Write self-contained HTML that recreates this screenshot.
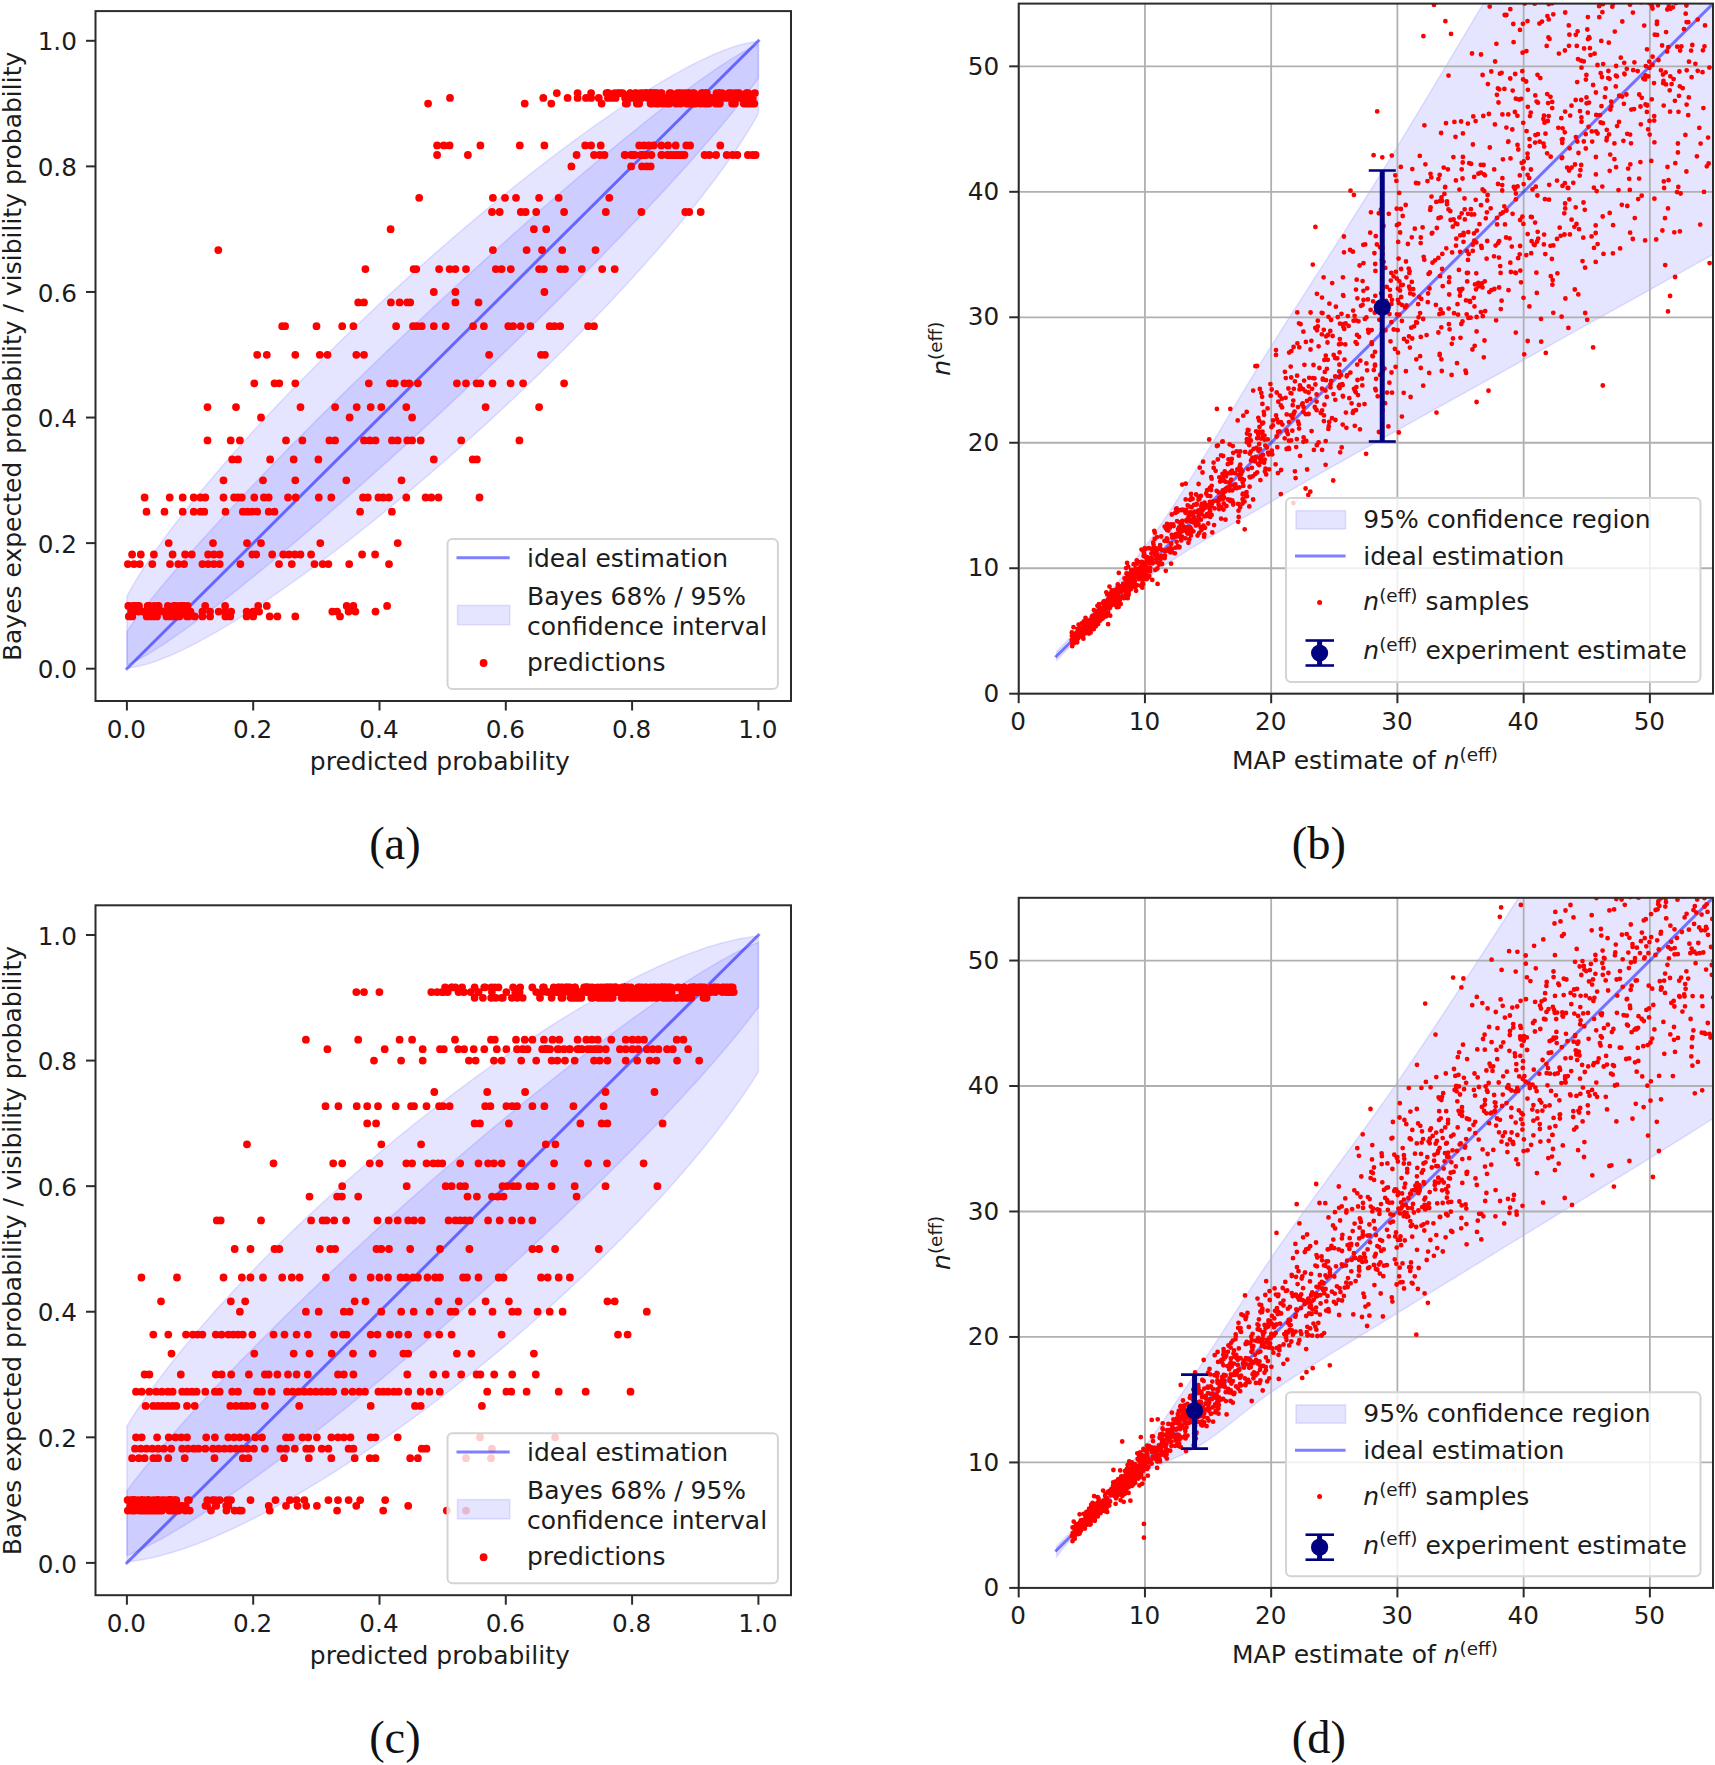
<!DOCTYPE html>
<html lang="en"><head><meta charset="utf-8"><title>Figure</title>
<style>html,body{margin:0;padding:0;background:#fff}svg{display:block}</style></head>
<body>
<svg width="1715" height="1765" viewBox="0 0 1715 1765">
<rect width="1715" height="1765" fill="#ffffff"/>
<g>
<path d="M126.9,596.05 L133.22,584.94 L139.53,574.61 L145.84,564.83 L152.16,555.48 L158.48,546.47 L164.79,537.73 L171.11,529.23 L177.42,520.93 L183.74,512.81 L190.05,504.84 L196.37,497.01 L202.68,489.31 L209,481.73 L215.31,474.26 L221.62,466.89 L227.94,459.6 L234.25,452.41 L240.57,445.3 L246.88,438.26 L253.2,431.3 L259.51,424.41 L265.83,417.58 L272.14,410.82 L278.46,404.12 L284.77,397.48 L291.09,390.89 L297.41,384.36 L303.72,377.89 L310.03,371.46 L316.35,365.09 L322.66,358.76 L328.98,352.48 L335.3,346.25 L341.61,340.06 L347.93,333.92 L354.24,327.82 L360.56,321.77 L366.87,315.76 L373.19,309.79 L379.5,303.86 L385.82,297.97 L392.13,292.12 L398.45,286.32 L404.76,280.55 L411.08,274.82 L417.39,269.13 L423.71,263.48 L430.02,257.87 L436.34,252.3 L442.65,246.76 L448.97,241.27 L455.28,235.81 L461.6,230.39 L467.91,225.02 L474.23,219.68 L480.54,214.37 L486.86,209.11 L493.17,203.89 L499.49,198.71 L505.8,193.56 L512.12,188.46 L518.43,183.4 L524.75,178.38 L531.06,173.41 L537.38,168.47 L543.69,163.58 L550,158.74 L556.32,153.94 L562.63,149.18 L568.95,144.48 L575.26,139.82 L581.58,135.21 L587.89,130.65 L594.21,126.15 L600.52,121.7 L606.84,117.3 L613.15,112.96 L619.47,108.68 L625.79,104.47 L632.1,100.32 L638.42,96.24 L644.73,92.23 L651.05,88.29 L657.36,84.43 L663.67,80.66 L669.99,76.98 L676.3,73.39 L682.62,69.9 L688.93,66.53 L695.25,63.27 L701.56,60.15 L707.88,57.16 L714.2,54.34 L720.51,51.7 L726.83,49.26 L733.14,47.04 L739.45,45.1 L745.77,43.46 L752.08,42.19 L758.4,41.33 L758.4,113.45 L752.08,124.56 L745.77,134.89 L739.45,144.67 L733.14,154.02 L726.83,163.03 L720.51,171.77 L714.2,180.27 L707.88,188.57 L701.56,196.69 L695.25,204.66 L688.93,212.49 L682.62,220.19 L676.3,227.77 L669.99,235.24 L663.67,242.61 L657.36,249.9 L651.05,257.09 L644.73,264.2 L638.42,271.24 L632.1,278.2 L625.79,285.09 L619.47,291.92 L613.15,298.68 L606.84,305.38 L600.52,312.02 L594.21,318.61 L587.89,325.14 L581.58,331.61 L575.26,338.04 L568.95,344.41 L562.63,350.74 L556.32,357.02 L550,363.25 L543.69,369.44 L537.38,375.58 L531.06,381.68 L524.75,387.73 L518.43,393.74 L512.12,399.71 L505.8,405.64 L499.49,411.53 L493.17,417.38 L486.86,423.18 L480.54,428.95 L474.23,434.68 L467.91,440.37 L461.6,446.02 L455.28,451.63 L448.97,457.2 L442.65,462.74 L436.34,468.23 L430.02,473.69 L423.71,479.11 L417.39,484.48 L411.08,489.82 L404.76,495.13 L398.45,500.39 L392.13,505.61 L385.82,510.79 L379.5,515.94 L373.19,521.04 L366.87,526.1 L360.56,531.12 L354.24,536.09 L347.93,541.03 L341.61,545.92 L335.3,550.76 L328.98,555.56 L322.66,560.32 L316.35,565.02 L310.03,569.68 L303.72,574.29 L297.41,578.85 L291.09,583.35 L284.77,587.8 L278.46,592.2 L272.14,596.54 L265.83,600.82 L259.51,605.03 L253.2,609.18 L246.88,613.26 L240.57,617.27 L234.25,621.21 L227.94,625.07 L221.62,628.84 L215.31,632.52 L209,636.11 L202.68,639.6 L196.37,642.97 L190.05,646.23 L183.74,649.35 L177.42,652.34 L171.11,655.16 L164.79,657.8 L158.48,660.24 L152.16,662.46 L145.84,664.4 L139.53,666.04 L133.22,667.31 L126.9,668.17Z" fill="#0000ff" fill-opacity="0.1" stroke="#0000ff" stroke-opacity="0.1" stroke-width="1.6"/>
<path d="M126.9,631.49 L133.22,622.62 L139.53,614.17 L145.84,606.02 L152.16,598.1 L158.48,590.36 L164.79,582.76 L171.11,575.3 L177.42,567.94 L183.74,560.68 L190.05,553.5 L196.37,546.4 L202.68,539.36 L209,532.39 L215.31,525.47 L221.62,518.61 L227.94,511.8 L234.25,505.04 L240.57,498.31 L246.88,491.63 L253.2,484.99 L259.51,478.39 L265.83,471.82 L272.14,465.29 L278.46,458.78 L284.77,452.31 L291.09,445.87 L297.41,439.46 L303.72,433.08 L310.03,426.72 L316.35,420.39 L322.66,414.09 L328.98,407.81 L335.3,401.56 L341.61,395.33 L347.93,389.12 L354.24,382.94 L360.56,376.78 L366.87,370.65 L373.19,364.53 L379.5,358.44 L385.82,352.37 L392.13,346.32 L398.45,340.29 L404.76,334.28 L411.08,328.3 L417.39,322.33 L423.71,316.39 L430.02,310.46 L436.34,304.56 L442.65,298.68 L448.97,292.82 L455.28,286.97 L461.6,281.15 L467.91,275.35 L474.23,269.57 L480.54,263.81 L486.86,258.07 L493.17,252.35 L499.49,246.66 L505.8,240.98 L512.12,235.33 L518.43,229.7 L524.75,224.09 L531.06,218.5 L537.38,212.94 L543.69,207.4 L550,201.88 L556.32,196.39 L562.63,190.92 L568.95,185.48 L575.26,180.07 L581.58,174.68 L587.89,169.32 L594.21,163.98 L600.52,158.68 L606.84,153.4 L613.15,148.16 L619.47,142.95 L625.79,137.78 L632.1,132.63 L638.42,127.53 L644.73,122.47 L651.05,117.45 L657.36,112.47 L663.67,107.54 L669.99,102.65 L676.3,97.83 L682.62,93.06 L688.93,88.35 L695.25,83.71 L701.56,79.15 L707.88,74.67 L714.2,70.3 L720.51,66.03 L726.83,61.89 L733.14,57.9 L739.45,54.1 L745.77,50.53 L752.08,47.27 L758.4,44.44 L758.4,78.01 L752.08,86.88 L745.77,95.33 L739.45,103.48 L733.14,111.4 L726.83,119.14 L720.51,126.74 L714.2,134.2 L707.88,141.56 L701.56,148.82 L695.25,156 L688.93,163.1 L682.62,170.14 L676.3,177.11 L669.99,184.03 L663.67,190.89 L657.36,197.7 L651.05,204.46 L644.73,211.19 L638.42,217.87 L632.1,224.51 L625.79,231.11 L619.47,237.68 L613.15,244.21 L606.84,250.72 L600.52,257.19 L594.21,263.63 L587.89,270.04 L581.58,276.42 L575.26,282.78 L568.95,289.11 L562.63,295.41 L556.32,301.69 L550,307.94 L543.69,314.17 L537.38,320.38 L531.06,326.56 L524.75,332.72 L518.43,338.85 L512.12,344.97 L505.8,351.06 L499.49,357.13 L493.17,363.18 L486.86,369.21 L480.54,375.22 L474.23,381.2 L467.91,387.17 L461.6,393.11 L455.28,399.04 L448.97,404.94 L442.65,410.82 L436.34,416.68 L430.02,422.53 L423.71,428.35 L417.39,434.15 L411.08,439.93 L404.76,445.69 L398.45,451.43 L392.13,457.15 L385.82,462.84 L379.5,468.52 L373.19,474.17 L366.87,479.8 L360.56,485.41 L354.24,491 L347.93,496.56 L341.61,502.1 L335.3,507.62 L328.98,513.11 L322.66,518.58 L316.35,524.02 L310.03,529.43 L303.72,534.82 L297.41,540.18 L291.09,545.52 L284.77,550.82 L278.46,556.1 L272.14,561.34 L265.83,566.55 L259.51,571.72 L253.2,576.87 L246.88,581.97 L240.57,587.03 L234.25,592.05 L227.94,597.03 L221.62,601.96 L215.31,606.85 L209,611.67 L202.68,616.44 L196.37,621.15 L190.05,625.79 L183.74,630.35 L177.42,634.83 L171.11,639.2 L164.79,643.47 L158.48,647.61 L152.16,651.6 L145.84,655.4 L139.53,658.97 L133.22,662.23 L126.9,665.06Z" fill="#0000ff" fill-opacity="0.1" stroke="#0000ff" stroke-opacity="0.1" stroke-width="1.6"/>
<line x1="126.9" y1="668.7" x2="758.4" y2="40.8" stroke="#0000ff" stroke-opacity="0.5" stroke-width="3.0" stroke-linecap="square"/>
<path fill="none" stroke="#ff0000" stroke-width="7.8" stroke-linecap="round" d="M257.2,354.8h0M266.8,354.8h0M295.3,354.8h0M319.8,354.8h0M327.5,354.8h0M356.3,354.8h0M364,354.8h0M489.1,354.8h0M541,354.8h0M544.9,354.8h0M254.3,383.3h0M274.5,383.3h0
M279.3,383.3h0M295.3,383.3h0M368.8,383.3h0M390,383.3h0M394.8,383.3h0M404.4,383.3h0M409.2,383.3h0M417.9,383.3h0M456.9,383.3h0M466,383.3h0M476.6,383.3h0M480.4,383.3h0
M492.5,383.3h0M510.6,383.3h0M523.1,383.3h0M564.1,383.3h0M207.5,407.1h0M236,407.1h0M300.5,407.1h0M335.1,407.1h0M356.7,407.1h0M370.7,407.1h0M381.3,407.1h0M406.3,407.1h0
M485.6,407.1h0M539.1,407.1h0M261,417.5h0M349.6,417.5h0M412.1,417.5h0M207.5,440.4h0M230.7,440.4h0M239.9,440.4h0M286,440.4h0M302.4,440.4h0M329.4,440.4h0M335.1,440.4h0
M364,440.4h0M369.8,440.4h0M375.5,440.4h0M391.9,440.4h0M397.7,440.4h0M407.3,440.4h0M412.1,440.4h0M420.7,440.4h0M461.2,440.4h0M519.4,440.4h0M232.2,459.4h0M238,459.4h0
M270.1,459.4h0M293.7,459.4h0M318.4,459.4h0M433.8,459.4h0M472.7,459.4h0M476.9,459.4h0M223.5,480.3h0M263,480.3h0M295.3,480.3h0M346.3,480.3h0M401.5,480.3h0M144.6,497.5h0
M169.7,497.5h0M182.7,497.5h0M193.7,497.5h0M200.5,497.5h0M205.3,497.5h0M223.5,497.5h0M234.1,497.5h0M238,497.5h0M241.8,497.5h0M254.3,497.5h0M263.9,497.5h0M268.7,497.5h0
M288,497.5h0M295.7,497.5h0M318.8,497.5h0M331.3,497.5h0M363,497.5h0M367.8,497.5h0M378.4,497.5h0M383.2,497.5h0M389,497.5h0M406.3,497.5h0M425.6,497.5h0M431.3,497.5h0
M438.5,497.5h0M479.5,497.5h0M146.5,511.7h0M164.5,511.7h0M182.7,511.7h0M193.7,511.7h0M200.5,511.7h0M204.3,511.7h0M225.5,511.7h0M242.8,511.7h0M247.6,511.7h0M252.4,511.7h0
M257.2,511.7h0M268.7,511.7h0M274.5,511.7h0M360.1,511.7h0M391.9,511.7h0M168.7,543.1h0M213,543.1h0M247,543.1h0M261,543.1h0M320.3,543.1h0M397.7,543.1h0M132.1,554.5h0
M140.8,554.5h0M153.9,554.5h0M172.6,554.5h0M185.1,554.5h0M191.8,554.5h0M208.1,554.5h0M213.9,554.5h0M219.7,554.5h0M252.4,554.5h0M256.2,554.5h0M272.2,554.5h0M283.2,554.5h0
M288.9,554.5h0M294.8,554.5h0M300.5,554.5h0M311.1,554.5h0M362.1,554.5h0M375.1,554.5h0M127.9,564.1h0M134,564.1h0M139.8,564.1h0M152.3,564.1h0M170,564.1h0M178.3,564.1h0
M184.1,564.1h0M202.4,564.1h0M208.1,564.1h0M213.9,564.1h0M219.7,564.1h0M240.4,564.1h0M279,564.1h0M291.8,564.1h0M314.5,564.1h0M322.7,564.1h0M328.4,564.1h0M349.2,564.1h0
M389,564.1h0M205.2,605.9h0M225.1,605.9h0M258.2,605.9h0M266.8,605.9h0M346.7,605.9h0M353.4,605.9h0M387.1,605.9h0M139,605.9h0M128.8,605.9h0M157.1,605.9h0M173.8,605.9h0
M154.3,605.9h0M158.5,605.9h0M128.3,605.9h0M158.6,605.9h0M187.6,605.9h0M181.8,605.9h0M174.1,605.9h0M134.5,605.9h0M184.5,605.9h0M182.2,605.9h0M138.1,605.9h0M167.9,605.9h0
M128.8,605.9h0M135,605.9h0M147.7,605.9h0M137.6,605.9h0M175.9,605.9h0M179.7,605.9h0M149.5,605.9h0M147.9,605.9h0M134.7,605.9h0M132.9,605.9h0M202.4,611.6h0M210.1,611.6h0
M218.7,611.6h0M225.4,611.6h0M231.2,611.6h0M246.6,611.6h0M253.2,611.6h0M259.1,611.6h0M332.3,611.6h0M337.1,611.6h0M348.6,611.6h0M355.4,611.6h0M375.5,611.6h0M173,611.6h0
M165.8,611.6h0M131.1,611.6h0M158.1,611.6h0M153.2,611.6h0M181.6,611.6h0M173.3,611.6h0M165.9,611.6h0M162.8,611.6h0M188.1,611.6h0M190.5,611.6h0M149.1,611.6h0M142.8,611.6h0
M178.3,611.6h0M131.6,611.6h0M150.8,611.6h0M132,611.6h0M147.9,611.6h0M132,611.6h0M146,611.6h0M177.9,611.6h0M185.3,611.6h0M178.1,611.6h0M163.4,611.6h0M166.8,611.6h0
M150.6,611.6h0M138.3,611.6h0M155.4,611.6h0M174.3,611.6h0M131.5,611.6h0M194.7,616.4h0M202.4,616.4h0M210.1,616.4h0M225.4,616.4h0M230.3,616.4h0M246.6,616.4h0M253.2,616.4h0
M269.7,616.4h0M277.4,616.4h0M295.3,616.4h0M340,616.4h0M128.9,616.4h0M176.7,616.4h0M146.7,616.4h0M172.3,616.4h0M174.4,616.4h0M187,616.4h0M153.1,616.4h0M150.4,616.4h0
M179,616.4h0M176.3,616.4h0M169.2,616.4h0M179.3,616.4h0M168.5,616.4h0M188.6,616.4h0M148.8,616.4h0M174.6,616.4h0M188.1,616.4h0M148.9,616.4h0M166.5,616.4h0M150.9,616.4h0
M157,616.4h0M132.3,616.4h0M128.8,616.4h0M176,616.4h0M156.4,616.4h0M167.3,616.4h0M174.7,616.4h0M154.2,616.4h0M282.2,326.2h0M285.1,326.2h0M316.5,326.2h0M342.2,326.2h0
M353.4,326.2h0M396.1,326.2h0M413,326.2h0M416.9,326.2h0M421.7,326.2h0M433.8,326.2h0M445.7,326.2h0M473.1,326.2h0M483.9,326.2h0M508.3,326.2h0M513.1,326.2h0M520.8,326.2h0
M530.4,326.2h0M549.7,326.2h0M554.5,326.2h0M560.2,326.2h0M588.1,326.2h0M594,326.2h0M358.2,302.4h0M364,302.4h0M390.9,302.4h0M399.6,302.4h0M407.3,302.4h0M410.2,302.4h0
M455.4,302.4h0M478.5,302.4h0M433.8,292h0M455.4,292h0M544.4,292h0M365.4,269.1h0M413.6,269.1h0M416.3,269.1h0M439.1,269.1h0M449.6,269.1h0M455.4,269.1h0M466,269.1h0
M495.8,269.1h0M501.6,269.1h0M510.8,269.1h0M539.1,269.1h0M543.9,269.1h0M560.2,269.1h0M565,269.1h0M581.8,269.1h0M602.2,269.1h0M614.7,269.1h0M218.3,250.1h0M492.9,250.1h0
M526.6,250.1h0M542,250.1h0M562.2,250.1h0M595.5,250.1h0M390.6,229.2h0M533.9,229.2h0M546.2,229.2h0M492,212h0M499.7,212h0M520.8,212h0M525.6,212h0M536.2,212h0
M564.1,212h0M605.8,212h0M641.4,212h0M685.3,212h0M689.2,212h0M700.7,212h0M419.2,197.8h0M492.9,197.8h0M505,197.8h0M516,197.8h0M539.1,197.8h0M558.7,197.8h0
M609.3,197.8h0M571.4,166.4h0M631.1,166.4h0M642,166.4h0M646.8,166.4h0M650.7,166.4h0M437.1,155h0M467.9,155h0M576.6,155h0M594,155h0M599.7,155h0M604.5,155h0
M704.6,155h0M709.4,155h0M716.1,155h0M726.7,155h0M732.5,155h0M737.3,155h0M747.9,155h0M752.7,155h0M755.6,155h0M646.1,155h0M631,155h0M678.4,155h0
M681.3,155h0M673.8,155h0M684.5,155h0M667.3,155h0M671,155h0M632.8,155h0M676.4,155h0M643.5,155h0M651.4,155h0M642.4,155h0M661.3,155h0M668.1,155h0
M661.8,155h0M642.3,155h0M634.7,155h0M682.2,155h0M641.1,155h0M651.4,155h0M625.1,155h0M641,155h0M624.7,155h0M437.1,145.4h0M443.8,145.4h0M449.6,145.4h0
M480.4,145.4h0M519.8,145.4h0M544.4,145.4h0M585.2,145.4h0M591.1,145.4h0M600.7,145.4h0M639.2,145.4h0M644,145.4h0M648.8,145.4h0M653.6,145.4h0M661.3,145.4h0M668,145.4h0
M675.7,145.4h0M686.3,145.4h0M690.1,145.4h0M720.3,145.4h0M428.1,103.6h0M524.7,103.6h0M551.3,103.6h0M601.6,103.6h0M666.4,103.6h0M716.2,103.6h0M752.3,103.6h0M704.8,103.6h0
M656.2,103.6h0M709,103.6h0M705,103.6h0M732.1,103.6h0M692.3,103.6h0M743.8,103.6h0M676.1,103.6h0M658.5,103.6h0M690.3,103.6h0M745.3,103.6h0M718.2,103.6h0M686.8,103.6h0
M687.3,103.6h0M708,103.6h0M680.5,103.6h0M694.6,103.6h0M751.9,103.6h0M746.7,103.6h0M734.1,103.6h0M636.8,103.6h0M695.4,103.6h0M669.5,103.6h0M743.8,103.6h0M662.3,103.6h0
M746.4,103.6h0M652,103.6h0M676.8,103.6h0M750.4,103.6h0M700.7,103.6h0M746.6,103.6h0M693,103.6h0M650.6,103.6h0M716.7,103.6h0M690.6,103.6h0M688.4,103.6h0M638.1,103.6h0
M639.2,103.6h0M746.3,103.6h0M749.9,103.6h0M751.2,103.6h0M668.3,103.6h0M625.7,103.6h0M695,103.6h0M719.9,103.6h0M707.9,103.6h0M626.7,103.6h0M651.2,103.6h0M715.8,103.6h0
M627,103.6h0M734.9,103.6h0M754.4,103.6h0M450,97.9h0M543.3,97.9h0M567.6,97.9h0M577.6,97.9h0M591.1,97.9h0M598.8,97.9h0M586,97.9h0M641.4,97.9h0M611.9,97.9h0
M752.8,97.9h0M720.4,97.9h0M672.8,97.9h0M676.5,97.9h0M743,97.9h0M657.8,97.9h0M611.8,97.9h0M697.1,97.9h0M651.2,97.9h0M707.4,97.9h0M748,97.9h0M658.6,97.9h0
M641.3,97.9h0M611.7,97.9h0M730.3,97.9h0M615.6,97.9h0M748.6,97.9h0M711.2,97.9h0M742.4,97.9h0M727.6,97.9h0M632.7,97.9h0M630.5,97.9h0M750,97.9h0M648,97.9h0
M724,97.9h0M629.7,97.9h0M649.2,97.9h0M706.2,97.9h0M641.5,97.9h0M718.1,97.9h0M737.5,97.9h0M652.4,97.9h0M649.1,97.9h0M607.9,97.9h0M668,97.9h0M613.6,97.9h0
M691.1,97.9h0M708.4,97.9h0M690.2,97.9h0M695.6,97.9h0M694.9,97.9h0M741.1,97.9h0M684.5,97.9h0M734.8,97.9h0M657.2,97.9h0M625.1,97.9h0M637.5,97.9h0M724.4,97.9h0
M638.6,97.9h0M721.3,97.9h0M741.1,97.9h0M686.5,97.9h0M625.5,97.9h0M698.6,97.9h0M661.4,97.9h0M741.9,97.9h0M637.7,97.9h0M639.3,97.9h0M677.1,97.9h0M678.8,97.9h0
M632.3,97.9h0M660.7,97.9h0M705.4,97.9h0M675.3,97.9h0M612.8,97.9h0M666.9,97.9h0M667,97.9h0M671.8,97.9h0M556.8,93.1h0M577.6,93.1h0M591.1,93.1h0M607.3,93.1h0
M645.4,93.1h0M748.3,93.1h0M738.1,93.1h0M746.9,93.1h0M719.2,93.1h0M669.7,93.1h0M746.4,93.1h0M649.4,93.1h0M694,93.1h0M693.1,93.1h0M670.8,93.1h0M641.8,93.1h0
M654,93.1h0M701.5,93.1h0M646.9,93.1h0M656.4,93.1h0M657.6,93.1h0M653.1,93.1h0M729.8,93.1h0M686.7,93.1h0M606.5,93.1h0M716.5,93.1h0M680.1,93.1h0M722.2,93.1h0
M679,93.1h0M651,93.1h0M731.4,93.1h0M630.1,93.1h0M646,93.1h0M677.4,93.1h0M734.5,93.1h0M621.2,93.1h0M655.2,93.1h0M684.7,93.1h0M706.9,93.1h0M619.7,93.1h0
M718.6,93.1h0M688.4,93.1h0M682.4,93.1h0M661.6,93.1h0M651.6,93.1h0M739.2,93.1h0M754.9,93.1h0M630.3,93.1h0M635.9,93.1h0M705.2,93.1h0M720,93.1h0M728.9,93.1h0
M649.7,93.1h0M635.5,93.1h0M614.7,93.1h0M661,93.1h0M689.3,93.1h0M736.5,93.1h0M608.7,93.1h0M617.3,93.1h0M703.1,93.1h0M705.9,93.1h0M622.6,93.1h0M618.3,93.1h0
M607.9,93.1h0M702.4,93.1h0M646.3,93.1h0M640.4,93.1h0"/>
<rect x="95.5" y="11.1" width="695.5" height="689.9" fill="none" stroke="#2b2b2b" stroke-width="2"/>
<g stroke="#2b2b2b" stroke-width="2">
<line x1="126.9" y1="701" x2="126.9" y2="710.5"/>
<line x1="95.5" y1="668.7" x2="86" y2="668.7"/>
<line x1="253.2" y1="701" x2="253.2" y2="710.5"/>
<line x1="95.5" y1="543.12" x2="86" y2="543.12"/>
<line x1="379.5" y1="701" x2="379.5" y2="710.5"/>
<line x1="95.5" y1="417.54" x2="86" y2="417.54"/>
<line x1="505.8" y1="701" x2="505.8" y2="710.5"/>
<line x1="95.5" y1="291.96" x2="86" y2="291.96"/>
<line x1="632.1" y1="701" x2="632.1" y2="710.5"/>
<line x1="95.5" y1="166.38" x2="86" y2="166.38"/>
<line x1="758.4" y1="701" x2="758.4" y2="710.5"/>
<line x1="95.5" y1="40.8" x2="86" y2="40.8"/>
</g>
<g font-family="'DejaVu Sans','Liberation Sans',sans-serif" font-size="25.0" fill="#1c1c1c">
<text x="126.4" y="738.2" text-anchor="middle" font-size="24.7">0.0</text>
<text x="76.9" y="678.3" text-anchor="end" font-size="24.7">0.0</text>
<text x="252.7" y="738.2" text-anchor="middle" font-size="24.7">0.2</text>
<text x="76.9" y="552.72" text-anchor="end" font-size="24.7">0.2</text>
<text x="379" y="738.2" text-anchor="middle" font-size="24.7">0.4</text>
<text x="76.9" y="427.14" text-anchor="end" font-size="24.7">0.4</text>
<text x="505.3" y="738.2" text-anchor="middle" font-size="24.7">0.6</text>
<text x="76.9" y="301.56" text-anchor="end" font-size="24.7">0.6</text>
<text x="631.6" y="738.2" text-anchor="middle" font-size="24.7">0.8</text>
<text x="76.9" y="175.98" text-anchor="end" font-size="24.7">0.8</text>
<text x="757.9" y="738.2" text-anchor="middle" font-size="24.7">1.0</text>
<text x="76.9" y="50.4" text-anchor="end" font-size="24.7">1.0</text>
<text x="439.8" y="769.9" text-anchor="middle">predicted probability</text>
<text transform="translate(20.7,356.4) rotate(-90)" text-anchor="middle">Bayes expected probability / visibility probability</text>
<rect x="447.5" y="539" width="330.4" height="150" rx="5" ry="5" fill="#ffffff" fill-opacity="0.8" stroke="#d4d4d4" stroke-width="2"/>
<line x1="456.5" y1="557.8" x2="509.7" y2="557.8" stroke="#0000ff" stroke-opacity="0.5" stroke-width="3.0"/>
<rect x="457.5" y="605.4" width="52.2" height="19.3" fill="#0000ff" fill-opacity="0.1" stroke="#0000ff" stroke-opacity="0.1" stroke-width="1.6"/>
<circle cx="483.6" cy="663" r="3.9" fill="#ff0000"/>
<text x="527" y="566.6">ideal estimation</text>
<text x="527" y="604.7">Bayes 68% / 95%</text>
<text x="527" y="635">confidence interval</text>
<text x="527" y="670.6">predictions</text>
</g>
</g>
<defs><clipPath id="clip0"><rect x="1018.7" y="3.6" width="694.3" height="690.1"/></clipPath></defs>
<g>
<g clip-path="url(#clip0)">
<path d="M1056.57,651.63 L1062.88,645.12 L1069.19,638.46 L1075.51,631.64 L1081.82,624.67 L1088.13,617.55 L1094.44,610.28 L1100.75,602.86 L1107.07,595.3 L1113.38,587.59 L1119.69,579.73 L1126,571.74 L1132.31,563.6 L1138.62,555.32 L1144.94,546.9 L1151.25,538.25 L1157.56,529.32 L1163.87,520.12 L1170.18,510.67 L1176.5,501.01 L1182.81,491.15 L1189.12,481.12 L1195.43,470.94 L1201.74,460.64 L1208.05,450.25 L1214.37,439.77 L1220.68,429.25 L1226.99,418.7 L1233.3,408.15 L1239.61,397.62 L1245.93,387.13 L1252.24,376.72 L1258.55,366.4 L1264.86,356.2 L1271.17,346.14 L1277.48,336.18 L1283.8,326.26 L1290.11,316.37 L1296.42,306.5 L1302.73,296.65 L1309.04,286.82 L1315.36,276.98 L1321.67,267.15 L1327.98,257.31 L1334.29,247.46 L1340.6,237.59 L1346.91,227.69 L1353.23,217.76 L1359.54,207.8 L1365.85,197.78 L1372.16,187.72 L1378.47,177.6 L1384.79,167.41 L1391.1,157.06 L1397.41,146.64 L1403.72,136.21 L1410.03,125.76 L1416.34,115.31 L1422.66,104.83 L1428.97,94.35 L1435.28,83.85 L1441.59,73.33 L1447.9,62.81 L1454.22,52.27 L1460.53,41.71 L1466.84,31.14 L1473.15,20.56 L1479.46,9.96 L1485.77,-0.65 L1492.09,-11.28 L1498.4,-21.94 L1504.71,-32.62 L1511.02,-43.31 L1517.33,-54.02 L1523.65,-64.75 L1529.96,-75.48 L1536.27,-86.22 L1542.58,-96.96 L1548.89,-107.71 L1555.2,-118.45 L1561.52,-129.19 L1567.83,-139.93 L1574.14,-150.65 L1580.45,-161.36 L1586.76,-172.06 L1593.08,-182.75 L1599.39,-193.44 L1605.7,-204.12 L1612.01,-214.8 L1618.32,-225.48 L1624.63,-236.15 L1630.95,-246.83 L1637.26,-257.5 L1643.57,-268.17 L1649.88,-278.84 L1656.19,-289.5 L1662.51,-300.16 L1668.82,-310.82 L1675.13,-321.48 L1681.44,-332.13 L1687.75,-342.78 L1694.06,-353.43 L1700.38,-364.08 L1706.69,-374.72 L1713,-385.37 L1713,254.55 L1706.69,258.06 L1700.38,261.57 L1694.06,265.09 L1687.75,268.6 L1681.44,272.11 L1675.13,275.62 L1668.82,279.14 L1662.51,282.65 L1656.19,286.16 L1649.88,289.68 L1643.57,293.19 L1637.26,296.7 L1630.95,300.22 L1624.63,303.73 L1618.32,307.24 L1612.01,310.76 L1605.7,314.27 L1599.39,317.78 L1593.08,321.3 L1586.76,324.81 L1580.45,328.32 L1574.14,331.84 L1567.83,335.35 L1561.52,338.86 L1555.2,342.38 L1548.89,345.89 L1542.58,349.4 L1536.27,352.92 L1529.96,356.43 L1523.65,359.94 L1517.33,363.45 L1511.02,366.96 L1504.71,370.47 L1498.4,373.98 L1492.09,377.48 L1485.77,380.98 L1479.46,384.49 L1473.15,387.99 L1466.84,391.49 L1460.53,395 L1454.22,398.5 L1447.9,402.01 L1441.59,405.52 L1435.28,409.04 L1428.97,412.55 L1422.66,416.07 L1416.34,419.6 L1410.03,423.13 L1403.72,426.67 L1397.41,430.21 L1391.1,433.75 L1384.79,437.28 L1378.47,440.81 L1372.16,444.33 L1365.85,447.86 L1359.54,451.38 L1353.23,454.91 L1346.91,458.44 L1340.6,461.97 L1334.29,465.51 L1327.98,469.06 L1321.67,472.63 L1315.36,476.2 L1309.04,479.79 L1302.73,483.39 L1296.42,487.02 L1290.11,490.66 L1283.8,494.33 L1277.48,498.01 L1271.17,501.73 L1264.86,505.43 L1258.55,509.09 L1252.24,512.73 L1245.93,516.35 L1239.61,519.95 L1233.3,523.56 L1226.99,527.17 L1220.68,530.81 L1214.37,534.47 L1208.05,538.18 L1201.74,541.93 L1195.43,545.74 L1189.12,549.62 L1182.81,553.58 L1176.5,557.63 L1170.18,561.77 L1163.87,566.02 L1157.56,570.39 L1151.25,574.89 L1144.94,579.52 L1138.62,584.32 L1132.31,589.3 L1126,594.46 L1119.69,599.79 L1113.38,605.28 L1107.07,610.91 L1100.75,616.69 L1094.44,622.6 L1088.13,628.63 L1081.82,634.78 L1075.51,641.04 L1069.19,647.39 L1062.88,653.84 L1056.57,660.36Z" fill="#0000ff" fill-opacity="0.1" stroke="#0000ff" stroke-opacity="0.1" stroke-width="1.6"/>
<g stroke="#b0b0b0" stroke-width="1.8">
<line x1="1018.7" y1="3.6" x2="1018.7" y2="693.7"/>
<line x1="1018.7" y1="693.7" x2="1713" y2="693.7"/>
<line x1="1144.94" y1="3.6" x2="1144.94" y2="693.7"/>
<line x1="1018.7" y1="568.23" x2="1713" y2="568.23"/>
<line x1="1271.17" y1="3.6" x2="1271.17" y2="693.7"/>
<line x1="1018.7" y1="442.75" x2="1713" y2="442.75"/>
<line x1="1397.41" y1="3.6" x2="1397.41" y2="693.7"/>
<line x1="1018.7" y1="317.28" x2="1713" y2="317.28"/>
<line x1="1523.65" y1="3.6" x2="1523.65" y2="693.7"/>
<line x1="1018.7" y1="191.81" x2="1713" y2="191.81"/>
<line x1="1649.88" y1="3.6" x2="1649.88" y2="693.7"/>
<line x1="1018.7" y1="66.34" x2="1713" y2="66.34"/>
</g>
<line x1="1055.31" y1="657.31" x2="1713" y2="3.6" stroke="#0000ff" stroke-opacity="0.5" stroke-width="3.0"/>
<path fill="none" stroke="#ff0000" stroke-width="4.8" stroke-linecap="round" d="M1088,625.2h0M1135.5,568.4h0M1086.9,630.5h0M1139,579.1h0M1107.5,608.2h0M1116.5,600.4h0M1127.8,581.3h0M1109.7,608.3h0M1093.5,618.9h0M1085.5,626.3h0M1077.6,634.2h0M1125.8,585.9h0
M1104,617.1h0M1083.3,635.3h0M1136.1,590.8h0M1091.8,620.4h0M1102,607.8h0M1093.4,617.1h0M1117.8,584.4h0M1114.2,600.7h0M1115.6,589.9h0M1091.2,620.9h0M1092.6,615.8h0M1090.3,626.1h0
M1095.7,617.7h0M1082.3,634.1h0M1083.8,633.9h0M1142.3,587.7h0M1142,561.9h0M1085.5,625.7h0M1073.5,627.2h0M1086.7,625.8h0M1123,587.1h0M1128.8,591.6h0M1073.4,634.9h0M1114,603.1h0
M1071.8,632.5h0M1109.5,586.6h0M1118.6,606.9h0M1143.9,574.6h0M1090.7,628.4h0M1130.5,588.5h0M1135.5,587.1h0M1139.3,570.1h0M1071.9,635.8h0M1106.1,606h0M1143.6,556h0M1100.9,609h0
M1131.3,572.4h0M1111.7,590.5h0M1128.2,590.6h0M1107.2,594.4h0M1073.9,642h0M1078.1,638.4h0M1079.9,629h0M1090.1,626.9h0M1142.4,578.8h0M1118,589.2h0M1131.5,583.3h0M1113.2,603.4h0
M1118.2,599.8h0M1131.2,588.7h0M1139.6,571.1h0M1138.5,575.4h0M1132.1,585.6h0M1078.6,624.6h0M1098.2,611h0M1074.3,643.1h0M1111.7,599.2h0M1130,588.1h0M1075.5,639.3h0M1085.5,617.8h0
M1098.5,606.8h0M1089.6,621.7h0M1129.9,573.9h0M1097.5,623h0M1118.5,589.3h0M1107.8,600h0M1114.4,603.2h0M1140.5,585.6h0M1140.8,566.6h0M1079.9,631.6h0M1133.5,580h0M1097.1,615.5h0
M1079.1,633.2h0M1099.8,607.8h0M1109.1,594h0M1142.1,574.4h0M1098.9,606.4h0M1072.6,641.8h0M1134.7,583.8h0M1079.9,634h0M1106.7,602.3h0M1134,574.8h0M1109.4,603.8h0M1104.4,614.6h0
M1130.3,574.8h0M1073.2,640.8h0M1113.6,599.7h0M1101.8,615.8h0M1143.8,552.6h0M1130.4,585.9h0M1075.7,642.3h0M1085.7,623.4h0M1104.8,608.5h0M1123.2,583.6h0M1096,612.4h0M1098.1,624.1h0
M1139.2,575.9h0M1141.5,549.6h0M1101.6,608.5h0M1137.5,571.1h0M1095.9,611.4h0M1077.8,629.7h0M1110.3,602.5h0M1120.1,586.5h0M1137.1,569.1h0M1142.4,568.1h0M1128.1,584.9h0M1127.3,579.6h0
M1123.7,586.5h0M1123.1,596.5h0M1127.9,594.5h0M1143.1,569.9h0M1099.1,614.3h0M1077.8,628.8h0M1089.3,623.7h0M1087.9,625.1h0M1098.3,616.8h0M1131,580.3h0M1076.1,635.1h0M1104.6,601.5h0
M1131.3,585.5h0M1091.1,619.2h0M1076.4,632.6h0M1089.4,631.4h0M1077.9,633.7h0M1130.9,589h0M1084.2,631.1h0M1086,628.1h0M1131.4,584.1h0M1131,588.6h0M1114.9,597.1h0M1138.7,569.6h0
M1076.1,637.9h0M1142.4,579.5h0M1113.5,602.6h0M1093.9,610.1h0M1132.2,576.1h0M1120,596.8h0M1143.9,577.9h0M1079.6,632.3h0M1114.3,597.5h0M1106.3,592.3h0M1119.5,604.1h0M1089.4,621.4h0
M1074,634.8h0M1111.6,594.3h0M1098.4,622h0M1137.1,572.1h0M1105.4,607h0M1102.4,608.6h0M1118.1,592.1h0M1110.3,607.1h0M1142.1,566.3h0M1129.5,590h0M1108.1,613.8h0M1087.2,628.5h0
M1115.9,595.8h0M1126.5,573.4h0M1127.1,589h0M1144.5,554.7h0M1087.7,629.2h0M1102.9,613.9h0M1102.8,618.5h0M1095,618.5h0M1098.5,614.9h0M1106.7,601.5h0M1111.4,604.5h0M1091.1,621.2h0
M1081.6,636.7h0M1093.8,620.7h0M1081.7,623.5h0M1095,623.6h0M1121.4,592h0M1115.7,591.8h0M1144.7,562.7h0M1112.8,602.1h0M1111.9,604.9h0M1118.8,603.1h0M1124.9,578.9h0M1116.8,607.2h0
M1114.8,601.2h0M1116,605.3h0M1097.7,618.9h0M1128.6,594.7h0M1116,598.6h0M1094.4,615h0M1089.7,626.7h0M1076.9,636.6h0M1097.2,615.7h0M1072.7,642.1h0M1083.8,621.3h0M1076.1,640.7h0
M1092.1,624.2h0M1097.2,611.3h0M1115,597.5h0M1128.5,586.4h0M1117.5,588h0M1083.4,638.7h0M1137.2,573.6h0M1125.2,578.4h0M1108.2,612.7h0M1118.8,572.9h0M1109,601.9h0M1084,627.1h0
M1118.7,590.8h0M1144.1,567.8h0M1128.1,566.6h0M1085,633.4h0M1080.5,636.1h0M1139.8,568.1h0M1138.4,569.3h0M1126.6,594.2h0M1127.4,577h0M1082.2,635.8h0M1131.2,586.8h0M1085.8,629.4h0
M1083,629.4h0M1101.5,612.6h0M1071.7,640h0M1133.6,574h0M1083.5,626h0M1125.8,594.3h0M1114.4,602.6h0M1128.1,573.6h0M1115.6,593.1h0M1142.1,564.3h0M1099.5,619.8h0M1108.1,624.2h0
M1096.5,614.3h0M1126.1,568.1h0M1093.7,629.2h0M1130.2,580.4h0M1078,634.3h0M1089,633.5h0M1103.8,601.4h0M1080.9,630.9h0M1086.6,629.9h0M1133.3,575.1h0M1099,615.4h0M1087.7,620.4h0
M1133.7,564.2h0M1113.8,601.1h0M1118.1,590.6h0M1136.8,560.3h0M1124,598.2h0M1091.1,621.6h0M1072.4,644.1h0M1111.9,596h0M1123.5,597.4h0M1130.7,579.5h0M1085.7,629.5h0M1118.2,593h0
M1140.4,576.2h0M1090.6,632.5h0M1093.1,628.3h0M1102.9,602.9h0M1113.5,591h0M1144.2,571.7h0M1114.8,596.7h0M1136.7,585.2h0M1119.8,600.4h0M1106.3,616.3h0M1094.1,620.9h0M1097.4,605.8h0
M1128.6,593.7h0M1084.7,624.2h0M1081.8,628.9h0M1087.3,622.8h0M1120.7,603.9h0M1098.9,620.5h0M1086.8,621.1h0M1095.9,626.3h0M1077.7,635.9h0M1103.7,611.6h0M1131.1,583.1h0M1104.4,603.8h0
M1104.5,611.9h0M1073.7,635.2h0M1092.1,616.4h0M1077.2,642.3h0M1075.2,637.5h0M1134.9,581.6h0M1124,589.1h0M1132.5,586.7h0M1081.5,632h0M1098.5,606.9h0M1138.6,573.5h0M1103.5,616.4h0
M1139.5,572.4h0M1142.1,565.1h0M1072.2,646.2h0M1103.4,612.7h0M1114.4,602h0M1097.3,611.5h0M1099.3,615.6h0M1097.8,616.3h0M1088.6,622h0M1073.6,636.7h0M1125.3,590.5h0M1144.8,548.2h0
M1074.5,636.1h0M1134.6,570.5h0M1111.6,602.8h0M1073.1,640.8h0M1076.8,640.4h0M1110.2,615.7h0M1079.4,628h0M1093.4,619.8h0M1091.8,626.2h0M1142.8,572.3h0M1106.1,601.9h0M1092.6,619.6h0
M1140.4,562.1h0M1142.5,582.7h0M1124.4,588.7h0M1081.7,632.1h0M1136.9,563.7h0M1104,605.8h0M1129.3,578.2h0M1124.5,578.3h0M1119.5,588.8h0M1127.9,596.1h0M1131.2,569.9h0M1105.5,603.4h0
M1107.2,606.5h0M1078.8,632h0M1098.9,604.1h0M1136.6,569.1h0M1087.8,625.3h0M1126.6,581.7h0M1130.8,588h0M1086.1,624.3h0M1127.7,585.3h0M1119.8,590.2h0M1143.1,584.3h0M1100.1,620.7h0
M1127.1,562.9h0M1133.5,581.2h0M1099.5,614.1h0M1088.1,622h0M1098.7,615.5h0M1119.5,590.9h0M1090.6,630.6h0M1134.6,578.1h0M1093.3,619.5h0M1127.7,598.2h0M1095.2,625.2h0M1108.6,598.5h0
M1255.3,474h0M1206.2,515.5h0M1223.7,475.2h0M1188.2,527.2h0M1204.1,536.7h0M1152.7,563.3h0M1210.5,504.9h0M1201.6,514.2h0M1182.7,509.6h0M1166.8,540.2h0M1187.9,532.3h0M1182.2,484.6h0
M1190.7,521.1h0M1247,496.2h0M1258,463.8h0M1260.4,480.1h0M1198.2,524.6h0M1258.4,450.8h0M1219,509h0M1270.7,395.7h0M1160.6,548.9h0M1240.5,478.9h0M1219.2,498h0M1209.9,501.8h0
M1240.7,469h0M1250.1,477.4h0M1249.8,435h0M1188.4,542.8h0M1193,514.7h0M1220.1,481.6h0M1150.3,559.4h0M1247.8,429.8h0M1218.9,505.6h0M1200.9,495.9h0M1225.5,519.7h0M1265.5,468.7h0
M1246.5,492.2h0M1227.8,464.2h0M1171.1,563.7h0M1267.6,408.4h0M1193.8,517.4h0M1259.2,465.1h0M1208.2,523.5h0M1229.8,486.6h0M1257,366h0M1152.3,579.9h0M1182.1,536.6h0M1167.4,539.5h0
M1150.8,558.8h0M1188.1,519h0M1260.5,461.9h0M1176.8,536.4h0M1159.2,564.5h0M1263.8,411.8h0M1207.2,515h0M1204.5,516.3h0M1231.8,459h0M1248.1,469.1h0M1173.6,526.1h0M1170.5,548.1h0
M1198.5,524h0M1251.9,467.8h0M1262,459.3h0M1169,548.7h0M1232,470.6h0M1201.2,506.4h0M1255.8,456.9h0M1182.3,520.9h0M1179,527.3h0M1147.7,557.5h0M1254.9,460.5h0M1165.9,550.4h0
M1180.1,532.4h0M1176,509.2h0M1261.3,392.9h0M1155.2,554.9h0M1187.4,533.6h0M1230.8,460.3h0M1165.8,528.3h0M1217.9,445.5h0M1198.5,499.5h0M1146.6,576.1h0M1221.5,507.5h0M1188.7,529.6h0
M1171.6,524.6h0M1268,452.6h0M1250.8,440.5h0M1201.6,529.8h0M1185.5,512.8h0M1146.7,561.5h0M1236.8,488.2h0M1178.6,536h0M1209.5,508.8h0M1224,480.9h0M1240,478.8h0M1164.9,555.7h0
M1156.5,558.7h0M1242.7,482.2h0M1151.4,557.9h0M1196.3,520.3h0M1149.5,570.5h0M1171.2,549.4h0M1168.8,548.8h0M1251,460.5h0M1238.7,474.7h0M1175.8,547.7h0M1218.9,500.3h0M1207.4,505.3h0
M1156.4,548.5h0M1190.1,499.8h0M1239.7,466.4h0M1161.2,536.5h0M1175.2,512.9h0M1189.9,512.5h0M1145.4,549.2h0M1242.6,499.2h0M1194.8,511.6h0M1225.6,489h0M1211.3,506.1h0M1243.3,485.9h0
M1228.1,499.5h0M1195.3,511.9h0M1160.5,559.5h0M1198.5,513.4h0M1145.6,574.9h0M1154.8,532.7h0M1249.7,453.6h0M1210.2,516.2h0M1244.5,501.6h0M1238.2,521.8h0M1211.6,514.9h0M1236.7,451.3h0
M1264.1,462.7h0M1264.7,459.6h0M1177.1,521.1h0M1259.6,458.2h0M1204.4,504.4h0M1171.2,543.9h0M1196.7,504.5h0M1218.6,492.4h0M1257.2,472.4h0M1259,464.8h0M1215.6,470.8h0M1246.8,442.2h0
M1211.7,485.8h0M1156.9,537.1h0M1199.9,519.4h0M1233.2,452.8h0M1240.2,507.3h0M1230.5,472.2h0M1145.2,572.1h0M1231.1,479.7h0M1268.7,454.4h0M1171.8,514.5h0M1235,473.3h0M1169.9,527.7h0
M1241.7,478.7h0M1263.1,436.4h0M1171.2,543.4h0M1249.6,476.8h0M1182.7,530.9h0M1256.1,431.3h0M1148.9,548.2h0M1240.3,464.6h0M1172.1,552.2h0M1191.3,498.2h0M1164.8,551.2h0M1246.9,439.2h0
M1170.3,552.3h0M1189.7,519.4h0M1191.1,512.5h0M1178.7,531.6h0M1173.2,524.4h0M1239.3,487.4h0M1217.8,459.4h0M1242.6,494.4h0M1164.7,526.6h0M1213.7,467.9h0M1155,550.5h0M1157.4,568.5h0
M1199.5,498.8h0M1219.7,499.7h0M1235.4,484.5h0M1216.7,490.9h0M1154.7,538.9h0M1192.5,521.9h0M1238.1,503.9h0M1264.9,471.6h0M1259.2,432h0M1207,514.1h0M1263,454.9h0M1176.7,508.4h0
M1222.8,490.3h0M1241.2,474h0M1145.1,578.7h0M1155.3,569.9h0M1185.5,538.3h0M1172.2,537.6h0M1167,524h0M1214.6,508.3h0M1225.7,481.8h0M1206.2,493.5h0M1233.2,504.5h0M1185.1,530.6h0
M1191.1,532.3h0M1161.7,549.8h0M1172.3,548.6h0M1206.4,516h0M1249.3,506.4h0M1204.7,508.1h0M1256.4,447.8h0M1263.2,422.7h0M1242.3,471.5h0M1243.3,415.7h0M1146.8,579.1h0M1232.4,490.3h0
M1149.3,576.1h0M1240.2,451.5h0M1198.6,484h0M1155.5,554.7h0M1262.4,403.9h0M1168.3,530.5h0M1266.2,474.4h0M1243.9,479.8h0M1261.4,456h0M1224,497.2h0M1189.3,539.4h0M1233.2,503h0
M1203.1,461.7h0M1237.7,420.4h0M1265.3,445.6h0M1152.1,559.7h0M1165.8,570.8h0M1199.3,532.8h0M1148.4,577.3h0M1190.3,527.3h0M1198.4,510.3h0M1167,530h0M1150.2,571.3h0M1225.1,491.6h0
M1174.9,553.3h0M1233.3,485.5h0M1197.6,535.5h0M1258.3,417.8h0M1182.5,525h0M1213.2,501.5h0M1180.9,538.3h0M1264.7,439.8h0M1180,533.6h0M1230.3,501.1h0M1189.7,531.7h0M1231.2,462.8h0
M1223.2,498.8h0M1242.5,503.5h0M1224,474.5h0M1202.5,472.5h0M1201.8,504h0M1164.7,558.1h0M1159.8,558.2h0M1164.5,540.8h0M1262.3,423.6h0M1229.6,473.1h0M1259.2,444h0M1222.5,473.8h0
M1171.8,534.8h0M1146.5,574.5h0M1212.3,532.4h0M1267.8,439.4h0M1245.1,451.9h0M1153.6,544.8h0M1190.9,529.3h0M1161.8,556h0M1179.1,547.4h0M1230.5,499.8h0M1186,509.9h0M1209.2,439.5h0
M1181.5,528.2h0M1196.7,504h0M1192.6,498.8h0M1218.6,504.4h0M1154.9,553.9h0M1270.4,384.1h0M1162.1,564h0M1151.7,549h0M1259.8,389h0M1191,494h0M1145.5,557h0M1176.6,541.8h0
M1247,433.5h0M1238.7,516.9h0M1226.4,506h0M1249.2,445h0M1204.6,502.7h0M1260.9,438.5h0M1179,531.2h0M1207.6,495.7h0M1249.6,486.7h0M1213.6,462.6h0M1175.2,536.6h0M1187.1,530.3h0
M1253.6,449h0M1211.7,504.6h0M1188.6,516.5h0M1223.7,503.4h0M1163.6,557.3h0M1238.5,510.7h0M1190.9,535.5h0M1210.2,511h0M1188.7,531.2h0M1253.2,390.6h0M1167.2,541.1h0M1254.7,461.3h0
M1228.5,459.3h0M1167.9,527.1h0M1164.7,540.8h0M1177.7,546.2h0M1200.9,519.7h0M1264.1,414.8h0M1244,501.1h0M1181.3,540.4h0M1205,527.8h0M1150.3,568.2h0M1242.9,493.6h0M1235.2,487.6h0
M1226,476.4h0M1221.1,518.7h0M1154.3,530.8h0M1211.1,490h0M1220.8,497.2h0M1223.1,456h0M1258.3,434.4h0M1186.6,519.9h0M1175.8,534.2h0M1200.2,510.5h0M1222.8,494.4h0M1252.4,457.6h0
M1238.8,455.7h0M1210.3,496.1h0M1194.1,504.8h0M1239.2,470h0M1191.7,507.1h0M1198.5,496.8h0M1147.3,568.4h0M1209,513.4h0M1170.8,524.4h0M1266.9,447.6h0M1156.6,551.1h0M1150.2,563.4h0
M1210.2,516.9h0M1269.1,469.3h0M1179.5,531.7h0M1161.7,557h0M1156.4,562.2h0M1145.4,570.5h0M1222.7,441.4h0M1189.5,506.6h0M1248.5,430.1h0M1172.9,536.5h0M1214.1,525.1h0M1151.8,553.3h0
M1185.7,483.7h0M1259.5,427h0M1221.1,455.4h0M1203.5,525.6h0M1262.5,433.5h0M1189,515.6h0M1154.1,547.9h0M1202.4,510.5h0M1219.3,477.3h0M1245.9,496.3h0M1191.4,529.2h0M1210.5,506.1h0
M1257.1,438.3h0M1224.8,471.4h0M1179.5,546.9h0M1262.5,431.6h0M1216.9,446h0M1250.7,451.7h0M1246.7,411.9h0M1229.7,444.4h0M1182.7,510h0M1227.4,473.6h0M1159.5,562.8h0M1229.5,490.5h0
M1211.2,477.1h0M1185.7,499.4h0M1200.8,510h0M1180.9,510h0M1204.3,534.5h0M1198.7,516.3h0M1207.1,490.2h0M1148.3,559.8h0M1158.6,556.7h0M1252.7,476.3h0M1167.1,550.5h0M1184.2,526.9h0
M1232.8,446.1h0M1193.5,522.5h0M1195.9,525.6h0M1149.7,560.1h0M1199.8,467.7h0M1217,501h0M1200.7,527.4h0M1193.1,515.4h0M1166.8,538.4h0M1193.8,517.6h0M1151.4,553.4h0M1180.7,525.5h0
M1146,564h0M1165.5,526.9h0M1153.2,542.4h0M1262.1,396.8h0M1211.6,478.7h0M1173.9,537.2h0M1222.6,478.7h0M1178.1,529.3h0M1226.8,488.2h0M1209.9,488h0M1194.9,522.5h0M1259.1,420.6h0
M1231.4,473.2h0M1264.5,435.6h0M1179.4,532.9h0M1193.4,531.3h0M1229.5,482.5h0M1223.5,509.6h0M1179.3,522.3h0M1156.9,554.4h0M1249.5,439.2h0M1187.7,505.3h0M1145.1,549.2h0M1232.3,500.5h0
M1186.7,521.4h0M1237.3,469.4h0M1160.1,545.2h0M1177.4,511.8h0M1260.1,449.2h0M1222.3,441.7h0M1196.1,494.5h0M1253.1,499.5h0M1594,247.9h0M1357.2,364.6h0M1401.1,285.3h0M1526.4,51.1h0
M1708.1,137.6h0M1587.9,17.1h0M1609.5,78.8h0M1375.3,295.8h0M1691.6,77.2h0M1527.9,89.8h0M1435.1,260.3h0M1382.8,370.6h0M1401.2,297h0M1531.9,217.2h0M1293.5,414.6h0M1446,123.2h0
M1393.6,276.3h0M1317.8,320.7h0M1512.3,129.5h0M1441.8,371h0M1523.8,161.5h0M1341.1,375.1h0M1308.3,495h0M1544,115.6h0M1645.1,240.4h0M1467.9,123.6h0M1527.7,234.1h0M1658,5.3h0
M1583.8,141.5h0M1562.5,185.9h0M1699.8,1.8h0M1350.1,250h0M1354,388.8h0M1523.4,223.9h0M1475,284.4h0M1569,45.8h0M1471.1,163.9h0M1479.5,224.2h0M1500.8,213.8h0M1300.1,455.9h0
M1346.4,427.8h0M1575.7,207.3h0M1602,77.1h0M1546.7,45.9h0M1341.7,447.4h0M1601.5,106.2h0M1348.6,325.9h0M1526.3,255.1h0M1367.9,299.4h0M1403.7,392.8h0M1688.8,97.4h0M1537.1,241.5h0
M1630,4.7h0M1344.1,324h0M1485.1,311.2h0M1459.4,217.4h0M1626.8,68.8h0M1666,84.4h0M1597.6,244.1h0M1303.4,411.9h0M1646.9,111.9h0M1606.5,140.3h0M1476.3,242.4h0M1401.9,416.6h0
M1508.3,114.4h0M1466,300.4h0M1322,297.6h0M1641.8,97.8h0M1588.7,-7.7h0M1343.4,295.9h0M1565.2,12.5h0M1526.6,131.1h0M1292.7,405.2h0M1582.5,261.1h0M1501.6,300.7h0M1485,175.3h0
M1373.8,370.1h0M1272.9,425.4h0M1652.5,8.5h0M1342.3,384.1h0M1653.5,-8h0M1310.2,398.8h0M1575,164.5h0M1282.4,424.6h0M1616.9,76.4h0M1277.9,473.1h0M1553.3,312.8h0M1651.5,-0.3h0
M1548.6,-6h0M1535.3,95.4h0M1602.9,4.2h0M1651.3,160.9h0M1541,318.9h0M1338.8,386.6h0M1290.7,366.6h0M1674.9,100.8h0M1315.4,384.5h0M1552.7,280.1h0M1510.5,158.4h0M1448.5,75.6h0
M1350.5,190.7h0M1356.8,343.8h0M1327.5,342.5h0M1520.3,270.6h0M1305.3,391.3h0M1472.9,144.5h0M1381.8,332.8h0M1339.4,364.7h0M1621.8,204.8h0M1626.6,-7.4h0M1460.5,337.8h0M1498.5,102.5h0
M1616.1,66h0M1579.7,175.6h0M1527.5,21.1h0M1386.1,300.9h0M1391.8,155.6h0M1535.1,222.6h0M1649.4,67.9h0M1452.1,252.4h0M1541.2,341.7h0M1442.1,269h0M1651.8,99.3h0M1552.2,108.1h0
M1457.3,224.2h0M1515.9,199.3h0M1303.6,437.4h0M1552.2,101.9h0M1670.5,8.8h0M1304.1,380.6h0M1581.5,121.8h0M1295.6,478.1h0M1325.4,390.6h0M1571.6,219.7h0M1527.7,341h0M1362,378.7h0
M1436.3,201.9h0M1325.7,441.1h0M1602.7,216.5h0M1597.5,65h0M1601.3,40.9h0M1656.2,239.5h0M1550.5,96.8h0M1530.9,216.9h0M1318.6,442.5h0M1353.9,194.9h0M1560.7,235.8h0M1453,338.4h0
M1327.8,359.8h0M1449.2,294.5h0M1305.3,391.3h0M1321.7,312.8h0M1299.5,389.4h0M1375.4,270.9h0M1536.8,292.9h0M1512.6,213.8h0M1367.2,288.3h0M1332,418.2h0M1498.2,243.1h0M1569.1,170.5h0
M1514.9,189h0M1712.5,-5h0M1629.8,189.9h0M1461.3,324h0M1544.9,199.2h0M1480.9,172.6h0M1293.8,388.8h0M1590.5,55.1h0M1688.3,22.2h0M1420.1,313.1h0M1614.8,31.6h0M1580,111.2h0
M1286.7,430.5h0M1278.1,432h0M1515.2,74h0M1527.5,153.6h0M1324.4,404.7h0M1385.1,403.2h0M1470.6,317.7h0M1487.9,84.1h0M1291.4,393.4h0M1583.3,237.7h0M1529.4,306.4h0M1455.5,136.8h0
M1510.3,262.7h0M1401.9,320.9h0M1335.4,420h0M1344.5,359.7h0M1494.4,289h0M1575.7,100h0M1565.1,111.6h0M1615.8,86.4h0M1339.6,388.2h0M1608.4,71h0M1429.5,288.5h0M1603.1,-0.1h0
M1439.4,314.2h0M1677.2,46.7h0M1399.2,192.9h0M1466.9,273h0M1445.1,187.3h0M1358.5,321.3h0M1303.1,389.1h0M1569.4,34.7h0M1487.6,195h0M1303.4,441.8h0M1573.3,182.8h0M1558.3,127.8h0
M1522.6,52.7h0M1324,415.4h0M1494.9,124.4h0M1513.6,42.2h0M1328.4,428.9h0M1391.5,372.5h0M1700.2,224.6h0M1506.4,15h0M1622.3,21.5h0M1322.1,449.9h0M1476,289.3h0M1605.7,88.5h0
M1419.3,297h0M1652.5,64.9h0M1406.5,305.5h0M1292.3,430.7h0M1571.6,167.6h0M1383.5,305.2h0M1631,143.3h0M1540.3,78.1h0M1686.9,2.7h0M1307.1,469.5h0M1484,174.3h0M1308.6,414h0
M1500.8,309.1h0M1557,180.6h0M1530,116.1h0M1276.7,392.5h0M1640.4,162.1h0M1627.3,206h0M1508.2,141.9h0M1342.7,424.6h0M1353.5,410.8h0M1276.1,415.4h0M1535.1,142.6h0M1608.2,78.1h0
M1593.1,85h0M1524.2,354.3h0M1472.8,250.9h0M1609.1,134.4h0M1535.4,135.1h0M1553.3,245.4h0M1316.6,394.4h0M1280.8,494.1h0M1587.2,319.8h0M1613.1,3.7h0M1464.5,198.4h0M1612.3,6.7h0
M1623.9,103.8h0M1375,351.9h0M1562.6,139.1h0M1375,364.7h0M1578.3,294.4h0M1678.3,187h0M1456,245.7h0M1375.2,264h0M1704.5,46.3h0M1400,290.5h0M1414.1,326.3h0M1675.8,3h0
M1330.5,384.1h0M1646.9,104.8h0M1470.9,209.2h0M1474.2,214.4h0M1406,261.5h0M1409.3,272.9h0M1368.1,329.8h0M1428.6,273.9h0M1298.1,421.7h0M1462.5,321.4h0M1514.9,112h0M1363.4,290.8h0
M1603.2,64.1h0M1397.9,300h0M1420.8,336.9h0M1718.5,183.4h0M1675.3,163.2h0M1535.8,186.7h0M1679.4,71.5h0M1715.5,62.1h0M1473.8,297.8h0M1324.4,359.9h0M1502.4,178.2h0M1413.5,294.6h0
M1685.3,-3.2h0M1293.3,400.6h0M1494,256.3h0M1374.4,253.1h0M1501.6,72.8h0M1309.2,377.8h0M1426.6,335.1h0M1323.9,421.1h0M1468,213.8h0M1297.4,343.3h0M1595.9,157h0M1510.9,272h0
M1321.8,334.3h0M1529.2,178.1h0M1362.3,385.4h0M1579,229.2h0M1421.3,298.9h0M1431.3,177.4h0M1548.7,116.1h0M1395.9,271.8h0M1409.9,347.6h0M1499.2,89.3h0M1692.3,45h0M1599.3,17.2h0
M1668.5,180.2h0M1565.2,208.4h0M1377.7,396.3h0M1668.3,47.2h0M1569.3,199.3h0M1686.4,5.5h0M1406.4,277.3h0M1704,191.9h0M1366.1,453.8h0M1460.1,251.8h0M1353.2,310.6h0M1418.2,304.2h0
M1454.4,121.9h0M1523.1,79.4h0M1396.9,314.3h0M1511.8,246.6h0M1520,29.9h0M1480.8,164.8h0M1473.3,116.4h0M1324.8,371.9h0M1569.6,148.3h0M1548.7,19.4h0M1657,21.6h0M1548.4,37.3h0
M1537.4,195.5h0M1515.8,98.7h0M1522.9,23.8h0M1519.8,175.4h0M1494.2,169.4h0M1363.5,263.1h0M1595.7,233h0M1702.9,50.3h0M1337.3,358.3h0M1390.8,280.6h0M1462.9,156.9h0M1341.5,313.8h0
M1638.2,199.1h0M1633.2,70.2h0M1496.4,43.8h0M1716.9,209.5h0M1663.7,105.6h0M1588.5,126.8h0M1504.7,15h0M1513.3,24h0M1339,344.3h0M1465.5,370.6h0M1542,21.6h0M1665.2,265.1h0
M1668,208.4h0M1448.7,308.6h0M1537.7,231.8h0M1482.6,75h0M1396.7,208.7h0M1337.8,317.1h0M1527.8,106.8h0M1603.5,253.8h0M1613.1,225.2h0M1486.9,212.3h0M1342.8,395.9h0M1529.7,146.2h0
M1464.8,219.4h0M1278.3,422.4h0M1709.4,67.6h0M1564.8,132.3h0M1512.7,90.6h0M1325.6,464.8h0M1405,307.4h0M1589.9,48.2h0M1569.9,234.4h0M1708.6,163.5h0M1696.9,156.3h0M1398,352.7h0
M1358,395.1h0M1591.6,236.4h0M1637.7,71.1h0M1537.5,74.8h0M1654.2,116.1h0M1352.9,251.7h0M1500.6,272.9h0M1320.8,413h0M1429.9,272.5h0M1312.1,388.8h0M1634.7,-6.2h0M1550.8,276.2h0
M1611.3,106.3h0M1520.1,246h0M1281.1,470h0M1370.9,212.3h0M1490.7,208.3h0M1353.6,320.7h0M1667.3,9.5h0M1277.3,447.2h0M1428.1,293.5h0M1487.2,200.5h0M1386.7,304.6h0M1577.3,141.5h0
M1331.2,380.8h0M1293.6,347h0M1600,115.1h0M1599.1,6.2h0M1520.1,220h0M1355.8,392.3h0M1544.2,146.6h0M1624.6,74.3h0M1318.6,346.3h0M1654.4,198.7h0M1565.4,298.5h0M1303.6,407.2h0
M1654,83.1h0M1562.3,142.9h0M1663.8,181.4h0M1367.1,370.3h0M1424.4,125.3h0M1282.1,407.4h0M1476.6,331.4h0M1587.3,29.5h0M1496.1,320.3h0M1340.2,452.3h0M1513.8,187h0M1462.9,133.4h0
M1333.5,394.1h0M1356,410.2h0M1398.8,303.1h0M1413.2,289.1h0M1371.9,344h0M1383.6,261.8h0M1536.4,272.7h0M1502.9,159.3h0M1562.6,128.3h0M1517.6,186.4h0M1586.5,97.4h0M1395.3,175.3h0
M1311.4,340.8h0M1521,282.3h0M1488.9,114h0M1674.3,232.3h0M1410.6,397h0M1485.8,218.3h0M1602.9,123.2h0M1538.2,238.6h0M1302,404.6h0M1395.6,366.8h0M1332.6,336h0M1438.4,179.1h0
M1583.5,202.5h0M1534.7,3.7h0M1279.6,431.4h0M1448.5,209.4h0M1347.8,316.1h0M1574.4,226.8h0M1388.8,213.8h0M1388.4,426.4h0M1577.6,31.3h0M1449.3,277.5h0M1606.8,137.8h0M1476.6,317h0
M1474,233.4h0M1451,33.9h0M1451.6,374.9h0M1296.8,439.1h0M1351.6,403.3h0M1457,363.2h0M1685.7,13.7h0M1459.9,295.7h0M1667.1,51.6h0M1400.1,232.5h0M1354.8,425.8h0M1678.5,111.8h0
M1581.5,67.7h0M1517.3,-8.2h0M1585.6,-10.6h0M1602.4,12.2h0M1532.5,189.5h0M1449.6,329.3h0M1462.3,289h0M1478.4,173.7h0M1345.9,412.6h0M1527.6,174.8h0M1591.8,131.4h0M1289.1,352.6h0
M1393.7,329.5h0M1680.6,193.5h0M1548.8,4.2h0M1322.8,378.7h0M1517.5,144.9h0M1375.3,388.8h0M1595.7,225.4h0M1515.8,272.9h0M1515.9,273.1h0M1448.9,324.2h0M1589,37.2h0M1405.9,371.2h0
M1584.1,48.5h0M1381.8,259.8h0M1497,217.9h0M1339.6,352.4h0M1358.9,404.9h0M1342.9,277.3h0M1281.8,398.7h0M1416,183h0M1483.8,357.3h0M1399,223.8h0M1699.3,127.9h0M1508.5,290.2h0
M1384.5,368.6h0M1447,204.3h0M1615.9,75.7h0M1446.3,248.3h0M1476.6,402h0M1472.8,244.7h0M1578,59.1h0M1705,25.4h0M1273.1,420.5h0M1537.9,134.2h0M1689,61.7h0M1335.3,399.8h0
M1287.9,434.1h0M1633.5,-8.2h0M1306.3,441h0M1544.1,234.6h0M1547.1,153.3h0M1374.9,365.7h0M1677,192.1h0M1564.5,234.5h0M1623.4,140.8h0M1561.3,118.2h0M1639.1,178.6h0M1382.4,289.1h0
M1360,429.3h0M1333.7,354.9h0M1527.7,158h0M1339.3,371.4h0M1382.1,365.2h0M1549.2,184.8h0M1634.4,62.3h0M1691.1,50.6h0M1640.8,124.3h0M1585.1,267.7h0M1595.9,92.5h0M1553.3,14.3h0
M1271.7,389.5h0M1447,201.5h0M1431.8,233.5h0M1718.2,70.6h0M1641.2,2.2h0M1402.7,216h0M1420.8,368h0M1680.1,50.6h0M1339.9,339.1h0M1381.1,293.3h0M1401.8,304.8h0M1606.8,129.8h0
M1632.9,12.6h0M1703.4,108.1h0M1526.2,81.5h0M1558.9,53.6h0M1416.3,359.3h0M1481.9,283.5h0M1339.9,385h0M1567.1,167.6h0M1343.9,236.5h0M1559.7,227.7h0M1585.8,148.5h0M1670.1,111.7h0
M1627.2,133.8h0M1404,338.9h0M1487.2,241h0M1549,199.7h0M1389.5,314.1h0M1523.7,184.1h0M1489.7,6.6h0M1624.2,62.8h0M1299.3,347.3h0M1373.6,155.2h0M1296.2,447.1h0M1343.3,326.7h0
M1587.8,112.7h0M1398.2,241.9h0M1472.4,349.5h0M1442.3,253.9h0M1429.2,372.9h0M1588,39.1h0M1382.3,157.3h0M1547.4,16.1h0M1686.6,104.6h0M1589.5,38.2h0M1284.9,371.8h0M1280.9,405.4h0
M1610.4,109.6h0M1530.8,112.6h0M1568.4,327.9h0M1614.4,143.4h0M1450.6,220h0M1313.1,378.2h0M1686.7,70.3h0M1475.6,121.1h0M1523.2,122.8h0M1565.1,203.5h0M1519.7,254.3h0M1278.3,401.7h0
M1352.8,412.9h0M1307,400.8h0M1409.8,288.8h0M1424.3,259.8h0M1385.5,330.3h0M1629.2,178.8h0M1276,350.1h0M1365.2,244.4h0M1533.8,244.6h0M1518.3,149.5h0M1522.3,71.2h0M1596.1,131.3h0
M1531.2,253.2h0M1645.5,104.5h0M1396.9,225.2h0M1481.2,245.8h0M1316.8,445.2h0M1407,341.6h0M1630.1,134.6h0M1442.7,313.2h0M1539.4,23.6h0M1463.5,241.8h0M1600.7,73.2h0M1461.7,213.3h0
M1313.5,365h0M1677.9,152.5h0M1276,354.9h0M1632.8,239h0M1639.2,94.5h0M1430.2,209.9h0M1381.4,373.7h0M1574.8,289.5h0M1468.4,317.9h0M1673.6,79.1h0M1624.3,73.6h0M1430.6,207.5h0
M1483.6,165h0M1564.9,183.2h0M1455.9,180.4h0M1643.3,78.5h0M1564.9,50.5h0M1483.3,116h0M1675.1,277h0M1654.4,142.3h0M1382.1,329h0M1709.6,263.1h0M1672.9,7.3h0M1581.2,165h0
M1634.8,218.1h0M1631.3,109.6h0M1332.2,283.1h0M1449,282.2h0M1663.2,83.2h0M1668.8,6.4h0M1521.2,98.8h0M1409,336.3h0M1697.7,19.6h0M1327.9,335h0M1299.9,385.4h0M1595.9,174.4h0
M1481,54.5h0M1561.8,139.6h0M1652.6,56.7h0M1390.5,341.3h0M1363.5,300h0M1385.3,267.9h0M1608.8,42.7h0M1316.6,410.2h0M1463.6,233h0M1645.5,75.3h0M1597.6,133.5h0M1335.9,306.7h0
M1286.7,431.5h0M1604.9,97.1h0M1504.3,206.3h0M1411.2,327.7h0M1466.1,372.9h0M1412.3,169.1h0M1420.7,243.1h0M1364.5,404.1h0M1375.8,236.2h0M1474.2,176.9h0M1581.4,117.5h0M1423.7,256.8h0
M1452.8,226.7h0M1685.4,134.9h0M1468.7,254h0M1412.2,338.5h0M1600.6,122.5h0M1457.5,304.2h0M1640.5,106.5h0M1382.4,248.1h0M1547.8,121h0M1669.7,90.3h0M1305.9,341.9h0M1271.8,450.7h0
M1289.1,448.9h0M1665,218.2h0M1548.1,103.1h0M1409.6,271.3h0M1561.6,316.7h0M1439.7,175h0M1461.7,169.3h0M1645.8,66.1h0M1387.1,392.6h0M1547.2,94.1h0M1442.7,286.2h0M1502.2,185.1h0
M1585.7,134.2h0M1545.8,352.9h0M1470.1,301.9h0M1416.1,322.2h0M1438.4,257.9h0M1441.5,197.4h0M1376.9,244.5h0M1594.6,53.7h0M1475.7,199.8h0M1440.1,276.2h0M1469.9,301h0M1476.9,230.6h0
M1409.1,286.6h0M1459.1,289.3h0M1564.3,213.3h0M1410.2,293.4h0M1363.3,244.8h0M1347.1,375.2h0M1286.6,449h0M1702.5,72.2h0M1308.8,386.3h0M1618.5,190.1h0M1440.7,217.3h0M1543.9,244.4h0
M1435.9,304.9h0M1497.1,224.4h0M1667.5,166.9h0M1453.4,157.1h0M1458.9,269.9h0M1343,396.5h0M1543.5,143.6h0M1326,336.3h0M1686.4,171.5h0M1666.1,32.1h0M1284.7,438.3h0M1414.8,228.7h0
M1380.1,247.3h0M1468.3,232.2h0M1644.2,25.6h0M1524.7,3.5h0M1300.6,324.2h0M1488.5,390.7h0M1439.7,355.2h0M1504.4,88.9h0M1482.8,316.2h0M1342.7,385.1h0M1652,6.2h0M1359.6,265.5h0
M1482.6,189.4h0M1288.7,447.9h0M1645,79.4h0M1355,391.1h0M1715,103.9h0M1378.9,432h0M1396.4,180.9h0M1417,322.7h0M1677.9,143.5h0M1626.4,94.5h0M1686.6,22.1h0M1305.6,488.5h0
M1497.9,88.3h0M1456.3,238.7h0M1586.6,103.3h0M1706.8,166.3h0M1561.8,158.2h0M1671.6,84.1h0M1500.2,266.1h0M1471.6,214.5h0M1499.2,241.1h0M1418.6,317.3h0M1360.3,360.7h0M1630.1,232.7h0
M1517.4,115.8h0M1432.3,232.8h0M1325.8,355.6h0M1578.5,153h0M1355.9,320.3h0M1649.2,61.6h0M1481,205.2h0M1431.5,196.6h0M1581.2,60.7h0M1664.1,188h0M1596.2,114.9h0M1463.6,235h0
M1620.8,57.7h0M1688.2,115.2h0M1293.4,503h0M1626.6,1.3h0M1438.5,218.2h0M1425.4,164.3h0M1576.8,45.9h0M1418.3,183.3h0M1361,305.8h0M1616.1,167.2h0M1316.6,401.6h0M1329.2,422h0
M1568.3,188h0M1521.7,162.8h0M1292.6,418.2h0M1523.2,168.5h0M1719.2,155.2h0M1576.5,224h0M1656.9,24h0M1620.1,248.4h0M1550.5,245.8h0M1562.2,157.5h0M1380.1,374.9h0M1482.5,287.4h0
M1681.4,46.4h0M1484.3,191.1h0M1450.3,211.2h0M1522.4,216.7h0M1432.5,262.7h0M1378.8,213.3h0M1461.1,121.5h0M1340,323.7h0M1622.1,96.6h0M1585.2,313h0M1328.8,426.2h0M1335.2,376.4h0
M1397.7,330.2h0M1679.8,86.3h0M1543.4,119h0M1345.3,344.4h0M1595.7,261.9h0M1376.1,378.8h0M1372.9,356.3h0M1304.4,364.8h0M1502.9,212.5h0M1439.7,353.9h0M1371.7,330.1h0M1402.8,284.8h0
M1339.1,377.2h0M1339.7,343.9h0M1382.4,254.3h0M1277,419.3h0M1370.6,309.8h0M1322.1,410.5h0M1411.8,281.9h0M1484.8,281.3h0M1679.9,231.3h0M1662.1,45.5h0M1679,95.8h0M1454,313.2h0
M1480.9,312.1h0M1326.9,368.8h0M1682.7,88.2h0M1382.4,410h0M1362.6,281.1h0M1298.8,424.2h0M1374.8,312.7h0M1698.9,-8.7h0M1356,289.6h0M1459.4,189.6h0M1357.5,380h0M1366.4,317.4h0
M1506.1,237.5h0M1294.9,471.3h0M1660.9,70.3h0M1391.3,272.9h0M1380.9,209.7h0M1609.7,170.8h0M1515.3,272.7h0M1484.5,340.5h0M1580.4,170.1h0M1523.5,297.8h0M1530.9,169.5h0M1496.9,94.8h0
M1519.3,99.5h0M1341,343.8h0M1316.9,293.8h0M1291.3,351.1h0M1472,53.5h0M1481.7,247.9h0M1392,299.8h0M1328.5,316.8h0M1649.7,134.6h0M1401.1,269h0M1539.7,141.7h0M1474.2,240.7h0
M1314.5,378.3h0M1330.5,387.4h0M1379.3,319.8h0M1399.3,314.7h0M1628.1,168.6h0M1370.2,232.7h0M1375.8,390.3h0M1362.6,304.8h0M1570.2,115.6h0M1427.5,181.1h0M1422.6,227.4h0M1359,336.8h0
M1303.4,331.7h0M1294.6,411.7h0M1300.7,387.6h0M1390.2,295.9h0M1663.5,80.9h0M1322.5,313.1h0M1411.8,237.3h0M1458.1,314.7h0M1491.4,290.2h0M1468,259.9h0M1308.6,392.5h0M1478.7,286.3h0
M1509.6,238.4h0M1298,407.1h0M1356.7,279.7h0M1291.1,440.5h0M1323.6,277.3h0M1427.8,302.2h0M1577.2,82.1h0M1289,422.1h0M1478.3,282.9h0M1391.4,322.2h0M1442,200.9h0M1299.1,428.6h0
M1364.9,318.9h0M1537.9,102.7h0M1302.7,403.3h0M1515.8,332.6h0M1489.3,292.1h0M1468,272.8h0M1552.2,3.3h0M1462.7,162.5h0M1305.7,414.2h0M1585.9,79.6h0M1466.9,251h0M1294,412.8h0
M1317.8,326.4h0M1550.7,156.7h0M1700.6,143.6h0M1657.1,34.9h0M1498.9,257.6h0M1658.5,60.1h0M1510.3,9.2h0M1329.4,303.7h0M1582.9,-6.7h0M1617.1,126.1h0M1583.8,61.4h0M1280.9,422.2h0
M1317,330.3h0M1668,311.4h0M1592.2,141.6h0M1438.4,332.5h0M1372.4,355.9h0M1649.5,120.9h0M1423.2,385.7h0M1506.4,127.6h0M1464.7,209.3h0M1647.2,105.5h0M1491.3,71.5h0M1567.7,187.9h0
M1575.9,137.1h0M1545.5,133.7h0M1275.6,464.3h0M1313.9,449.9h0M1549.5,38.9h0M1443.7,167.6h0M1615.3,-4.6h0M1394.9,348.9h0M1499.9,73.7h0M1383.5,226h0M1285.6,397.8h0M1346.7,376.3h0
M1386.7,286.8h0M1534.7,245h0M1344.2,328.9h0M1383.5,303.6h0M1326.8,396.9h0M1290.8,415.3h0M1716.2,41.2h0M1299,323.3h0M1662.4,230.5h0M1663,74.6h0M1323.8,329.8h0M1355.6,342.1h0
M1279.8,395.7h0M1684,29.2h0M1695.4,63.8h0M1609.7,212.9h0M1377.2,111.4h0M1405.7,205h0M1589,102.6h0M1665.7,72.4h0M1489.8,147.5h0M1648.3,76.4h0M1467.2,281.4h0M1568.8,25.4h0
M1392,392.7h0M1648.1,129.3h0M1441.3,327.3h0M1515.9,193.6h0M1447.9,169.3h0M1276.6,436.5h0M1398.6,258.6h0M1634.1,109.1h0M1596.7,191.1h0M1593.9,187.7h0M1451.8,343.8h0M1440.6,309.4h0
M1310.5,349.5h0M1552.4,284.7h0M1354.6,315.8h0M1389.9,289.8h0M1330.3,331h0M1350.4,372.6h0M1499.1,287.5h0M1326,380.2h0M1630.3,164.3h0M1469.2,163.2h0M1647,49.3h0M1700.8,-2.7h0
M1614.4,159.2h0M1551.9,258.9h0M1272.3,454.3h0M1349.3,398.2h0M1486.6,258.7h0M1297.1,375.7h0M1319.4,368h0M1423.2,319h0M1333.2,480.5h0M1339.5,364.7h0M1345.6,323.3h0M1510.2,78.5h0
M1391.4,304h0M1474.5,306.4h0M1444.4,193.9h0M1654.2,120.6h0M1368.5,332.5h0M1380.6,304.7h0M1310.6,312.5h0M1536.6,101.6h0M1495.6,245.6h0M1420.1,356.2h0M1396.8,278.6h0M1311.6,431.1h0
M1544.5,122.7h0M1670.3,76.3h0M1420.8,237.5h0M1697.7,70.8h0M1314.8,407h0M1385.8,305.8h0M1619.2,95.7h0M1400.9,209h0M1288.4,388.5h0M1649.5,3.2h0M1440.1,201h0M1397.9,288.7h0
M1462.5,178.5h0M1315.3,328h0M1357,334.9h0M1611.2,101.7h0M1407.9,244h0M1557,238.9h0M1474.7,345.8h0M1506.5,210.5h0M1571.5,105.7h0M1445.2,186.8h0M1575.8,34.8h0M1654.8,34.7h0
M1441.1,133h0M1291.2,377.5h0M1502.4,114.4h0M1297.3,312.4h0M1498,184h0M1389.4,382.7h0M1485.2,311.1h0M1436.8,228h0M1322,388.7h0M1335.1,358h0M1481.4,246.5h0M1288.9,440.7h0
M1529.5,139.1h0M1518.1,258.2h0M1505,224.4h0M1322.8,379.7h0M1610.2,154.6h0M1357.4,298.3h0M1576.2,1.9h0M1399.4,281.3h0M1460.2,235.3h0M1400.8,166.9h0M1356.4,387.1h0M1508.4,141.4h0
M1495.1,61.5h0M1366.4,363.4h0M1455.8,223.4h0M1676.9,-11h0M1441.4,359.3h0M1430.5,173.8h0M1545.3,254.1h0M1398.8,432.5h0M1641.7,195.7h0M1290.6,393.1h0M1343.1,295.2h0M1586.4,74.9h0
M1502.2,190.5h0M1373.1,301.3h0M1371.7,342.4h0M1557.4,273.3h0M1612.9,253.3h0M1460.3,291.6h0M1476.3,273.3h0M1294.9,381.3h0M1619,121.9h0M1602.8,385.5h0M1315.1,407.8h0M1331.1,320h0
M1286.7,414.4h0M1408.7,268.6h0M1285.8,378.1h0M1466.7,314.3h0M1271.4,427.2h0M1581.2,100h0M1453.6,219.5h0M1419.8,155.9h0M1531.6,241.2h0M1584.8,209.8h0M1344,252.3h0M1602.3,186.6h0
M1315.4,226.9h0M1312.8,264.6h0M1216.9,408.9h0M1230.3,408.9h0M1255.4,366.2h0M1670.1,296h0M1593.1,347.4h0M1436.5,412.6h0M1244.7,529.3h0M1310.3,491.7h0M1423.4,36.2h0M1445.4,21.2h0
M1434,4.9h0M1157.6,583.9h0"/>
<g stroke="#000080" fill="#000080">
<line x1="1382.26" y1="441.5" x2="1382.26" y2="170.48" stroke-width="5"/>
<line x1="1368.76" y1="441.5" x2="1395.76" y2="441.5" stroke-width="2.6"/>
<line x1="1368.76" y1="170.48" x2="1395.76" y2="170.48" stroke-width="2.6"/>
<circle cx="1382.26" cy="307.24" r="8.6" stroke="none"/>
</g>
</g>
<rect x="1018.7" y="3.6" width="694.3" height="690.1" fill="none" stroke="#2b2b2b" stroke-width="2"/>
<g stroke="#2b2b2b" stroke-width="2">
<line x1="1018.7" y1="693.7" x2="1018.7" y2="703.2"/>
<line x1="1018.7" y1="693.7" x2="1009.2" y2="693.7"/>
<line x1="1144.94" y1="693.7" x2="1144.94" y2="703.2"/>
<line x1="1018.7" y1="568.23" x2="1009.2" y2="568.23"/>
<line x1="1271.17" y1="693.7" x2="1271.17" y2="703.2"/>
<line x1="1018.7" y1="442.75" x2="1009.2" y2="442.75"/>
<line x1="1397.41" y1="693.7" x2="1397.41" y2="703.2"/>
<line x1="1018.7" y1="317.28" x2="1009.2" y2="317.28"/>
<line x1="1523.65" y1="693.7" x2="1523.65" y2="703.2"/>
<line x1="1018.7" y1="191.81" x2="1009.2" y2="191.81"/>
<line x1="1649.88" y1="693.7" x2="1649.88" y2="703.2"/>
<line x1="1018.7" y1="66.34" x2="1009.2" y2="66.34"/>
</g>
<g font-family="'DejaVu Sans','Liberation Sans',sans-serif" font-size="25.0" fill="#1c1c1c">
<text x="1018.2" y="730.2" text-anchor="middle" font-size="24.7">0</text>
<text x="999.2" y="701.9" text-anchor="end" font-size="24.7">0</text>
<text x="1144.44" y="730.2" text-anchor="middle" font-size="24.7">10</text>
<text x="999.2" y="576.43" text-anchor="end" font-size="24.7">10</text>
<text x="1270.67" y="730.2" text-anchor="middle" font-size="24.7">20</text>
<text x="999.2" y="450.95" text-anchor="end" font-size="24.7">20</text>
<text x="1396.91" y="730.2" text-anchor="middle" font-size="24.7">30</text>
<text x="999.2" y="325.48" text-anchor="end" font-size="24.7">30</text>
<text x="1523.15" y="730.2" text-anchor="middle" font-size="24.7">40</text>
<text x="999.2" y="200.01" text-anchor="end" font-size="24.7">40</text>
<text x="1649.38" y="730.2" text-anchor="middle" font-size="24.7">50</text>
<text x="999.2" y="74.54" text-anchor="end" font-size="24.7">50</text>
<text x="1365" y="768.7" text-anchor="middle">MAP estimate of <tspan font-style="oblique">n</tspan><tspan font-style="normal" font-size="18.4" dy="-8.2">(eff)</tspan></text>
<text transform="translate(950,348.65) rotate(-90)" text-anchor="middle"><tspan font-style="oblique">n</tspan><tspan font-style="normal" font-size="18.4" dy="-8.2">(eff)</tspan></text>
<rect x="1286.0" y="498" width="414.5" height="184" rx="5" ry="5" fill="#ffffff" fill-opacity="0.8" stroke="#d4d4d4" stroke-width="2"/>
<rect x="1296" y="510.7" width="49.6" height="18.3" fill="#0000ff" fill-opacity="0.1" stroke="#0000ff" stroke-opacity="0.1" stroke-width="1.6"/>
<line x1="1295" y1="556" x2="1345.6" y2="556" stroke="#0000ff" stroke-opacity="0.5" stroke-width="3.0"/>
<circle cx="1319.6" cy="602.4" r="2.5" fill="#ff0000"/>
<g stroke="#000080" fill="#000080"><line x1="1319.6" y1="640.5" x2="1319.6" y2="665.5" stroke-width="5"/><line x1="1305.5" y1="640.5" x2="1334" y2="640.5" stroke-width="2.6"/><line x1="1305.5" y1="665.5" x2="1334" y2="665.5" stroke-width="2.6"/><circle cx="1319.6" cy="653" r="8.6" stroke="none"/></g>
<text x="1363.3" y="527.7">95% confidence region</text>
<text x="1363.3" y="564.6">ideal estimation</text>
<text x="1363.3" y="610.4"><tspan font-style="oblique">n</tspan><tspan font-style="normal" font-size="18.4" dy="-8.2">(eff)</tspan><tspan dy="8.2"> samples</tspan></text>
<text x="1363.3" y="659.3"><tspan font-style="oblique">n</tspan><tspan font-style="normal" font-size="18.4" dy="-8.2">(eff)</tspan><tspan dy="8.2"> experiment estimate</tspan></text>
</g>
</g>
<g>
<path d="M126.9,1426.01 L133.22,1416.04 L139.53,1406.52 L145.84,1397.36 L152.16,1388.51 L158.48,1379.93 L164.79,1371.58 L171.11,1363.44 L177.42,1355.49 L183.74,1347.7 L190.05,1340.07 L196.37,1332.58 L202.68,1325.23 L209,1317.99 L215.31,1310.87 L221.62,1303.85 L227.94,1296.93 L234.25,1290.11 L240.57,1283.39 L246.88,1276.74 L253.2,1270.18 L259.51,1263.7 L265.83,1257.3 L272.14,1250.97 L278.46,1244.71 L284.77,1238.51 L291.09,1232.39 L297.41,1226.33 L303.72,1220.33 L310.03,1214.39 L316.35,1208.51 L322.66,1202.69 L328.98,1196.92 L335.3,1191.21 L341.61,1185.56 L347.93,1179.96 L354.24,1174.41 L360.56,1168.91 L366.87,1163.47 L373.19,1158.07 L379.5,1152.73 L385.82,1147.43 L392.13,1142.19 L398.45,1136.99 L404.76,1131.84 L411.08,1126.74 L417.39,1121.68 L423.71,1116.68 L430.02,1111.71 L436.34,1106.8 L442.65,1101.93 L448.97,1097.11 L455.28,1092.34 L461.6,1087.61 L467.91,1082.93 L474.23,1078.3 L480.54,1073.72 L486.86,1069.18 L493.17,1064.69 L499.49,1060.24 L505.8,1055.85 L512.12,1051.51 L518.43,1047.21 L524.75,1042.96 L531.06,1038.77 L537.38,1034.62 L543.69,1030.53 L550,1026.49 L556.32,1022.5 L562.63,1018.56 L568.95,1014.69 L575.26,1010.86 L581.58,1007.1 L587.89,1003.39 L594.21,999.75 L600.52,996.16 L606.84,992.64 L613.15,989.19 L619.47,985.8 L625.79,982.48 L632.1,979.23 L638.42,976.06 L644.73,972.97 L651.05,969.95 L657.36,967.02 L663.67,964.17 L669.99,961.42 L676.3,958.76 L682.62,956.2 L688.93,953.75 L695.25,951.41 L701.56,949.19 L707.88,947.1 L714.2,945.14 L720.51,943.32 L726.83,941.66 L733.14,940.17 L739.45,938.85 L745.77,937.72 L752.08,936.78 L758.4,936.06 L758.4,1071.89 L752.08,1081.86 L745.77,1091.38 L739.45,1100.54 L733.14,1109.39 L726.83,1117.97 L720.51,1126.32 L714.2,1134.46 L707.88,1142.41 L701.56,1150.2 L695.25,1157.83 L688.93,1165.32 L682.62,1172.67 L676.3,1179.91 L669.99,1187.03 L663.67,1194.05 L657.36,1200.97 L651.05,1207.79 L644.73,1214.51 L638.42,1221.16 L632.1,1227.72 L625.79,1234.2 L619.47,1240.6 L613.15,1246.93 L606.84,1253.19 L600.52,1259.39 L594.21,1265.51 L587.89,1271.57 L581.58,1277.57 L575.26,1283.51 L568.95,1289.39 L562.63,1295.21 L556.32,1300.98 L550,1306.69 L543.69,1312.34 L537.38,1317.94 L531.06,1323.49 L524.75,1328.99 L518.43,1334.43 L512.12,1339.83 L505.8,1345.17 L499.49,1350.47 L493.17,1355.71 L486.86,1360.91 L480.54,1366.06 L474.23,1371.16 L467.91,1376.22 L461.6,1381.22 L455.28,1386.19 L448.97,1391.1 L442.65,1395.97 L436.34,1400.79 L430.02,1405.56 L423.71,1410.29 L417.39,1414.97 L411.08,1419.6 L404.76,1424.18 L398.45,1428.72 L392.13,1433.21 L385.82,1437.66 L379.5,1442.05 L373.19,1446.39 L366.87,1450.69 L360.56,1454.94 L354.24,1459.13 L347.93,1463.28 L341.61,1467.37 L335.3,1471.41 L328.98,1475.4 L322.66,1479.34 L316.35,1483.21 L310.03,1487.04 L303.72,1490.8 L297.41,1494.51 L291.09,1498.15 L284.77,1501.74 L278.46,1505.26 L272.14,1508.71 L265.83,1512.1 L259.51,1515.42 L253.2,1518.67 L246.88,1521.84 L240.57,1524.93 L234.25,1527.95 L227.94,1530.88 L221.62,1533.73 L215.31,1536.48 L209,1539.14 L202.68,1541.7 L196.37,1544.15 L190.05,1546.49 L183.74,1548.71 L177.42,1550.8 L171.11,1552.76 L164.79,1554.58 L158.48,1556.24 L152.16,1557.73 L145.84,1559.05 L139.53,1560.18 L133.22,1561.12 L126.9,1561.84Z" fill="#0000ff" fill-opacity="0.1" stroke="#0000ff" stroke-opacity="0.1" stroke-width="1.6"/>
<path d="M126.9,1490.69 L133.22,1482.37 L139.53,1474.28 L145.84,1466.4 L152.16,1458.69 L158.48,1451.13 L164.79,1443.7 L171.11,1436.38 L177.42,1429.17 L183.74,1422.05 L190.05,1415.02 L196.37,1408.07 L202.68,1401.18 L209,1394.37 L215.31,1387.62 L221.62,1380.93 L227.94,1374.29 L234.25,1367.71 L240.57,1361.18 L246.88,1354.7 L253.2,1348.26 L259.51,1341.86 L265.83,1335.51 L272.14,1329.2 L278.46,1322.93 L284.77,1316.7 L291.09,1310.5 L297.41,1304.34 L303.72,1298.21 L310.03,1292.11 L316.35,1286.05 L322.66,1280.02 L328.98,1274.03 L335.3,1268.06 L341.61,1262.12 L347.93,1256.22 L354.24,1250.34 L360.56,1244.49 L366.87,1238.67 L373.19,1232.87 L379.5,1227.11 L385.82,1221.37 L392.13,1215.66 L398.45,1209.98 L404.76,1204.32 L411.08,1198.69 L417.39,1193.08 L423.71,1187.5 L430.02,1181.95 L436.34,1176.42 L442.65,1170.92 L448.97,1165.45 L455.28,1160 L461.6,1154.58 L467.91,1149.18 L474.23,1143.81 L480.54,1138.47 L486.86,1133.15 L493.17,1127.86 L499.49,1122.59 L505.8,1117.36 L512.12,1112.15 L518.43,1106.96 L524.75,1101.81 L531.06,1096.68 L537.38,1091.59 L543.69,1086.52 L550,1081.48 L556.32,1076.47 L562.63,1071.5 L568.95,1066.55 L575.26,1061.64 L581.58,1056.76 L587.89,1051.91 L594.21,1047.1 L600.52,1042.32 L606.84,1037.59 L613.15,1032.89 L619.47,1028.22 L625.79,1023.6 L632.1,1019.03 L638.42,1014.49 L644.73,1010 L651.05,1005.56 L657.36,1001.18 L663.67,996.84 L669.99,992.56 L676.3,988.35 L682.62,984.19 L688.93,980.11 L695.25,976.1 L701.56,972.17 L707.88,968.33 L714.2,964.58 L720.51,960.94 L726.83,957.42 L733.14,954.03 L739.45,950.79 L745.77,947.73 L752.08,944.87 L758.4,942.26 L758.4,1007.21 L752.08,1015.53 L745.77,1023.62 L739.45,1031.5 L733.14,1039.21 L726.83,1046.77 L720.51,1054.2 L714.2,1061.52 L707.88,1068.73 L701.56,1075.85 L695.25,1082.88 L688.93,1089.83 L682.62,1096.72 L676.3,1103.53 L669.99,1110.28 L663.67,1116.97 L657.36,1123.61 L651.05,1130.19 L644.73,1136.72 L638.42,1143.2 L632.1,1149.64 L625.79,1156.04 L619.47,1162.39 L613.15,1168.7 L606.84,1174.97 L600.52,1181.2 L594.21,1187.4 L587.89,1193.56 L581.58,1199.69 L575.26,1205.79 L568.95,1211.85 L562.63,1217.88 L556.32,1223.87 L550,1229.84 L543.69,1235.78 L537.38,1241.68 L531.06,1247.56 L524.75,1253.41 L518.43,1259.23 L512.12,1265.03 L505.8,1270.79 L499.49,1276.53 L493.17,1282.24 L486.86,1287.92 L480.54,1293.58 L474.23,1299.21 L467.91,1304.82 L461.6,1310.4 L455.28,1315.95 L448.97,1321.48 L442.65,1326.98 L436.34,1332.45 L430.02,1337.9 L423.71,1343.32 L417.39,1348.72 L411.08,1354.09 L404.76,1359.43 L398.45,1364.75 L392.13,1370.04 L385.82,1375.31 L379.5,1380.54 L373.19,1385.75 L366.87,1390.94 L360.56,1396.09 L354.24,1401.22 L347.93,1406.31 L341.61,1411.38 L335.3,1416.42 L328.98,1421.43 L322.66,1426.4 L316.35,1431.35 L310.03,1436.26 L303.72,1441.14 L297.41,1445.99 L291.09,1450.8 L284.77,1455.58 L278.46,1460.31 L272.14,1465.01 L265.83,1469.68 L259.51,1474.3 L253.2,1478.87 L246.88,1483.41 L240.57,1487.9 L234.25,1492.34 L227.94,1496.72 L221.62,1501.06 L215.31,1505.34 L209,1509.55 L202.68,1513.71 L196.37,1517.79 L190.05,1521.8 L183.74,1525.73 L177.42,1529.57 L171.11,1533.32 L164.79,1536.96 L158.48,1540.48 L152.16,1543.87 L145.84,1547.11 L139.53,1550.17 L133.22,1553.03 L126.9,1555.64Z" fill="#0000ff" fill-opacity="0.1" stroke="#0000ff" stroke-opacity="0.1" stroke-width="1.6"/>
<line x1="126.9" y1="1562.9" x2="758.4" y2="935" stroke="#0000ff" stroke-opacity="0.5" stroke-width="3.0" stroke-linecap="square"/>
<path fill="none" stroke="#ff0000" stroke-width="7.8" stroke-linecap="round" d="M234.7,1249h0M250.5,1249h0M274.5,1249h0M279.3,1249h0M319.8,1249h0M330.3,1249h0M335.1,1249h0M376.5,1249h0M381.3,1249h0M389,1249h0M410.2,1249h0M440,1249h0
M469.4,1249h0M532.4,1249h0M539.1,1249h0M555.1,1249h0M598.8,1249h0M141.4,1277.5h0M177,1277.5h0M223.5,1277.5h0M241.8,1277.5h0M250.5,1277.5h0M263,1277.5h0M282.2,1277.5h0
M291.8,1277.5h0M299.6,1277.5h0M325.9,1277.5h0M352.9,1277.5h0M370.7,1277.5h0M379.4,1277.5h0M388,1277.5h0M400.5,1277.5h0M406.3,1277.5h0M413,1277.5h0M417.9,1277.5h0M427.5,1277.5h0
M435.2,1277.5h0M440,1277.5h0M463.1,1277.5h0M467,1277.5h0M478.5,1277.5h0M498.7,1277.5h0M503.5,1277.5h0M541,1277.5h0M547.7,1277.5h0M558.7,1277.5h0M569.9,1277.5h0M161,1301.3h0
M230.8,1301.3h0M245.2,1301.3h0M354.7,1301.3h0M365.5,1301.3h0M438.5,1301.3h0M458.7,1301.3h0M485.6,1301.3h0M508.9,1301.3h0M607.4,1301.3h0M614.7,1301.3h0M239.9,1311.7h0M305.9,1311.7h0
M318.7,1311.7h0M343.8,1311.7h0M349.6,1311.7h0M381.3,1311.7h0M401.2,1311.7h0M413.7,1311.7h0M429.8,1311.7h0M450.6,1311.7h0M455.4,1311.7h0M472.1,1311.7h0M492.5,1311.7h0M512.2,1311.7h0
M517.9,1311.7h0M537.6,1311.7h0M549.7,1311.7h0M562.6,1311.7h0M646.8,1311.7h0M153.3,1334.6h0M168.3,1334.6h0M186,1334.6h0M192.8,1334.6h0M197.6,1334.6h0M202.4,1334.6h0M215.8,1334.6h0
M221.6,1334.6h0M228.3,1334.6h0M233.2,1334.6h0M238,1334.6h0M242.8,1334.6h0M252.4,1334.6h0M273.5,1334.6h0M284.5,1334.6h0M296.6,1334.6h0M307.8,1334.6h0M334.2,1334.6h0M342.8,1334.6h0
M346.7,1334.6h0M370.7,1334.6h0M377.5,1334.6h0M390,1334.6h0M398.6,1334.6h0M408.2,1334.6h0M427.5,1334.6h0M439.2,1334.6h0M451.6,1334.6h0M501.6,1334.6h0M618,1334.6h0M627.6,1334.6h0
M171.5,1353.6h0M254.3,1353.6h0M293.7,1353.6h0M309.5,1353.6h0M331.7,1353.6h0M353,1353.6h0M372.7,1353.6h0M403.4,1353.6h0M408.2,1353.6h0M456.9,1353.6h0M471.4,1353.6h0M533.9,1353.6h0
M144.6,1374.5h0M149.4,1374.5h0M180.8,1374.5h0M215.8,1374.5h0M221.6,1374.5h0M231.2,1374.5h0M248.9,1374.5h0M264.9,1374.5h0M268.7,1374.5h0M277.4,1374.5h0M288,1374.5h0M296.6,1374.5h0
M307.8,1374.5h0M338,1374.5h0M343.8,1374.5h0M353.4,1374.5h0M407.3,1374.5h0M433.2,1374.5h0M445.7,1374.5h0M461.2,1374.5h0M476.6,1374.5h0M480.4,1374.5h0M494.2,1374.5h0M512.2,1374.5h0
M535.8,1374.5h0M136,1391.7h0M141.7,1391.7h0M149.4,1391.7h0M156.2,1391.7h0M161.9,1391.7h0M167.8,1391.7h0M172.6,1391.7h0M182.2,1391.7h0M187,1391.7h0M191.8,1391.7h0M196.6,1391.7h0
M205.3,1391.7h0M214.9,1391.7h0M219.7,1391.7h0M232.2,1391.7h0M238,1391.7h0M257.2,1391.7h0M262,1391.7h0M271.6,1391.7h0M287,1391.7h0M292.8,1391.7h0M298.6,1391.7h0M304.4,1391.7h0
M310.1,1391.7h0M315.9,1391.7h0M321.7,1391.7h0M327.5,1391.7h0M333.2,1391.7h0M344.8,1391.7h0M352.5,1391.7h0M359.2,1391.7h0M365,1391.7h0M378.4,1391.7h0M383.2,1391.7h0M388,1391.7h0
M393.8,1391.7h0M398.6,1391.7h0M408.2,1391.7h0M420.7,1391.7h0M429.4,1391.7h0M439.8,1391.7h0M487.2,1391.7h0M506.4,1391.7h0M511.2,1391.7h0M526.6,1391.7h0M558.7,1391.7h0M585.7,1391.7h0
M630.5,1391.7h0M145.6,1405.9h0M153.3,1405.9h0M158.1,1405.9h0M162.9,1405.9h0M167.8,1405.9h0M172.6,1405.9h0M176.4,1405.9h0M187,1405.9h0M194.7,1405.9h0M230.3,1405.9h0M236,1405.9h0
M241.8,1405.9h0M246.6,1405.9h0M252.4,1405.9h0M264.9,1405.9h0M299.2,1405.9h0M370.7,1405.9h0M415,1405.9h0M420.7,1405.9h0M481.9,1405.9h0M136,1437.3h0M141.7,1437.3h0M157.1,1437.3h0
M168.7,1437.3h0M175.4,1437.3h0M181.2,1437.3h0M187,1437.3h0M206.2,1437.3h0M214.9,1437.3h0M228.3,1437.3h0M234.1,1437.3h0M239.9,1437.3h0M246.6,1437.3h0M255.3,1437.3h0M262,1437.3h0
M286,1437.3h0M290.9,1437.3h0M302.4,1437.3h0M308.2,1437.3h0M316.9,1437.3h0M331.3,1437.3h0M338,1437.3h0M343.8,1437.3h0M350.5,1437.3h0M370.7,1437.3h0M375.5,1437.3h0M397.7,1437.3h0
M480,1437.3h0M555.1,1437.3h0M135,1448.7h0M140.8,1448.7h0M146.5,1448.7h0M152.3,1448.7h0M158.1,1448.7h0M163.9,1448.7h0M171.2,1448.7h0M182.2,1448.7h0M187.9,1448.7h0M193.7,1448.7h0
M198.5,1448.7h0M205.3,1448.7h0M213,1448.7h0M218.7,1448.7h0M224.5,1448.7h0M230.3,1448.7h0M236,1448.7h0M241.8,1448.7h0M247.6,1448.7h0M254,1448.7h0M264.9,1448.7h0M280.3,1448.7h0
M286,1448.7h0M294.8,1448.7h0M306.2,1448.7h0M311.1,1448.7h0M321.7,1448.7h0M328.4,1448.7h0M348.6,1448.7h0M353.4,1448.7h0M421.7,1448.7h0M426.5,1448.7h0M491.9,1448.7h0M132.1,1458.2h0
M138.9,1458.2h0M144.6,1458.2h0M153.3,1458.2h0M158.1,1458.2h0M168.3,1458.2h0M184.7,1458.2h0M214.5,1458.2h0M242.8,1458.2h0M248.5,1458.2h0M284.1,1458.2h0M308.8,1458.2h0M331.3,1458.2h0
M354.7,1458.2h0M369.8,1458.2h0M375.5,1458.2h0M410.2,1458.2h0M417.9,1458.2h0M466,1458.2h0M491,1458.2h0M250.5,1500.1h0M275.5,1500.1h0M289.9,1500.1h0M296.6,1500.1h0M304.4,1500.1h0
M328.4,1500.1h0M338,1500.1h0M348.6,1500.1h0M360.2,1500.1h0M385.2,1500.1h0M153.3,1500.1h0M174.8,1500.1h0M165.7,1500.1h0M141.6,1500.1h0M138.6,1500.1h0M161.8,1500.1h0M135.9,1500.1h0
M147.1,1500.1h0M158.4,1500.1h0M148.1,1500.1h0M127.7,1500.1h0M171.6,1500.1h0M171.7,1500.1h0M142.5,1500.1h0M156.9,1500.1h0M176.3,1500.1h0M169.7,1500.1h0M130.8,1500.1h0M142.2,1500.1h0
M141.9,1500.1h0M168.6,1500.1h0M158.8,1500.1h0M133,1500.1h0M127.6,1500.1h0M174.5,1500.1h0M134.6,1500.1h0M148.6,1500.1h0M144.8,1500.1h0M170.9,1500.1h0M148.9,1500.1h0M168.9,1500.1h0
M163.3,1500.1h0M133.5,1500.1h0M157.3,1500.1h0M134,1500.1h0M131.4,1500.1h0M231,1500.1h0M207.3,1500.1h0M187.9,1500.1h0M212.7,1500.1h0M215.3,1500.1h0M227.3,1500.1h0M219.7,1500.1h0
M213.3,1500.1h0M188.9,1500.1h0M268.7,1505.8h0M286,1505.8h0M297.6,1505.8h0M306.2,1505.8h0M316.9,1505.8h0M356.3,1505.8h0M408.2,1505.8h0M139.5,1505.8h0M152.8,1505.8h0M147.3,1505.8h0
M151.6,1505.8h0M175.2,1505.8h0M172.5,1505.8h0M152.8,1505.8h0M168.5,1505.8h0M168.8,1505.8h0M139.1,1505.8h0M131.5,1505.8h0M150.8,1505.8h0M171.4,1505.8h0M134.9,1505.8h0M139.1,1505.8h0
M173.3,1505.8h0M134,1505.8h0M173.2,1505.8h0M139.2,1505.8h0M158.3,1505.8h0M175,1505.8h0M140.3,1505.8h0M150,1505.8h0M176,1505.8h0M139.5,1505.8h0M137.4,1505.8h0M161.9,1505.8h0
M169.7,1505.8h0M150.1,1505.8h0M132.6,1505.8h0M158.6,1505.8h0M131.7,1505.8h0M130.2,1505.8h0M144.8,1505.8h0M172.7,1505.8h0M167.4,1505.8h0M146.7,1505.8h0M132.2,1505.8h0M133.9,1505.8h0
M154.2,1505.8h0M152.8,1505.8h0M152.7,1505.8h0M185.6,1505.8h0M228.4,1505.8h0M215.8,1505.8h0M226.2,1505.8h0M207,1505.8h0M182.2,1505.8h0M216.2,1505.8h0M205.5,1505.8h0M177.8,1505.8h0
M180.4,1505.8h0M269.7,1510.6h0M337.1,1510.6h0M383.2,1510.6h0M148.4,1510.6h0M171.3,1510.6h0M149.1,1510.6h0M159.6,1510.6h0M155.9,1510.6h0M139.5,1510.6h0M142.3,1510.6h0M127.8,1510.6h0
M134,1510.6h0M153.9,1510.6h0M159.8,1510.6h0M134.8,1510.6h0M162,1510.6h0M157.7,1510.6h0M175.6,1510.6h0M169.6,1510.6h0M153.4,1510.6h0M157.6,1510.6h0M131.8,1510.6h0M175.2,1510.6h0
M172.2,1510.6h0M155.4,1510.6h0M141.6,1510.6h0M159.4,1510.6h0M148.3,1510.6h0M158.8,1510.6h0M147.3,1510.6h0M142.6,1510.6h0M147.4,1510.6h0M169.9,1510.6h0M169.4,1510.6h0M141.8,1510.6h0
M144.4,1510.6h0M151.7,1510.6h0M146.7,1510.6h0M143.9,1510.6h0M153.9,1510.6h0M132.4,1510.6h0M178.9,1510.6h0M189.7,1510.6h0M239.4,1510.6h0M226.4,1510.6h0M211,1510.6h0M185.3,1510.6h0
M241.7,1510.6h0M234.6,1510.6h0M239.2,1510.6h0M446.8,1510.6h0M466,1510.6h0M216.8,1220.4h0M220.7,1220.4h0M261,1220.4h0M311.1,1220.4h0M322.6,1220.4h0M326.5,1220.4h0M334.2,1220.4h0
M346.1,1220.4h0M377.5,1220.4h0M388.7,1220.4h0M397.7,1220.4h0M408.2,1220.4h0M414,1220.4h0M421.7,1220.4h0M448.6,1220.4h0M455.4,1220.4h0M460.2,1220.4h0M465,1220.4h0M469.8,1220.4h0
M488.1,1220.4h0M499.7,1220.4h0M512.2,1220.4h0M521.2,1220.4h0M532.4,1220.4h0M309.5,1196.6h0M337.1,1196.6h0M341.9,1196.6h0M358.2,1196.6h0M467.5,1196.6h0M476.9,1196.6h0M492,1196.6h0
M497.7,1196.6h0M503.5,1196.6h0M576.6,1196.6h0M342.2,1186.2h0M406.7,1186.2h0M445.7,1186.2h0M451.6,1186.2h0M460.2,1186.2h0M465,1186.2h0M502.5,1186.2h0M507.3,1186.2h0M513.1,1186.2h0
M517.9,1186.2h0M529.5,1186.2h0M535.2,1186.2h0M551.6,1186.2h0M574.7,1186.2h0M605.5,1186.2h0M657.4,1186.2h0M273.5,1163.3h0M333.2,1163.3h0M342.2,1163.3h0M369.8,1163.3h0M379.4,1163.3h0
M406.3,1163.3h0M412.1,1163.3h0M426.5,1163.3h0M433.2,1163.3h0M438,1163.3h0M442.3,1163.3h0M460.2,1163.3h0M478.5,1163.3h0M488.1,1163.3h0M493.9,1163.3h0M501.6,1163.3h0M521.4,1163.3h0
M554.1,1163.3h0M588.1,1163.3h0M607,1163.3h0M643.6,1163.3h0M247,1144.3h0M381.3,1144.3h0M421.1,1144.3h0M545.8,1144.3h0M555.4,1144.3h0M367.2,1123.4h0M376.1,1123.4h0M474.6,1123.4h0
M480,1123.4h0M508.9,1123.4h0M580.4,1123.4h0M601.6,1123.4h0M607.4,1123.4h0M662.6,1123.4h0M325.5,1106.2h0M338.4,1106.2h0M356.7,1106.2h0M367.2,1106.2h0M378,1106.2h0M395.7,1106.2h0
M411.1,1106.2h0M414,1106.2h0M426.5,1106.2h0M439.1,1106.2h0M442.9,1106.2h0M449.6,1106.2h0M485.2,1106.2h0M490.4,1106.2h0M506.4,1106.2h0M512.2,1106.2h0M517,1106.2h0M532.4,1106.2h0
M544.4,1106.2h0M573.4,1106.2h0M603.6,1106.2h0M434.3,1092h0M487.2,1092h0M525.1,1092h0M605.5,1092h0M654.5,1092h0M374,1060.6h0M401.1,1060.6h0M422.7,1060.6h0M468.9,1060.6h0
M475.6,1060.6h0M493.9,1060.6h0M501.6,1060.6h0M521.2,1060.6h0M536.2,1060.6h0M551.6,1060.6h0M557.4,1060.6h0M565,1060.6h0M574.7,1060.6h0M594,1060.6h0M599.7,1060.6h0M607.4,1060.6h0
M625.7,1060.6h0M637.2,1060.6h0M649.7,1060.6h0M656.5,1060.6h0M677.1,1060.6h0M699.2,1060.6h0M327.4,1049.2h0M384.7,1049.2h0M422.7,1049.2h0M440,1049.2h0M443.8,1049.2h0M458.2,1049.2h0
M464.1,1049.2h0M473.7,1049.2h0M484.3,1049.2h0M496.8,1049.2h0M506.4,1049.2h0M517,1049.2h0M522.7,1049.2h0M527.5,1049.2h0M619.9,1049.2h0M625.7,1049.2h0M632.4,1049.2h0M638.2,1049.2h0
M646.8,1049.2h0M652.6,1049.2h0M658.4,1049.2h0M667,1049.2h0M672.8,1049.2h0M688.2,1049.2h0M578.6,1049.2h0M558.5,1049.2h0M550,1049.2h0M594.8,1049.2h0M547.8,1049.2h0M581.3,1049.2h0
M591.6,1049.2h0M578.7,1049.2h0M595.8,1049.2h0M605.8,1049.2h0M542.2,1049.2h0M544.9,1049.2h0M544.7,1049.2h0M557.7,1049.2h0M577.5,1049.2h0M569.5,1049.2h0M569.9,1049.2h0M587.9,1049.2h0
M547.3,1049.2h0M545.1,1049.2h0M546.7,1049.2h0M599.6,1049.2h0M564,1049.2h0M582.1,1049.2h0M305.9,1039.7h0M358.2,1039.7h0M399.6,1039.7h0M412.1,1039.7h0M455,1039.7h0M491,1039.7h0
M494.8,1039.7h0M516,1039.7h0M524.7,1039.7h0M532.4,1039.7h0M543.9,1039.7h0M552.5,1039.7h0M559.3,1039.7h0M577.6,1039.7h0M586.3,1039.7h0M592,1039.7h0M597.7,1039.7h0M611.3,1039.7h0
M625.7,1039.7h0M632.4,1039.7h0M638.2,1039.7h0M644,1039.7h0M676.7,1039.7h0M683.4,1039.7h0M356.3,992.1h0M364,992.1h0M379.4,992.1h0M431.3,992.1h0M437.1,992.1h0M441.9,992.1h0
M447.7,992.1h0M470.8,992.1h0M491.9,992.1h0M506.4,992.1h0M518.9,992.1h0M536.2,992.1h0M547.7,992.1h0M600,992.1h0M593.2,992.1h0M574,992.1h0M571.1,992.1h0M597.4,992.1h0
M688.4,992.1h0M660.9,992.1h0M650.4,992.1h0M621.2,992.1h0M595.8,992.1h0M660.2,992.1h0M705.7,992.1h0M639.7,992.1h0M568.3,992.1h0M722.3,992.1h0M641.3,992.1h0M575.9,992.1h0
M705.3,992.1h0M622.5,992.1h0M572.9,992.1h0M726.3,992.1h0M615.4,992.1h0M591.9,992.1h0M636.3,992.1h0M557.7,992.1h0M597.6,992.1h0M671.6,992.1h0M614.3,992.1h0M557.1,992.1h0
M602.5,992.1h0M727.4,992.1h0M682.3,992.1h0M664.3,992.1h0M560.9,992.1h0M730.6,992.1h0M652.5,992.1h0M646,992.1h0M700.2,992.1h0M683,992.1h0M703.8,992.1h0M579.8,992.1h0
M660.1,992.1h0M706.7,992.1h0M615.2,992.1h0M579.4,992.1h0M586.4,992.1h0M582.8,992.1h0M630.3,992.1h0M662.9,992.1h0M570.2,992.1h0M558,992.1h0M569.2,992.1h0M602.4,992.1h0
M615.2,992.1h0M693.9,992.1h0M687.9,992.1h0M573.1,992.1h0M639.8,992.1h0M670.6,992.1h0M705.9,992.1h0M623.6,992.1h0M610.3,992.1h0M628.7,992.1h0M633.2,992.1h0M664.9,992.1h0
M733.7,992.1h0M671.4,992.1h0M668.3,992.1h0M650,992.1h0M617.6,992.1h0M708.1,992.1h0M582.8,992.1h0M692,992.1h0M690.5,992.1h0M562.1,992.1h0M635.8,992.1h0M682.4,992.1h0
M656.6,992.1h0M618.6,992.1h0M602.6,992.1h0M562,992.1h0M568.8,992.1h0M733.5,992.1h0M667.5,992.1h0M697.1,992.1h0M556.1,992.1h0M574.9,992.1h0M624.8,992.1h0M706.1,992.1h0
M607.3,992.1h0M588.3,992.1h0M711.1,992.1h0M715.3,992.1h0M730.6,992.1h0M568.3,992.1h0M634.3,992.1h0M594.4,992.1h0M699,992.1h0M616.5,992.1h0M592.9,992.1h0M443.5,992.1h0
M463.7,992.1h0M542,992.1h0M463.9,992.1h0M515.2,992.1h0M516.1,992.1h0M463.5,992.1h0M515.9,992.1h0M458.5,992.1h0M519.6,992.1h0M549.5,992.1h0M478.6,992.1h0M455.4,987.3h0
M462.1,987.3h0M485.2,987.3h0M513.1,987.3h0M532.3,987.3h0M543.9,987.3h0M718.2,987.3h0M586.3,987.3h0M562.2,987.3h0M600.9,987.3h0M622.1,987.3h0M650.3,987.3h0M590.5,987.3h0
M690.5,987.3h0M665,987.3h0M694.3,987.3h0M588.4,987.3h0M597.7,987.3h0M669.3,987.3h0M625.7,987.3h0M727.6,987.3h0M691.6,987.3h0M584.1,987.3h0M574.8,987.3h0M613,987.3h0
M697.9,987.3h0M662.8,987.3h0M592.6,987.3h0M558.4,987.3h0M646.1,987.3h0M723.4,987.3h0M657.7,987.3h0M725.9,987.3h0M640.3,987.3h0M732.7,987.3h0M642.6,987.3h0M703.2,987.3h0
M603.2,987.3h0M565.5,987.3h0M683.9,987.3h0M575.2,987.3h0M699.9,987.3h0M722.6,987.3h0M615.2,987.3h0M609.8,987.3h0M662,987.3h0M679,987.3h0M561.3,987.3h0M666.8,987.3h0
M585,987.3h0M567.8,987.3h0M610,987.3h0M628.2,987.3h0M624.7,987.3h0M684.2,987.3h0M645.9,987.3h0M615.4,987.3h0M638.1,987.3h0M652.3,987.3h0M704.5,987.3h0M616.3,987.3h0
M695.1,987.3h0M671.2,987.3h0M711.4,987.3h0M627.6,987.3h0M586.5,987.3h0M570.1,987.3h0M654.2,987.3h0M730.2,987.3h0M606.8,987.3h0M624.4,987.3h0M701.6,987.3h0M624.6,987.3h0
M714.6,987.3h0M558.6,987.3h0M716.2,987.3h0M605.9,987.3h0M730.9,987.3h0M693.2,987.3h0M700.4,987.3h0M639.2,987.3h0M608,987.3h0M611.9,987.3h0M713.8,987.3h0M631,987.3h0
M553.7,987.3h0M665.3,987.3h0M668.9,987.3h0M662.3,987.3h0M568.5,987.3h0M587.4,987.3h0M693.3,987.3h0M660.1,987.3h0M677.5,987.3h0M566.4,987.3h0M654.9,987.3h0M451.5,987.3h0
M452.1,987.3h0M520.2,987.3h0M498.5,987.3h0M445.1,987.3h0M494.6,987.3h0M543,987.3h0M484.2,987.3h0M491.4,987.3h0M474.6,987.3h0M474.6,997.8h0M501.6,997.8h0M522.7,997.8h0
M540,997.8h0M551.6,997.8h0M561.4,997.8h0M681.2,997.8h0M635.2,997.8h0M576.1,997.8h0M621.6,997.8h0M636.9,997.8h0M663.1,997.8h0M610.4,997.8h0M571.1,997.8h0M652.3,997.8h0
M682.8,997.8h0M598.2,997.8h0M657,997.8h0M670.6,997.8h0M703.4,997.8h0M581.1,997.8h0M663.9,997.8h0M647.9,997.8h0M592.5,997.8h0M633.3,997.8h0M570.7,997.8h0M572.2,997.8h0
M571.6,997.8h0M624.8,997.8h0M643.3,997.8h0M605.4,997.8h0M641,997.8h0M635.3,997.8h0M609.5,997.8h0M625.2,997.8h0M634.8,997.8h0M629.7,997.8h0M571.2,997.8h0M667,997.8h0
M674.4,997.8h0M606.8,997.8h0M633.6,997.8h0M669.6,997.8h0M580.5,997.8h0M686.9,997.8h0M669.1,997.8h0M706.6,997.8h0M630.9,997.8h0M604.1,997.8h0M591.3,997.8h0M689.9,997.8h0
M664.5,997.8h0M621.8,997.8h0M600.7,997.8h0M677.6,997.8h0M704.4,997.8h0M691.2,997.8h0M604.1,997.8h0M656.1,997.8h0M637.7,997.8h0M579.1,997.8h0M644.7,997.8h0M690,997.8h0
M573.1,997.8h0M581.3,997.8h0M612.7,997.8h0M511.8,997.8h0M491.2,997.8h0M482.9,997.8h0M562.6,997.8h0M517.3,997.8h0M502.8,997.8h0M495.8,997.8h0"/>
<rect x="95.5" y="905.3" width="695.5" height="689.9" fill="none" stroke="#2b2b2b" stroke-width="2"/>
<g stroke="#2b2b2b" stroke-width="2">
<line x1="126.9" y1="1595.2" x2="126.9" y2="1604.7"/>
<line x1="95.5" y1="1562.9" x2="86" y2="1562.9"/>
<line x1="253.2" y1="1595.2" x2="253.2" y2="1604.7"/>
<line x1="95.5" y1="1437.32" x2="86" y2="1437.32"/>
<line x1="379.5" y1="1595.2" x2="379.5" y2="1604.7"/>
<line x1="95.5" y1="1311.74" x2="86" y2="1311.74"/>
<line x1="505.8" y1="1595.2" x2="505.8" y2="1604.7"/>
<line x1="95.5" y1="1186.16" x2="86" y2="1186.16"/>
<line x1="632.1" y1="1595.2" x2="632.1" y2="1604.7"/>
<line x1="95.5" y1="1060.58" x2="86" y2="1060.58"/>
<line x1="758.4" y1="1595.2" x2="758.4" y2="1604.7"/>
<line x1="95.5" y1="935" x2="86" y2="935"/>
</g>
<g font-family="'DejaVu Sans','Liberation Sans',sans-serif" font-size="25.0" fill="#1c1c1c">
<text x="126.4" y="1632.4" text-anchor="middle" font-size="24.7">0.0</text>
<text x="76.9" y="1572.5" text-anchor="end" font-size="24.7">0.0</text>
<text x="252.7" y="1632.4" text-anchor="middle" font-size="24.7">0.2</text>
<text x="76.9" y="1446.92" text-anchor="end" font-size="24.7">0.2</text>
<text x="379" y="1632.4" text-anchor="middle" font-size="24.7">0.4</text>
<text x="76.9" y="1321.34" text-anchor="end" font-size="24.7">0.4</text>
<text x="505.3" y="1632.4" text-anchor="middle" font-size="24.7">0.6</text>
<text x="76.9" y="1195.76" text-anchor="end" font-size="24.7">0.6</text>
<text x="631.6" y="1632.4" text-anchor="middle" font-size="24.7">0.8</text>
<text x="76.9" y="1070.18" text-anchor="end" font-size="24.7">0.8</text>
<text x="757.9" y="1632.4" text-anchor="middle" font-size="24.7">1.0</text>
<text x="76.9" y="944.6" text-anchor="end" font-size="24.7">1.0</text>
<text x="439.8" y="1664.1" text-anchor="middle">predicted probability</text>
<text transform="translate(20.7,1250.6) rotate(-90)" text-anchor="middle">Bayes expected probability / visibility probability</text>
<rect x="447.5" y="1433.2" width="330.4" height="150" rx="5" ry="5" fill="#ffffff" fill-opacity="0.8" stroke="#d4d4d4" stroke-width="2"/>
<line x1="456.5" y1="1452" x2="509.7" y2="1452" stroke="#0000ff" stroke-opacity="0.5" stroke-width="3.0"/>
<rect x="457.5" y="1499.6" width="52.2" height="19.3" fill="#0000ff" fill-opacity="0.1" stroke="#0000ff" stroke-opacity="0.1" stroke-width="1.6"/>
<circle cx="483.6" cy="1557.2" r="3.9" fill="#ff0000"/>
<text x="527" y="1460.8">ideal estimation</text>
<text x="527" y="1498.9">Bayes 68% / 95%</text>
<text x="527" y="1529.2">confidence interval</text>
<text x="527" y="1564.8">predictions</text>
</g>
</g>
<defs><clipPath id="clip894"><rect x="1018.7" y="897.8" width="694.3" height="690.1"/></clipPath></defs>
<g>
<g clip-path="url(#clip894)">
<path d="M1056.57,1545.99 L1062.88,1539.99 L1069.19,1533.79 L1075.51,1527.37 L1081.82,1520.77 L1088.13,1513.98 L1094.44,1507.01 L1100.75,1499.88 L1107.07,1492.6 L1113.38,1485.16 L1119.69,1477.59 L1126,1469.89 L1132.31,1462.07 L1138.62,1454.15 L1144.94,1446.12 L1151.25,1437.82 L1157.56,1429.14 L1163.87,1420.15 L1170.18,1410.94 L1176.5,1401.56 L1182.81,1392.11 L1189.12,1382.66 L1195.43,1373.29 L1201.74,1363.86 L1208.05,1354.31 L1214.37,1344.66 L1220.68,1334.94 L1226.99,1325.17 L1233.3,1315.39 L1239.61,1305.62 L1245.93,1295.89 L1252.24,1286.22 L1258.55,1276.65 L1264.86,1267.2 L1271.17,1257.91 L1277.48,1248.75 L1283.8,1239.72 L1290.11,1230.78 L1296.42,1221.93 L1302.73,1213.15 L1309.04,1204.44 L1315.36,1195.79 L1321.67,1187.17 L1327.98,1178.57 L1334.29,1169.99 L1340.6,1161.41 L1346.91,1152.83 L1353.23,1144.21 L1359.54,1135.57 L1365.85,1126.87 L1372.16,1118.12 L1378.47,1109.29 L1384.79,1100.38 L1391.1,1091.37 L1397.41,1082.24 L1403.72,1073.03 L1410.03,1063.74 L1416.34,1054.4 L1422.66,1044.99 L1428.97,1035.52 L1435.28,1026 L1441.59,1016.44 L1447.9,1006.84 L1454.22,997.2 L1460.53,987.52 L1466.84,977.82 L1473.15,968.1 L1479.46,958.35 L1485.77,948.59 L1492.09,938.83 L1498.4,929.05 L1504.71,919.28 L1511.02,909.51 L1517.33,899.75 L1523.65,889.98 L1529.96,880.16 L1536.27,870.3 L1542.58,860.41 L1548.89,850.5 L1555.2,840.58 L1561.52,830.66 L1567.83,820.74 L1574.14,810.84 L1580.45,800.98 L1586.76,791.15 L1593.08,781.34 L1599.39,771.55 L1605.7,761.76 L1612.01,751.98 L1618.32,742.2 L1624.63,732.44 L1630.95,722.68 L1637.26,712.93 L1643.57,703.19 L1649.88,693.46 L1656.19,683.73 L1662.51,674.02 L1668.82,664.31 L1675.13,654.62 L1681.44,644.93 L1687.75,635.26 L1694.06,625.59 L1700.38,615.94 L1706.69,606.3 L1713,596.67 L1713,1118.63 L1706.69,1122.61 L1700.38,1126.59 L1694.06,1130.56 L1687.75,1134.53 L1681.44,1138.49 L1675.13,1142.44 L1668.82,1146.38 L1662.51,1150.32 L1656.19,1154.24 L1649.88,1158.16 L1643.57,1162.06 L1637.26,1165.95 L1630.95,1169.84 L1624.63,1173.71 L1618.32,1177.58 L1612.01,1181.44 L1605.7,1185.29 L1599.39,1189.14 L1593.08,1192.99 L1586.76,1196.83 L1580.45,1200.67 L1574.14,1204.51 L1567.83,1208.35 L1561.52,1212.19 L1555.2,1216.03 L1548.89,1219.88 L1542.58,1223.73 L1536.27,1227.59 L1529.96,1231.45 L1523.65,1235.32 L1517.33,1239.2 L1511.02,1243.07 L1504.71,1246.94 L1498.4,1250.82 L1492.09,1254.7 L1485.77,1258.57 L1479.46,1262.45 L1473.15,1266.33 L1466.84,1270.22 L1460.53,1274.1 L1454.22,1277.99 L1447.9,1281.88 L1441.59,1285.77 L1435.28,1289.67 L1428.97,1293.56 L1422.66,1297.47 L1416.34,1301.37 L1410.03,1305.28 L1403.72,1309.2 L1397.41,1313.11 L1391.1,1317.02 L1384.79,1320.91 L1378.47,1324.77 L1372.16,1328.62 L1365.85,1332.46 L1359.54,1336.3 L1353.23,1340.13 L1346.91,1343.97 L1340.6,1347.82 L1334.29,1351.69 L1327.98,1355.57 L1321.67,1359.48 L1315.36,1363.41 L1309.04,1367.38 L1302.73,1371.39 L1296.42,1375.44 L1290.11,1379.54 L1283.8,1383.69 L1277.48,1387.89 L1271.17,1392.16 L1264.86,1396.6 L1258.55,1401.26 L1252.24,1406.1 L1245.93,1411.05 L1239.61,1416.07 L1233.3,1421.08 L1226.99,1426.05 L1220.68,1430.9 L1214.37,1435.59 L1208.05,1440.06 L1201.74,1444.26 L1195.43,1448.11 L1189.12,1451.56 L1182.81,1454.6 L1176.5,1457.39 L1170.18,1460.07 L1163.87,1462.77 L1157.56,1465.64 L1151.25,1468.82 L1144.94,1472.47 L1138.62,1476.54 L1132.31,1480.94 L1126,1485.65 L1119.69,1490.67 L1113.38,1496 L1107.07,1501.62 L1100.75,1507.53 L1094.44,1513.73 L1088.13,1520.22 L1081.82,1526.97 L1075.51,1534 L1069.19,1541.29 L1062.88,1548.85 L1056.57,1556.65Z" fill="#0000ff" fill-opacity="0.1" stroke="#0000ff" stroke-opacity="0.1" stroke-width="1.6"/>
<g stroke="#b0b0b0" stroke-width="1.8">
<line x1="1018.7" y1="897.8" x2="1018.7" y2="1587.9"/>
<line x1="1018.7" y1="1587.9" x2="1713" y2="1587.9"/>
<line x1="1144.94" y1="897.8" x2="1144.94" y2="1587.9"/>
<line x1="1018.7" y1="1462.43" x2="1713" y2="1462.43"/>
<line x1="1271.17" y1="897.8" x2="1271.17" y2="1587.9"/>
<line x1="1018.7" y1="1336.95" x2="1713" y2="1336.95"/>
<line x1="1397.41" y1="897.8" x2="1397.41" y2="1587.9"/>
<line x1="1018.7" y1="1211.48" x2="1713" y2="1211.48"/>
<line x1="1523.65" y1="897.8" x2="1523.65" y2="1587.9"/>
<line x1="1018.7" y1="1086.01" x2="1713" y2="1086.01"/>
<line x1="1649.88" y1="897.8" x2="1649.88" y2="1587.9"/>
<line x1="1018.7" y1="960.54" x2="1713" y2="960.54"/>
</g>
<line x1="1055.31" y1="1551.51" x2="1713" y2="897.8" stroke="#0000ff" stroke-opacity="0.5" stroke-width="3.0"/>
<path fill="none" stroke="#ff0000" stroke-width="4.8" stroke-linecap="round" d="M1137.1,1477.7h0M1096,1509.7h0M1131.8,1485.9h0M1074.8,1538.7h0M1079.6,1533.6h0M1115.3,1481.7h0M1110.5,1494h0M1102.4,1508.8h0M1096.3,1507.4h0M1117.3,1482.9h0M1103.8,1500.5h0M1125.6,1487.1h0
M1109.6,1493.3h0M1114.1,1489.8h0M1119,1494.4h0M1144.2,1465.2h0M1131.7,1477.6h0M1102,1511h0M1135.9,1477.2h0M1132,1464.6h0M1075.7,1530.8h0M1124.3,1487h0M1130.5,1471.4h0M1125.6,1477.9h0
M1123.6,1477.2h0M1111.3,1489.2h0M1080.9,1530.7h0M1141.8,1467.6h0M1101.2,1508.5h0M1087.6,1516.8h0M1124.2,1478.1h0M1144.5,1461.3h0M1090.4,1510.3h0M1120.9,1487.4h0M1115.6,1503.8h0M1124.2,1476.4h0
M1140.3,1462.8h0M1097.5,1509.6h0M1090.3,1520.8h0M1101.2,1508.2h0M1126.4,1488.9h0M1124.7,1489.5h0M1101.5,1508.8h0M1144.2,1450.3h0M1104.7,1500.2h0M1099.1,1513.4h0M1123.7,1483.4h0M1077.8,1528.6h0
M1100.9,1504.8h0M1128.2,1469.9h0M1127.7,1480.3h0M1092.5,1504.4h0M1085.6,1515.9h0M1106.2,1499h0M1096.2,1511h0M1125.5,1481.8h0M1085.6,1521.5h0M1096,1514.6h0M1133.5,1474.4h0M1116.7,1496.7h0
M1136.5,1467.8h0M1143.2,1470.8h0M1133,1473.3h0M1085,1520.5h0M1117,1488.1h0M1106.6,1498h0M1101.3,1506.8h0M1126,1485.5h0M1132.2,1471.8h0M1121.7,1482.4h0M1081.9,1528.9h0M1123.2,1476.7h0
M1076,1530.9h0M1085.8,1517.9h0M1139.4,1477.3h0M1101.4,1508.1h0M1082.6,1526.4h0M1121.7,1488.5h0M1083.7,1513.8h0M1119.2,1489.9h0M1090.1,1515.6h0M1074.7,1530.4h0M1141.9,1471.2h0M1076.6,1527.9h0
M1109.3,1505.5h0M1096.7,1515.7h0M1120,1488.4h0M1133.5,1482.9h0M1115.9,1498.3h0M1114.7,1491.6h0M1080.3,1524.4h0M1123.7,1501.8h0M1086.7,1524.3h0M1107.6,1501.4h0M1074.4,1537.2h0M1094.8,1513.7h0
M1134.9,1465.7h0M1112.6,1494.3h0M1111.7,1492.7h0M1098.7,1501.2h0M1132.4,1478.2h0M1092,1512.8h0M1080.9,1527.6h0M1112.9,1486.1h0M1091.3,1505.2h0M1128.5,1487.1h0M1084.9,1528.5h0M1129.1,1468.9h0
M1116.2,1495h0M1074.8,1529.5h0M1112.8,1492.1h0M1120.6,1500.2h0M1140.4,1462.2h0M1129.3,1475.4h0M1126.7,1469.2h0M1108.1,1506h0M1074.8,1535.4h0M1131.5,1468.1h0M1072.7,1533.2h0M1112,1493.1h0
M1113.2,1482.3h0M1080,1531.9h0M1076.3,1529.9h0M1113.8,1486h0M1107.3,1500.2h0M1093.8,1512.3h0M1074.6,1529.3h0M1118.1,1479.5h0M1080.8,1520.4h0M1072.6,1527.5h0M1092,1519.1h0M1093.8,1514.6h0
M1084.9,1515h0M1076.6,1530.9h0M1128.8,1484.3h0M1101.1,1505.5h0M1089.7,1515.5h0M1110.1,1501.5h0M1090.4,1513.4h0M1134.1,1474.7h0M1107.1,1502.5h0M1117.3,1493.3h0M1143,1465.9h0M1097.7,1497.2h0
M1088.2,1514.3h0M1143.4,1448.9h0M1114.7,1495.6h0M1143.6,1458.5h0M1142.6,1469.1h0M1123.3,1488.8h0M1073.1,1535.3h0M1116.6,1485.2h0M1090,1524.7h0M1081.2,1528.4h0M1098.5,1498.5h0M1086.4,1512h0
M1127.8,1475.7h0M1140.1,1452.4h0M1073.7,1521.6h0M1090.5,1522.6h0M1091.2,1504.6h0M1082.1,1520.6h0M1141.4,1459.3h0M1089.8,1520h0M1097.8,1515.1h0M1075.3,1535.1h0M1089.2,1513.1h0M1136.4,1469.7h0
M1142.3,1483.7h0M1119.8,1494.4h0M1093.5,1510.2h0M1076.1,1528.2h0M1135,1479.7h0M1083.1,1520h0M1091.5,1511.4h0M1111.9,1492.5h0M1090.2,1513.1h0M1133.6,1469.8h0M1108.5,1505.8h0M1107.2,1512h0
M1138,1467.2h0M1138.7,1468.5h0M1089.4,1521.4h0M1073.1,1534.4h0M1120.8,1480.4h0M1091.5,1520.4h0M1072.8,1533.2h0M1078.8,1530.9h0M1102.4,1504.3h0M1080.5,1526.3h0M1086.9,1523.5h0M1126.3,1480.8h0
M1105.1,1495.7h0M1080,1522.3h0M1087.5,1524.6h0M1139.8,1454.1h0M1072.3,1536.6h0M1118.7,1482.6h0M1118.9,1479.9h0M1121.5,1481.8h0M1114,1485.9h0M1129.2,1474.7h0M1131.9,1462.5h0M1119.1,1491.1h0
M1084.9,1523.7h0M1124.9,1493.8h0M1092.6,1516.1h0M1133.3,1484.5h0M1113.5,1483.5h0M1078,1532h0M1138.4,1472.2h0M1105.6,1500.4h0M1140.8,1456.7h0M1074.7,1530.4h0M1079.6,1531.7h0M1127.1,1470.8h0
M1074.8,1527.2h0M1104.8,1505h0M1131.5,1481.1h0M1102.4,1510h0M1085.6,1524.3h0M1133.5,1478.9h0M1079.6,1514.3h0M1092.8,1520.2h0M1087.6,1513.4h0M1105.7,1499.1h0M1095.1,1503.8h0M1138.3,1478.6h0
M1129.2,1461.4h0M1123.4,1493h0M1082,1526.7h0M1116.5,1488.4h0M1134.1,1475.7h0M1139.4,1475.3h0M1120.2,1470.4h0M1090.7,1515.4h0M1092,1512.2h0M1118.2,1493.6h0M1124.8,1488.6h0M1094.1,1496.2h0
M1121.4,1495.3h0M1108.8,1502.3h0M1132.4,1466.7h0M1121.7,1483.5h0M1138.4,1472.7h0M1080.5,1524.3h0M1133.2,1466.4h0M1141.1,1456.7h0M1113.7,1492.5h0M1072,1535.9h0M1074.2,1528h0M1101.9,1508.7h0
M1105.3,1506.2h0M1106.7,1501.6h0M1121.6,1487h0M1127,1481.2h0M1131.8,1478.1h0M1097.1,1505.2h0M1116.7,1490.1h0M1100.5,1513.2h0M1124.8,1491.5h0M1113,1493.8h0M1115.3,1490.2h0M1100.1,1507.9h0
M1118.2,1486.9h0M1135.3,1464.4h0M1119.4,1482.5h0M1081.1,1520.8h0M1078.2,1534h0M1121.3,1482.9h0M1097.8,1516.4h0M1094.8,1519.9h0M1136.9,1465.9h0M1135,1474.4h0M1130.7,1471h0M1097.9,1502.3h0
M1118.6,1491.4h0M1115.6,1486.8h0M1089,1520.7h0M1114.9,1486.8h0M1144.7,1456.5h0M1075.6,1532.7h0M1089.1,1508.7h0M1096,1511.4h0M1130.4,1500.7h0M1104.2,1503.1h0M1076.3,1532.1h0M1095,1505.7h0
M1132.5,1467.6h0M1125.8,1474.9h0M1092.1,1507.8h0M1125.1,1471h0M1095.1,1512h0M1082.9,1527.1h0M1143.8,1478.7h0M1090.9,1520.7h0M1116.3,1489.5h0M1138.9,1460.4h0M1118.8,1479.2h0M1103,1510h0
M1100.8,1504.2h0M1075.3,1526.4h0M1077.7,1531.5h0M1104.7,1507.1h0M1139.2,1472h0M1088.8,1516h0M1135.3,1476.7h0M1130.7,1470.5h0M1084.5,1520.7h0M1094.6,1505.9h0M1103.1,1490.6h0M1134.6,1472.9h0
M1118.2,1486.9h0M1132.1,1462.9h0M1108.1,1491.6h0M1114.4,1490.7h0M1105,1504.7h0M1090.6,1524h0M1117,1485.9h0M1113.8,1495.6h0M1135.2,1482.8h0M1139.4,1485.4h0M1113.8,1493.9h0M1122.5,1495.8h0
M1100.4,1504.6h0M1121.2,1476.4h0M1144.8,1459.6h0M1140.6,1466.3h0M1082.1,1524.5h0M1140.4,1459h0M1074.5,1528.9h0M1073.6,1534.2h0M1084.7,1527.6h0M1094.1,1508.3h0M1143.8,1463.5h0M1140.8,1437.2h0
M1127.7,1478.7h0M1117.3,1483.2h0M1142.7,1455.5h0M1113.7,1494.5h0M1087.3,1519.8h0M1081.5,1527.7h0M1127.6,1465.1h0M1110.3,1490.3h0M1131.6,1481.2h0M1129.8,1485.6h0M1120.8,1487.5h0M1128.6,1487.3h0
M1122.1,1486h0M1103.1,1504.5h0M1132.5,1469.2h0M1138.8,1454.7h0M1128.6,1492.9h0M1078,1530.9h0M1141.3,1474.8h0M1106.7,1498.3h0M1136.6,1475.4h0M1077.9,1524.7h0M1140.4,1460.5h0M1094.8,1520.8h0
M1102.5,1501.4h0M1121.9,1482.1h0M1078.4,1523.7h0M1086.9,1516.3h0M1114.4,1489.3h0M1099.9,1507.1h0M1079.5,1533.7h0M1072.5,1541.2h0M1137.3,1453.3h0M1120.6,1483.4h0M1095.4,1508.6h0M1136.6,1466.2h0
M1142.5,1468.7h0M1077.7,1526.4h0M1090.8,1512.6h0M1110.5,1494.8h0M1139.1,1467.8h0M1088.8,1514.5h0M1140.2,1471.4h0M1137.7,1458.9h0M1096.5,1505.6h0M1088.2,1517.4h0M1085.1,1524.4h0M1075.7,1525.9h0
M1141.7,1458.1h0M1082.5,1523.1h0M1141.8,1470.3h0M1096.5,1508.5h0M1076.1,1534.3h0M1131.7,1475.3h0M1130.5,1473h0M1105.6,1493.8h0M1128.3,1483.6h0M1126.5,1476.9h0M1104.7,1511.1h0M1092.5,1502.9h0
M1082.2,1525.2h0M1138.4,1474.8h0M1077.5,1524.3h0M1124.9,1482.3h0M1077.4,1533.4h0M1120.8,1491.6h0M1076.1,1524.3h0M1079.9,1526.2h0M1106.5,1508.4h0M1077.6,1531.1h0M1149,1446h0M1225.7,1392.2h0
M1257.9,1341.3h0M1205.9,1398.4h0M1250.7,1360.7h0M1234.4,1393h0M1262.7,1338.7h0M1267.9,1360.9h0M1219.2,1381.7h0M1264.4,1332.3h0M1234,1350.4h0M1203.6,1380.9h0M1260.4,1351.6h0M1218.1,1361.9h0
M1175.1,1445.8h0M1194.1,1433.4h0M1198.2,1385.2h0M1165.6,1434.6h0M1148.1,1458.7h0M1151.6,1463.7h0M1230.6,1347.6h0M1177,1418.5h0M1164.1,1451.9h0M1169.9,1438h0M1248.2,1380h0M1257.5,1324.3h0
M1202.3,1379.9h0M1238.5,1322.8h0M1217.5,1382.8h0M1206.6,1426.2h0M1226.3,1355.8h0M1264.6,1325h0M1246.2,1364.3h0M1196.7,1402.1h0M1176.7,1445.1h0M1145.3,1463.1h0M1181.7,1408.8h0M1268.5,1320.3h0
M1198.4,1387.3h0M1213.1,1421.7h0M1153,1436.4h0M1162.9,1429.3h0M1269.4,1337.7h0M1212.6,1407.3h0M1172.9,1436.5h0M1226,1356.1h0M1236.7,1373.1h0M1208.6,1387.6h0M1186.4,1414.8h0M1236.1,1386.4h0
M1161.4,1453.2h0M1235.9,1336.4h0M1201.5,1393.4h0M1210.1,1374.4h0M1224.1,1384.4h0M1253.4,1378.3h0M1184.7,1405.3h0M1232.8,1340.6h0M1159.7,1450.5h0M1200.3,1422.5h0M1235.5,1339h0M1257.3,1373.4h0
M1215.3,1406.2h0M1224.9,1387h0M1212.1,1399h0M1188.6,1423h0M1251.7,1401h0M1217.4,1380.4h0M1177.9,1428.4h0M1245.6,1319h0M1250.3,1360.5h0M1202.1,1421.5h0M1230.7,1362.5h0M1156.7,1456.7h0
M1236.2,1355h0M1187.4,1403.9h0M1147.8,1475.7h0M1233.9,1394.2h0M1214.1,1396.8h0M1249.5,1382.2h0M1159.5,1448h0M1270.3,1321.2h0M1186.9,1411.1h0M1161.8,1436.6h0M1150.3,1447.7h0M1185.4,1423.4h0
M1171.4,1445.9h0M1217.4,1402.4h0M1265.9,1370.2h0M1172.3,1426h0M1186.5,1427.3h0M1178.5,1443.8h0M1179.2,1444h0M1231.7,1366.5h0M1257.7,1329.2h0M1218.7,1400.1h0M1195.5,1408.1h0M1198.7,1389.7h0
M1214.7,1355.2h0M1183.5,1415.4h0M1177.5,1436.9h0M1259.8,1329.9h0M1209.5,1368.9h0M1160,1461.4h0M1217,1376.2h0M1176.5,1419.8h0M1145.6,1465.7h0M1217.2,1389.3h0M1190.2,1407.4h0M1231.2,1342.8h0
M1222.4,1378.8h0M1166.9,1458.6h0M1183,1412.6h0M1235.3,1372.7h0M1199.3,1416.6h0M1161.9,1442.8h0M1166.9,1439.2h0M1236.5,1358.1h0M1223.8,1374.9h0M1215,1404.4h0M1152,1436.5h0M1194,1409.5h0
M1201.2,1410.2h0M1218.7,1382.9h0M1232.8,1402.7h0M1235.6,1374.7h0M1219.7,1386.4h0M1179.1,1435.4h0M1196.5,1432.3h0M1242.9,1363.5h0M1203.7,1360h0M1195.9,1438.6h0M1252.8,1363.2h0M1270.6,1338.3h0
M1198,1414.9h0M1225,1357.4h0M1260,1369.8h0M1164.4,1443.5h0M1181.7,1418.2h0M1226.6,1414.4h0M1167.5,1431.3h0M1180.3,1406.5h0M1263.1,1334.7h0M1184.7,1419.9h0M1157.1,1467.9h0M1208,1393.2h0
M1154.5,1451.6h0M1176.6,1422.9h0M1265.5,1328.3h0M1251.2,1336.7h0M1163.7,1443.9h0M1176,1440.7h0M1151.8,1451.1h0M1170.2,1450.7h0M1247.1,1343.5h0M1260.4,1311.7h0M1223.8,1352h0M1155.7,1457.9h0
M1208.2,1372.7h0M1229.2,1392.4h0M1158.4,1447.4h0M1218.4,1408.5h0M1240.3,1330.9h0M1193.6,1407.6h0M1249.2,1367.8h0M1166.4,1444.4h0M1178.3,1437.5h0M1246.6,1358.7h0M1231.4,1383.6h0M1243.7,1360.7h0
M1167.5,1438.3h0M1265.3,1295h0M1167.3,1439.3h0M1232.9,1381.1h0M1183.9,1411.6h0M1209.2,1402.7h0M1260.4,1380.5h0M1243.1,1315.3h0M1239.5,1376.7h0M1158.9,1445.3h0M1260.2,1365.9h0M1258.9,1319.3h0
M1269.2,1378.3h0M1159.2,1447.8h0M1193.3,1389.6h0M1179.6,1439.6h0M1252.1,1345.8h0M1258.4,1352.3h0M1208.7,1420.5h0M1172.9,1423.7h0M1151,1447.2h0M1256.1,1359.8h0M1264.7,1347.1h0M1240.2,1391.2h0
M1249,1364.8h0M1184.2,1409.2h0M1161.2,1445.9h0M1157.7,1419.3h0M1229.8,1380.9h0M1162.8,1446h0M1261.5,1340.8h0M1175.9,1429.5h0M1239.4,1369.5h0M1222.1,1362.6h0M1188.5,1417.8h0M1224.6,1375.5h0
M1147.2,1459.7h0M1241.4,1314.4h0M1166.6,1454.2h0M1222.2,1399.2h0M1159.8,1438h0M1216.9,1402.5h0M1237.6,1358.5h0M1245.5,1385.2h0M1162.1,1454.5h0M1205.1,1409.5h0M1196.8,1408.8h0M1195.3,1422h0
M1249.8,1342.9h0M1168.6,1439.1h0M1241.1,1385.4h0M1237.8,1364.9h0M1198.3,1406.9h0M1162.2,1440.4h0M1233.9,1363.7h0M1255.4,1340.6h0M1167.1,1437.8h0M1159.8,1455.5h0M1171.5,1441.7h0M1200.9,1402.2h0
M1203.1,1407.5h0M1240.5,1328.1h0M1165.7,1447.8h0M1258.5,1325.3h0M1210.8,1413.8h0M1180.2,1429h0M1147.8,1448.9h0M1218.9,1397.3h0M1170.4,1431.6h0M1200.7,1403.3h0M1266.2,1281.2h0M1170.5,1442.1h0
M1197.2,1409.5h0M1251.4,1351.8h0M1148.4,1467.1h0M1229.7,1378.5h0M1203.7,1416.8h0M1188.2,1417.7h0M1208.1,1408.1h0M1199.5,1411.5h0M1215.3,1412.3h0M1158.6,1450.3h0M1189.8,1397.8h0M1262.3,1310.9h0
M1208.5,1404.5h0M1225.9,1401.1h0M1204.3,1413.3h0M1267.1,1339.9h0M1159.6,1437.6h0M1189.2,1407.1h0M1230.8,1390.4h0M1244.1,1364.6h0M1195.1,1372.5h0M1238.4,1357.8h0M1192,1415.1h0M1157.3,1456.8h0
M1147.1,1453.3h0M1162.8,1439.8h0M1269.5,1291.2h0M1169.2,1440.7h0M1145.9,1458.9h0M1216.7,1372.9h0M1205.8,1395.9h0M1182.5,1413.8h0M1262.4,1308.7h0M1233.5,1353.7h0M1197.2,1405.7h0M1147.9,1449.6h0
M1232.1,1392.9h0M1229.9,1364.2h0M1187.5,1435.6h0M1267.7,1310.6h0M1261.2,1305.1h0M1208.4,1410.6h0M1251.8,1340.5h0M1252.5,1349.4h0M1191.5,1421.9h0M1270.3,1347.4h0M1194.1,1401.9h0M1241,1331.9h0
M1202.5,1416.2h0M1159.4,1448.1h0M1215.7,1411.1h0M1234.2,1373.6h0M1222.2,1377h0M1182.7,1416.8h0M1257.1,1362.4h0M1245,1295.4h0M1195.3,1405.7h0M1179.7,1422.9h0M1248.6,1358.7h0M1178.8,1411h0
M1177.8,1414.2h0M1178.8,1416.4h0M1221.5,1360h0M1179.6,1437.1h0M1253.3,1346.2h0M1180.7,1384.9h0M1264.5,1372.7h0M1194.4,1415.1h0M1235.2,1371.4h0M1167.2,1451h0M1167.1,1450h0M1178,1434.7h0
M1180.9,1447.1h0M1229.2,1369.3h0M1265.8,1367.1h0M1228.4,1345.5h0M1223.6,1349.2h0M1268.2,1324.5h0M1184.3,1421h0M1245.5,1384.2h0M1223.2,1383.4h0M1223.6,1358.9h0M1194.5,1400.1h0M1268.3,1347.6h0
M1184.8,1418.7h0M1178.6,1446.1h0M1223,1386.1h0M1154.4,1447.7h0M1195.1,1426.1h0M1221.4,1399.4h0M1217.6,1352h0M1257.5,1363.4h0M1258.3,1337.8h0M1151.5,1450h0M1235.7,1334.3h0M1261.9,1345.9h0
M1182.5,1408.1h0M1159.1,1457.1h0M1252.6,1374.2h0M1212.3,1381.6h0M1246.2,1317h0M1201.4,1391.9h0M1259.6,1304.6h0M1259.5,1361.3h0M1200.5,1422.1h0M1252.1,1347.3h0M1246.9,1380.5h0M1220.1,1384h0
M1186,1451.1h0M1175.8,1439.2h0M1238.2,1327.9h0M1240.5,1358.2h0M1147.5,1454.4h0M1240,1377.8h0M1170.9,1436.5h0M1181.8,1426h0M1244,1367.7h0M1223.2,1398.8h0M1259.6,1383h0M1260.7,1312.4h0
M1164.3,1442.8h0M1185.6,1438.4h0M1230.8,1374.3h0M1239,1370.2h0M1186.3,1436.3h0M1178.6,1421.6h0M1247.5,1313h0M1144.9,1460.8h0M1254.9,1354.8h0M1195.5,1417.3h0M1207.9,1386.7h0M1263.2,1365.9h0
M1212.9,1388.9h0M1204.3,1388.6h0M1233.2,1374.9h0M1196.5,1408.2h0M1219.2,1400.6h0M1238,1358.4h0M1161.9,1433.8h0M1232,1393h0M1184.6,1428.4h0M1179.6,1422.4h0M1203.6,1410.8h0M1170,1429.9h0
M1262.1,1309.5h0M1261.3,1342.3h0M1225.7,1375.5h0M1190.4,1395.9h0M1205.8,1403.7h0M1210.4,1393.8h0M1153,1441.1h0M1168.7,1439.5h0M1222.3,1382.6h0M1175.5,1435.3h0M1157.3,1461.6h0M1241.1,1375.6h0
M1162.7,1423.3h0M1154.6,1458.5h0M1262.6,1332.2h0M1182.2,1437.4h0M1248.8,1326.9h0M1173.1,1429.6h0M1228.2,1389h0M1227.9,1351.8h0M1252.6,1333.8h0M1156.7,1451.8h0M1212.2,1393.3h0M1234.6,1356.7h0
M1180.2,1436.9h0M1216.1,1397.9h0M1159.8,1459.8h0M1196.8,1418.2h0M1223.3,1354.7h0M1217.6,1373.5h0M1165.3,1446.2h0M1168.3,1423.9h0M1198.2,1393.2h0M1150.7,1460.5h0M1262.7,1390.5h0M1151.9,1452h0
M1245.9,1358.2h0M1268.3,1326.5h0M1238.8,1348.4h0M1178,1435.2h0M1240.1,1383.9h0M1202,1397h0M1186.7,1417.2h0M1255.1,1361.4h0M1246.7,1341.8h0M1180.8,1405.9h0M1179.8,1425.2h0M1201.2,1424.8h0
M1159.5,1448h0M1192.2,1421.9h0M1207.2,1387.6h0M1230.5,1401h0M1153.5,1457.8h0M1165.2,1435.1h0M1192.8,1399.8h0M1204.2,1422.3h0M1265.9,1357.4h0M1257.5,1298.6h0M1224.4,1380.4h0M1246.9,1358.4h0
M1147.1,1468.9h0M1196.4,1420.2h0M1261.9,1312.2h0M1218.9,1404.9h0M1151.7,1419.9h0M1224.5,1356.8h0M1190.3,1414.1h0M1209.5,1409.1h0M1177.6,1436.5h0M1162.5,1428.4h0M1190.9,1419.8h0M1157.3,1456.3h0
M1193.7,1445.2h0M1262.1,1365.9h0M1214.4,1375.2h0M1172.4,1424h0M1238.3,1369.9h0M1237.8,1359.8h0M1245.6,1344h0M1230.9,1358.5h0M1268.5,1321.2h0M1167.2,1430.1h0M1197.4,1388.9h0M1207.5,1418.1h0
M1170.6,1442.1h0M1193.3,1417.6h0M1263.9,1342.9h0M1218.5,1413.7h0M1244.9,1378.3h0M1180.6,1424.7h0M1223.4,1365.3h0M1173.6,1428.6h0M1172.4,1433.4h0M1267.2,1381.4h0M1182.3,1412.5h0M1173.4,1419.3h0
M1180.3,1418.9h0M1148.4,1462.3h0M1216.6,1394.4h0M1165.6,1456.4h0M1196.4,1422.2h0M1238.1,1388.3h0M1253.9,1372.4h0M1173.7,1435.7h0M1209.9,1399.3h0M1155.1,1456.4h0M1160.9,1449.9h0M1193.2,1395.1h0
M1227.6,1366.2h0M1183,1400.5h0M1155.7,1454.2h0M1199.8,1401.7h0M1208.8,1401.3h0M1255.9,1382.9h0M1185.3,1435.4h0M1185.3,1431h0M1153,1456.8h0M1196.2,1433.7h0M1168.2,1434.3h0M1218.3,1390.8h0
M1202,1410.6h0M1171.9,1412.7h0M1147.1,1445.6h0M1270.1,1343.4h0M1268.2,1343.4h0M1160.2,1434.4h0M1255.6,1375.3h0M1269.7,1300h0M1176.6,1422h0M1250.8,1367h0M1210.8,1386.4h0M1211.2,1413.7h0
M1156.1,1455.7h0M1202.3,1425.5h0M1334.9,1212.2h0M1682.4,1011.6h0M1694.3,951.7h0M1312.2,1292.4h0M1614.9,955.3h0M1276.5,1232.9h0M1446.9,1197.7h0M1490.6,1113.4h0M1406.3,1124.2h0M1515.1,1056.3h0
M1479.1,1213.8h0M1589.9,970.1h0M1486.4,1193h0M1693.4,1030.4h0M1660.9,898.3h0M1362.8,1231.7h0M1588.2,1092.1h0M1677.5,899.7h0M1584.3,1026.3h0M1491.2,1164.7h0M1498.7,1082.5h0M1635.8,1103.8h0
M1562.8,890.7h0M1481.3,1213.8h0M1674,1039.8h0M1576.3,1054.5h0M1416.8,1109h0M1614.9,1085.5h0M1410.2,1270.9h0M1353.9,1253.2h0M1554.9,1170.2h0M1476.8,1185h0M1310.2,1246.2h0M1355.2,1258h0
M1626.7,934.1h0M1306.7,1332.2h0M1466.6,1172.5h0M1483.4,1216.3h0M1708,934.8h0M1297.7,1297.5h0M1286.5,1340.1h0M1497,1118.5h0M1338.5,1299.8h0M1643.6,1107.1h0M1421.5,1225.6h0M1576.7,948.9h0
M1548.3,1158.1h0M1359.1,1270.1h0M1475,1095.6h0M1630.7,989.8h0M1715.9,991.2h0M1423.2,1170.1h0M1663.4,1021.9h0M1565.1,1076.4h0M1393.2,1214.8h0M1607,1109.4h0M1333.3,1239.6h0M1467.1,1059.1h0
M1317.4,1336h0M1343.9,1295.9h0M1417,1249.8h0M1622.7,959.3h0M1336,1266.3h0M1455.3,1075.9h0M1399.5,1117.5h0M1383.3,1276.2h0M1431.8,1167.5h0M1410.4,1111.6h0M1326.7,1277.5h0M1364.3,1296.9h0
M1688.2,978.6h0M1577.2,1060.1h0M1394.8,1259.3h0M1609.4,910.4h0M1446.1,1143.7h0M1396.8,1157.8h0M1478.9,1087h0M1516.3,1064.1h0M1533.4,1135.3h0M1630.2,1008.2h0M1328,1261.3h0M1697.2,899.6h0
M1370.8,1206.6h0M1422,1131.3h0M1296.9,1252h0M1297,1296.2h0M1487.6,1154h0M1711.8,974.8h0M1288.7,1320h0M1336.9,1286.3h0M1418.5,1193.2h0M1486.4,1113.3h0M1670,978h0M1690.3,953.2h0
M1614,1066h0M1426.7,1260h0M1373.8,1221h0M1552,1156.6h0M1285.3,1281.9h0M1692.6,996.1h0M1576.4,1127.3h0M1387.5,1201.9h0M1442,1097.1h0M1508.9,1088.4h0M1650.5,1042.5h0M1504.9,1017.6h0
M1588.2,1112.8h0M1274.6,1288.4h0M1400.5,1236.4h0M1599.9,1043.1h0M1534.9,1031.5h0M1379.8,1273.6h0M1707.8,1023h0M1644.2,958.4h0M1334.2,1248.2h0M1438.6,1097.3h0M1446.2,1111.2h0M1456,1087.7h0
M1517.3,1089.1h0M1446,1189.2h0M1363.4,1293.6h0M1342.4,1234.8h0M1436.3,1166.2h0M1303.1,1288.2h0M1627.1,998.9h0M1306.1,1249.3h0M1658.9,1151h0M1521,1119.3h0M1676.9,938h0M1413,1204h0
M1653.3,1004.9h0M1697.9,1061.9h0M1428.1,1251.6h0M1507.1,1087.6h0M1289.9,1306.8h0M1607,1064.6h0M1396,1232.4h0M1466.7,1173.9h0M1440.2,1217h0M1317.2,1296.2h0M1321.6,1335.5h0M1616.9,1012.8h0
M1509.9,1015.5h0M1584.8,1072h0M1556.7,1043.1h0M1469.2,1158.2h0M1331.9,1291.7h0M1374.4,1285.1h0M1372.9,1173.1h0M1678,1037.9h0M1566,1013h0M1551.8,1040.1h0M1531.1,1144.8h0M1395,1189.4h0
M1339.6,1288.2h0M1596.3,1082.6h0M1671.3,1002.9h0M1651.1,914.1h0M1540,1005.6h0M1276.7,1324.5h0M1425.5,1162.3h0M1333,1225.5h0M1523,1061.2h0M1552.6,1134.9h0M1365.9,1261.4h0M1520.3,1025.9h0
M1640,953.1h0M1305,1272.5h0M1436.3,1235.1h0M1427.3,1222.6h0M1580.2,1108h0M1624.8,904.8h0M1458.6,1110.8h0M1702.5,1006.2h0M1659.6,896.1h0M1321.6,1256.3h0M1299.1,1297.5h0M1462.3,1182.9h0
M1279.4,1350.2h0M1577.1,988.8h0M1584.4,1142.1h0M1554.7,1012.8h0M1475.2,1121.8h0M1442.8,1251.5h0M1410,1138.5h0M1286.2,1332h0M1322.2,1288.6h0M1523.9,1139.3h0M1368.5,1304.3h0M1404,1288.5h0
M1307.4,1335.5h0M1543.3,939.4h0M1522.8,1068h0M1442.7,1138.1h0M1571.3,1004.2h0M1423.1,1139.1h0M1499,1132.3h0M1398.4,1208.6h0M1312.7,1368.2h0M1363.1,1207.9h0M1711,947h0M1358.1,1206.5h0
M1469.5,1129.3h0M1685.2,984.1h0M1689.4,943.7h0M1450.8,1211.7h0M1548.7,1140.8h0M1715,929.5h0M1596.2,1030.3h0M1515.7,971.6h0M1559.9,1118.5h0M1278.5,1311.9h0M1298.4,1343.4h0M1554.5,923.5h0
M1574.1,1129.6h0M1417,1064.8h0M1535.8,968.3h0M1512.8,1141.9h0M1403.8,1216.2h0M1316.2,1293.8h0M1284.3,1334.1h0M1392.4,1137.8h0M1374,1167.5h0M1330,1269.5h0M1423.7,1182.2h0M1429.8,1138.7h0
M1301,1308.1h0M1586.2,971.1h0M1272.4,1348.5h0M1592.3,1175.3h0M1704.4,1033h0M1469.1,1119.4h0M1512.3,1007.6h0M1635.7,980.6h0M1430.4,1240h0M1593.3,1065h0M1562.8,1145.4h0M1403.8,1163.5h0
M1377.4,1209.4h0M1692.4,1065.7h0M1448.1,1152.7h0M1325.6,1288.9h0M1400.9,1208.5h0M1299.4,1340.2h0M1626.2,1059h0M1354.2,1257.7h0M1509.4,1213h0M1490.7,1066.4h0M1510.1,1207.7h0M1310,1302.9h0
M1399.9,1239.9h0M1665.1,973.6h0M1466.1,1082.8h0M1704.4,898.1h0M1346,1265.6h0M1674,1027h0M1674.7,948.1h0M1539.9,1129h0M1409.1,1163.7h0M1405.2,1183.6h0M1431,1128.3h0M1456.2,1086h0
M1589,981.4h0M1419.6,1190.7h0M1657.2,940.3h0M1315.4,1326.8h0M1709.5,1034h0M1421,1153.9h0M1621.3,1047.7h0M1512.7,1142.9h0M1291.9,1330.5h0M1410.9,1139.4h0M1578.1,1150.2h0M1663.7,887.5h0
M1474.5,1073.5h0M1565.1,1078.8h0M1418.1,1192.8h0M1392.1,1202.6h0M1278.4,1294.7h0M1372,1159.4h0M1494.8,1110.9h0M1367.9,1197.1h0M1361.7,1257.9h0M1701.9,996.4h0M1666.1,918.4h0M1536.9,1173.1h0
M1527.6,1150.3h0M1466.3,1208.6h0M1446.8,1143h0M1612.9,1065.1h0M1636.1,1028.3h0M1536.6,1091.2h0M1395.2,1236.4h0M1287.2,1290.5h0M1526.9,977.3h0M1313.7,1299.8h0M1289.2,1345.4h0M1556.2,1019.1h0
M1307.3,1326.8h0M1484.6,1034.7h0M1562,936.1h0M1387.9,1210h0M1711.8,888.5h0M1473.9,1089.9h0M1328.5,1217.4h0M1427.3,1157.2h0M1417.9,1288.9h0M1424.5,1204.9h0M1574.3,995.3h0M1313.5,1323.6h0
M1665.4,893.9h0M1296.3,1309.3h0M1670.4,925.7h0M1684,896.3h0M1564.7,1198h0M1309.7,1307h0M1491.6,1042.2h0M1648,1135.6h0M1464.1,1089.2h0M1410.8,1194h0M1600.8,1036.2h0M1533,1023h0
M1578.3,1041.6h0M1331.5,1246h0M1275,1310.8h0M1553.6,1037.6h0M1520.9,904.9h0M1396.6,1284.5h0M1440.7,1118.3h0M1671.3,941.8h0M1592.1,1089.9h0M1489.6,1063.7h0M1611.4,1165.3h0M1385.2,1197.9h0
M1428.6,1141.3h0M1580.4,1093.8h0M1316,1312.2h0M1446.1,1214h0M1285.9,1337.7h0M1301.3,1333.9h0M1436.2,1132.6h0M1382.1,1240.8h0M1425.9,1081.9h0M1658.3,901.3h0M1454.6,1089.9h0M1616.6,979.5h0
M1372.3,1145.1h0M1460.7,1143.4h0M1372.3,1211.4h0M1381.2,1250.9h0M1404.3,1158.8h0M1632.5,1118.7h0M1594,1063.2h0M1359.2,1238.4h0M1714.1,918.4h0M1563.8,978.7h0M1545.1,993.2h0M1379.1,1247.1h0
M1369.7,1235.5h0M1594.4,997.8h0M1466.8,1118.5h0M1535.1,1001.9h0M1339.1,1315h0M1439.4,1098.7h0M1540.3,1029h0M1623.6,1015.1h0M1602.8,974.8h0M1322.1,1260.3h0M1537.4,1118.4h0M1588.2,1066.4h0
M1447.5,1192.5h0M1271.3,1333.8h0M1546.4,1064.1h0M1345.3,1198.4h0M1295.9,1294.6h0M1509.8,1035h0M1411,1267.3h0M1400,1213.4h0M1558.7,1163.6h0M1404.4,1187.4h0M1438.2,1177.7h0M1438.6,1182.6h0
M1534.1,945.8h0M1316.5,1286.8h0M1421.4,1087.9h0M1602.6,950.6h0M1407.2,1168.9h0M1686.6,913.8h0M1402.6,1282.1h0M1351.6,1259.9h0M1323.5,1283h0M1603.4,968.2h0M1297,1310.5h0M1520.9,1027.9h0
M1273.4,1352.7h0M1532.5,1084.7h0M1427.9,1302.8h0M1567.8,1076.1h0M1675,1051.9h0M1672.9,1076.1h0M1389.2,1202.7h0M1417.4,1190h0M1344.7,1287.7h0M1326.3,1301.3h0M1295.6,1331.6h0M1306.2,1316h0
M1398.4,1192.4h0M1295.4,1243.9h0M1520.3,1055.8h0M1583.8,966h0M1548.7,1052.9h0M1466.6,1244.3h0M1397.4,1157.1h0M1652.2,1038.6h0M1381.6,1153.3h0M1304.5,1301.2h0M1542.6,1060h0M1359.6,1227.7h0
M1402.1,1193.5h0M1612.7,1074.7h0M1319.9,1314.6h0M1706,926.9h0M1526.8,1037.4h0M1451.4,1162.3h0M1674.5,929.3h0M1312.5,1309.4h0M1278.8,1378.9h0M1596.4,898h0M1369.3,1267.3h0M1600.7,1014.1h0
M1441.4,1100h0M1560.1,1069.9h0M1400.4,1282.3h0M1362.9,1234.7h0M1380.1,1239.8h0M1613.4,1029h0M1643.3,1046.2h0M1292.9,1332.8h0M1567.5,1041.1h0M1713.6,960.8h0M1306.2,1349.1h0M1555.9,1095.3h0
M1702.2,1090.3h0M1560.1,1114.3h0M1425.3,1197.7h0M1321.8,1282h0M1539.7,1100.1h0M1603.9,958h0M1571.2,1071.1h0M1416.8,1143.4h0M1502.1,1105.9h0M1411.9,1208.2h0M1597.5,1062.2h0M1659.1,1075.9h0
M1426.8,1208h0M1437.7,1153h0M1334.3,1276.5h0M1274.3,1318.3h0M1277,1308.1h0M1704.5,906.7h0M1688.9,929.7h0M1595.4,973.8h0M1316.4,1329.7h0M1367.4,1235.6h0M1644.7,957.5h0M1273.9,1327.2h0
M1589.5,1095.7h0M1279.5,1346.4h0M1597.1,1096.8h0M1396.3,1263.8h0M1658.8,949.4h0M1550,1073.7h0M1416.3,1334.7h0M1603.7,1066.5h0M1315.4,1265.6h0M1296.7,1204.2h0M1472.2,1005.2h0M1578.4,1110.8h0
M1607.6,938.2h0M1368.1,1268.2h0M1430.6,1087.3h0M1429.7,1143.3h0M1317,1266.3h0M1357.3,1193.3h0M1350.7,1283.3h0M1282.7,1288h0M1370.6,1178.1h0M1452.3,1231.9h0M1706.6,904.3h0M1655.5,887.3h0
M1576.4,1095.9h0M1698.3,943h0M1703.3,952.5h0M1464.9,1147.5h0M1656.8,1121.8h0M1434.4,1154.8h0M1295.3,1316.7h0M1500,1119.8h0M1324.3,1293.3h0M1338.8,1186.5h0M1686.4,971.3h0M1626.8,1015.6h0
M1427.7,1205.3h0M1563.8,934.2h0M1328.8,1311.4h0M1591.7,930.3h0M1617.1,1084.7h0M1715.9,965.8h0M1341.8,1264.3h0M1387.4,1163.4h0M1408.2,1216.4h0M1628.3,952.6h0M1630.9,962.5h0M1615.3,952.4h0
M1291.3,1341.5h0M1423.5,1163.5h0M1399.2,1276.3h0M1461.4,1218h0M1287.9,1308.7h0M1502.8,1136.1h0M1381,1204.1h0M1293,1258.2h0M1485,1166.6h0M1577.5,1043.8h0M1582.1,1064.9h0M1413.9,1212.5h0
M1561.8,1047.1h0M1664.1,980.7h0M1557.2,1012.6h0M1506.9,1071.7h0M1359.3,1270.7h0M1484.8,1104.5h0M1475.3,1133.1h0M1497.2,1059.2h0M1419.6,1185.5h0M1388,1187.4h0M1406.7,1216.8h0M1527.1,1050h0
M1655.5,954.9h0M1595.1,1094.1h0M1542.4,1110.7h0M1719.3,1049.5h0M1487.6,1091.9h0M1691.3,1056.4h0M1453.1,977.6h0M1593.4,1000.9h0M1308.4,1248.7h0M1575.7,1050.4h0M1583.2,1013.4h0M1608.1,990.5h0
M1326.1,1310.6h0M1521.9,1045.5h0M1668.2,947.1h0M1517.4,951.8h0M1565.5,910.5h0M1386.6,1187.8h0M1445.6,1237.3h0M1287.9,1332.5h0M1532.3,1109.6h0M1539.3,1073.8h0M1407.2,1172.4h0M1404,1199.6h0
M1487,1173.9h0M1515.7,1122.6h0M1325.3,1265.8h0M1462,1107.2h0M1461.2,1228.3h0M1428.9,1203.4h0M1421.7,1142.6h0M1533.4,1105.1h0M1412.2,1236.7h0M1574.1,989.5h0M1525.7,1081.6h0M1690.6,1019h0
M1642.2,1076.4h0M1408.8,1088.1h0M1402.5,1263.4h0M1629.4,1161h0M1312.2,1335.6h0M1518.1,1164.2h0M1660.9,989.7h0M1632.3,893.5h0M1349.9,1244.3h0M1391.8,1297.5h0M1412,1190.7h0M1395.1,1190.5h0
M1358.9,1155.8h0M1289.6,1324.9h0M1316.9,1294.7h0M1693.3,951.7h0M1638.3,1060.9h0M1551.1,1090.9h0M1491.5,1112.6h0M1415.4,1185.6h0M1382.9,1316.5h0M1545.1,1106.3h0M1711.3,884.5h0M1330,1275.6h0
M1453.6,1171.9h0M1361.3,1176.5h0M1494.8,1102.3h0M1399.8,1103.2h0M1466.4,1224.1h0M1587.8,1105.3h0M1452.5,1150.4h0M1390.4,1222.6h0M1507.2,1144.3h0M1543.1,1202.7h0M1458.5,1074.8h0M1327.6,1296h0
M1316.5,1255.1h0M1524,1036.2h0M1273.9,1335.6h0M1271.4,1366.8h0M1649.1,1008.4h0M1517.3,1087.9h0M1437.2,1203.3h0M1709,892.7h0M1554.9,955.2h0M1466.1,1139.1h0M1499.8,916.8h0M1411.8,1282.8h0
M1631.6,985.7h0M1581.3,975h0M1570.6,1095.4h0M1453.5,1134.7h0M1665.3,906.6h0M1520.2,1036.4h0M1437.2,1248.1h0M1323.9,1265.3h0M1339.1,1207.8h0M1491.6,959.7h0M1674.4,1006.5h0M1504.2,1223.4h0
M1316,1242.5h0M1549.6,1105.4h0M1632.6,946.9h0M1620,971.1h0M1335.9,1303.7h0M1412.2,1224.8h0M1701.1,885.6h0M1629.4,937.8h0M1457.3,1101.3h0M1544.7,999.6h0M1565.6,1082.5h0M1556.4,1031.9h0
M1601.3,935.6h0M1414.8,1276.3h0M1319.9,1283.8h0M1500.1,1201h0M1670.9,949.1h0M1533.8,1069.7h0M1692.1,1038.4h0M1392.4,1169h0M1392.9,1122h0M1316.2,1184h0M1421.8,1172.7h0M1271.8,1323.9h0
M1489.1,1123.2h0M1579.7,966.5h0M1508,1198.9h0M1565.4,1058.3h0M1584,1157h0M1614.2,886h0M1403.9,1155.2h0M1311.8,1301.3h0M1371.3,1172h0M1354.6,1223.6h0M1302.3,1276.4h0M1359.2,1259.9h0
M1275.6,1332.9h0M1660.7,933.7h0M1501.6,969.9h0M1283.6,1344.5h0M1685.6,988.8h0M1441.6,1130.9h0M1579.5,1055.5h0M1511.4,1090.5h0M1525.8,963.7h0M1691.8,1046.9h0M1485.6,1086.4h0M1434.1,1160.7h0
M1401.8,1207.2h0M1283.4,1363.8h0M1377.3,1246.1h0M1386.9,1265.1h0M1501.1,907.4h0M1318.3,1322.9h0M1424.3,1230.5h0M1655.6,910h0M1533.4,1120.7h0M1694.8,906.2h0M1665,992.9h0M1595.4,955h0
M1695.6,963.2h0M1381.7,1164.1h0M1473.5,1124.8h0M1475.5,1178.4h0M1429.2,1208h0M1706.6,928.4h0M1685,1006.3h0M1430,1130.1h0M1580.6,995.8h0M1652.2,988.7h0M1677.8,954.2h0M1425.2,1003.6h0
M1363,1203h0M1644.8,938.2h0M1522.6,1124.2h0M1651.2,937.1h0M1485.2,1201h0M1638.5,1016.2h0M1511.4,1108h0M1559.4,1100.3h0M1575,961.8h0M1705,930.3h0M1342,1251h0M1392.4,1301.6h0
M1308.4,1335.1h0M1562.3,1012.5h0M1702,885.3h0M1559.5,1067.6h0M1710.5,1037.6h0M1287.3,1359.6h0M1443.8,1182.5h0M1534.6,1020.9h0M1649,1017.4h0M1278.5,1354.8h0M1408,1208.1h0M1657.6,909.3h0
M1387.1,1200.2h0M1520.3,1038.7h0M1291.8,1276.1h0M1509.9,1139.5h0M1448.2,1202.3h0M1383.7,1249.4h0M1307.1,1234.5h0M1563.7,995.1h0M1551.2,1052.5h0M1357.3,1148.2h0M1463.9,1077.8h0M1417.1,1183.1h0
M1650.9,1081.3h0M1530.4,981.1h0M1681.1,977.7h0M1585.8,995.6h0M1494.6,1111.7h0M1417.3,1167.9h0M1460,1094.5h0M1447.2,1157h0M1554.8,1074h0M1315.8,1296.7h0M1614.1,909.4h0M1397.9,1239.9h0
M1309.1,1313.5h0M1325.3,1203.2h0M1573.2,1117h0M1487.6,1008.4h0M1554.1,1009.9h0M1404.8,1240.4h0M1507.4,1152.1h0M1580.6,1020.3h0M1699.2,927.5h0M1528.7,1083.5h0M1621.9,934.7h0M1454,1069h0
M1520.6,1000.8h0M1457.7,1127.4h0M1552.9,1006.9h0M1292.7,1296.2h0M1451.2,1201.8h0M1643.8,1021h0M1580.3,1007.1h0M1643.8,920.4h0M1449,1178.2h0M1544,1019h0M1520.8,1039.4h0M1326.6,1261.5h0
M1697.6,886h0M1539.8,1124.1h0M1553.6,1117.9h0M1323.3,1290.2h0M1629.2,1058.4h0M1594.1,1018.9h0M1436.9,1140.9h0M1554.4,1038.5h0M1497.5,1028.2h0M1615.8,944.6h0M1338.7,1249.4h0M1292.9,1334.8h0
M1457.8,1057.2h0M1369.4,1224.5h0M1285.9,1290.9h0M1583,894.3h0M1451.1,1136.3h0M1296,1276.8h0M1476.8,996.9h0M1367.1,1326h0M1394.2,1191h0M1649.4,942.1h0M1275.9,1294.6h0M1281.1,1313.5h0
M1362.3,1261.9h0M1588.6,1038.8h0M1404.4,1120h0M1582.5,961.1h0M1516.3,1159.5h0M1718.5,941.3h0M1465.2,1146.3h0M1384,1189.9h0M1415,1153.7h0M1713.2,997.3h0M1459.9,1114.1h0M1489.1,1026.9h0
M1604.5,958.5h0M1443.7,1168.6h0M1602,1013.5h0M1300,1296.8h0M1442.7,1203h0M1687.7,885.8h0M1340.5,1292.1h0M1563,1016.7h0M1304.7,1304.1h0M1357.1,1244.5h0M1450.7,1172.7h0M1560.5,921.4h0
M1570.1,1094.4h0M1374.1,1179.9h0M1276.9,1348h0M1301.2,1294.3h0M1621.6,899.5h0M1712.3,918.9h0M1573.7,1041.7h0M1578.3,1042.2h0M1277.7,1314h0M1353.3,1314.4h0M1555.4,1126.1h0M1609.9,1046.2h0
M1377.3,1269.7h0M1549.6,1127.7h0M1433.4,1223.3h0M1679.2,996.2h0M1290.9,1330.2h0M1310,1281.4h0M1519.2,1076.4h0M1546.5,1011.9h0M1413.9,1190.2h0M1328.4,1309.1h0M1274.1,1325.1h0M1701.8,1032.7h0
M1597.1,991.6h0M1486.9,1090.5h0M1527.5,1098.6h0M1280.1,1323.6h0M1502.7,1005.8h0M1636.9,947.7h0M1410.1,1193.6h0M1565.3,1082.1h0M1482.3,1003.1h0M1375.9,1235.1h0M1374.8,1228.6h0M1459.7,1144.4h0
M1311.2,1295h0M1283.5,1300.6h0M1511.2,1116.8h0M1667.4,964.8h0M1411,1262.5h0M1608.8,893h0M1448.1,1120h0M1390.4,1214.3h0M1679.7,996.8h0M1401.1,1245.2h0M1348,1278.1h0M1622.7,986.8h0
M1513.3,1144h0M1443.2,1093.2h0M1566,1033.8h0M1693.5,910.1h0M1540.4,1141.6h0M1300.5,1331.3h0M1546.7,982h0M1379.4,1210.2h0M1515.4,1091.3h0M1299.4,1223.4h0M1628,1025.6h0M1616.3,899h0
M1595.6,960.1h0M1445.8,1073.5h0M1679.2,980.7h0M1418.6,1192h0M1416.2,1227h0M1561.4,1083.1h0M1298.5,1271.2h0M1492.5,1070.9h0M1380.7,1293.5h0M1573.5,917.4h0M1495.5,1102.6h0M1654.4,1029.4h0
M1589.7,998.3h0M1647.4,1085.7h0M1439.2,1111.2h0M1517.2,1006.5h0M1638.5,897.7h0M1546.7,1073.2h0M1592.1,984.6h0M1524.4,1076.1h0M1629.9,1005.7h0M1665.6,898.5h0M1328.5,1267.7h0M1559,985.1h0
M1365.4,1306.6h0M1694.1,923.9h0M1526,999.2h0M1306.5,1372.2h0M1329.8,1365.3h0M1496.1,1125.6h0M1423.5,1224.3h0M1605.7,980.4h0M1508.4,1085.2h0M1381.9,1156.2h0M1427.8,1206.5h0M1346.3,1212.5h0
M1280.5,1303.3h0M1513.3,1027.6h0M1450,1178.6h0M1374.7,1256.4h0M1635,958.2h0M1572,1204.9h0M1522.8,1114.6h0M1467.2,1171.9h0M1661,932h0M1482.6,1149.4h0M1666,902.1h0M1445.2,1127.4h0
M1342,1300.5h0M1500.6,999.4h0M1402.7,1148.1h0M1437.8,1166.2h0M1646.3,946.3h0M1600.9,929h0M1548,1068.2h0M1369.4,1315.7h0M1541,1008.5h0M1289.7,1330h0M1299,1299.7h0M1409.2,1267.2h0
M1320.3,1295.1h0M1461.4,987.4h0M1537.4,1111.3h0M1394.3,1154.7h0M1303.1,1237.3h0M1659.4,905.9h0M1349.4,1248.9h0M1674.5,954.3h0M1439.8,1216.9h0M1636.7,1071.7h0M1559.7,1114.6h0M1436.3,1077.1h0
M1287.9,1322.8h0M1574.3,1013.6h0M1347.7,1287h0M1650.5,1100.7h0M1684.6,917.4h0M1379.4,1213.9h0M1518.1,1090.9h0M1346.3,1282.7h0M1646.4,1009.9h0M1359.1,1266.9h0M1617.2,995.6h0M1355.6,1281.1h0
M1481.3,1239.4h0M1580.1,1024.3h0M1418.1,1123.4h0M1456.6,1091.3h0M1382.3,1182.3h0M1495.6,1190.1h0M1634.7,961.5h0M1448.6,1156.9h0M1495.6,1106.6h0M1645.8,919.2h0M1341.9,1238.4h0M1514,1194.9h0
M1333.9,1301.8h0M1601.7,1015h0M1636.8,980.4h0M1501,1046.6h0M1403.9,1204.9h0M1684.5,996.4h0M1425.2,1209.4h0M1522.5,1205.8h0M1397.7,1195.1h0M1311,1273.9h0M1415.7,1186.5h0M1522.8,1079h0
M1408.4,1198h0M1486.4,1070.5h0M1341.7,1206.4h0M1308.3,1298.6h0M1362.6,1236.5h0M1670.3,1034.4h0M1422.2,1207.1h0M1521.4,1113.1h0M1278,1296.2h0M1465.6,1204.4h0M1297,1267.2h0M1648.4,953.2h0
M1516.5,1211.7h0M1516.7,1214.7h0M1330.5,1248.3h0M1631.6,1032.2h0M1463,1044.7h0M1641.9,932.6h0M1351.2,1243.9h0M1365,1257.3h0M1692.5,1037.1h0M1484.8,1049.7h0M1409.7,1138.4h0M1360.5,1196.8h0
M1424.4,1199.6h0M1517.4,1135h0M1293.3,1333.8h0M1320.6,1303.5h0M1593,979.4h0M1346.5,1210.4h0M1462.3,1159.1h0M1393,1221.6h0M1405.7,1204.9h0M1424.6,1293.4h0M1310.2,1328.4h0M1463.4,978.5h0
M1598.7,1058.5h0M1434.9,1181.6h0M1628.9,968.1h0M1302.4,1300.2h0M1684.2,994.4h0M1432.7,1135.9h0M1613.9,1186.6h0M1495.8,1012h0M1369.7,1199.1h0M1380.4,1262.3h0M1290.7,1325.1h0M1516.3,1070.2h0
M1610.1,889.5h0M1707.5,911.9h0M1396.7,1247.6h0M1410.3,1221.1h0M1301.7,1278.5h0M1297.6,1284.1h0M1558.3,983.7h0M1319.8,1275.2h0M1600.6,1045.6h0M1582.6,1121.4h0M1584.4,969.7h0M1557.7,1073.4h0
M1358.7,1275.7h0M1694.8,1093.3h0M1494.1,1095h0M1429.7,1192.1h0M1295.8,1315.1h0M1388.8,1236.4h0M1546.4,985.9h0M1340.1,1220.5h0M1638.1,1027.8h0M1488.7,1083h0M1291.8,1293.2h0M1362.7,1134.3h0
M1505,1132.4h0M1555.3,911.9h0M1387,1229.8h0M1359.8,1218.3h0M1575.2,1035.2h0M1632.5,944.2h0M1291.7,1274.8h0M1553,1149h0M1478.7,1139.6h0M1510,1031h0M1370.1,1242.3h0M1699.7,953.2h0
M1630.3,897h0M1605.8,1096.8h0M1545.5,1019.4h0M1591.7,915.2h0M1349.7,1238.2h0M1523.8,1040.7h0M1611,1073.7h0M1701.2,930.3h0M1325.5,1275.4h0M1317.3,1257.5h0M1555,995.9h0M1286,1336.2h0
M1648.7,985.7h0M1535.4,1087.7h0M1619.8,1047.7h0M1442.1,1190.3h0M1579.2,1112.5h0M1404.4,1212.3h0M1439,1120.1h0M1455.8,1166.4h0M1637.8,1047.9h0M1483,1039h0M1706.1,969.6h0M1311.6,1314h0
M1354.3,1190.3h0M1327.7,1249.4h0M1496.5,1049.9h0M1316.1,1307.6h0M1636.6,1029.3h0M1484.1,1111h0M1477.7,1077.4h0M1511.6,1132.5h0M1451.1,1231h0M1616.4,1121.4h0M1562.5,1015.7h0M1630.8,924.5h0
M1444.6,1161.3h0M1462.1,1111.5h0M1283.5,1305.5h0M1433.9,1255.8h0M1418.4,1210.5h0M1696.5,953.6h0M1351,1245.3h0M1658.1,904.1h0M1525.7,955.5h0M1553.5,971.5h0M1590.9,963.9h0M1668.9,958.3h0
M1420.3,1125.8h0M1274.4,1326.8h0M1445,1153.2h0M1304.8,1252h0M1635,1062.3h0M1448,1123.3h0M1570.8,1057.9h0M1718.9,942.6h0M1570.6,992.9h0M1711.8,965h0M1547.5,1085.3h0M1435.3,1189.3h0
M1570.5,905h0M1397.9,1161.5h0M1552.3,1134.9h0M1418.7,1268h0M1335.1,1228.4h0M1582.9,1087.6h0M1503.3,1042.3h0M1541.6,1001.3h0M1391.5,1138.5h0M1553.6,977.1h0M1477.3,1049.4h0M1401.6,1178.1h0
M1364.1,1253.7h0M1659.8,981.2h0M1319.5,1203h0M1493.2,1066.3h0M1607.9,1024.7h0M1578.2,1015.8h0M1513.2,1024.1h0M1503.2,1076.3h0M1399.7,1267.7h0M1352.7,1231.1h0M1523.6,1151.1h0M1306.4,1302.8h0
M1696.4,912.7h0M1375.9,1269h0M1342.8,1266.1h0M1461.7,1205.4h0M1360.1,1257.5h0M1481.9,1106.9h0M1609.4,1166h0M1378.8,1210.1h0M1318.8,1287.1h0M1495.4,1216.3h0M1652.9,1177h0M1681.9,932h0
M1556.1,1037.6h0M1401.1,1202.5h0M1493.3,1149.9h0M1434.7,1184.9h0M1271.9,1315.9h0M1375.7,1254h0M1566.4,979.5h0M1447.6,1215.4h0M1459.4,1201.5h0M1626.7,999.3h0M1373,1208.5h0M1518.8,1110.3h0
M1410.9,1226.2h0M1701.6,914.6h0M1529.8,1088.1h0M1506.5,1103.1h0M1370.5,1109h0M1448.2,1186.2h0M1522.4,1129.6h0M1362,1317h0M1666.3,918.3h0M1608.4,973h0M1351.3,1271.3h0M1627,1024.7h0
M1611.9,1032.1h0M1360.2,1219.1h0M1457,1150.8h0M1548.5,1009.1h0M1691.6,948.6h0M1580,1078.7h0M1373.9,1264.9h0M1416.9,1176.3h0M1619.9,978.8h0M1501.5,1141.7h0M1419.6,1189.4h0M1573.3,1111.2h0
M1329.9,1272.4h0M1647.8,1045.1h0M1509.4,1050.8h0M1310.9,1305.7h0M1462.1,1115.9h0M1601.9,1037.6h0M1588,1012.9h0M1438.2,1150.9h0M1549.6,1041.1h0M1396.3,1189.7h0M1347.6,1245.2h0M1664.3,1053.8h0
M1459,1086.4h0M1441.8,1180h0M1602.3,963.1h0M1705.3,1033.9h0M1384,1265.7h0M1367.6,1249.4h0M1290.2,1320.1h0M1502.8,1094.6h0M1352.1,1209.1h0M1302.2,1377.9h0M1712.4,1036.3h0M1578.8,1051.7h0
M1360.9,1221.9h0M1406.6,1213.2h0M1514.8,1053.3h0M1661.2,987.4h0M1509.1,951.2h0M1541.3,1102.6h0M1634.6,1029.6h0M1657.7,889.7h0M1334.8,1293.6h0M1439.6,1147.9h0M1714.6,955.7h0M1347.1,1260.6h0
M1435.5,1034.6h0M1661,1099.3h0M1424.2,1183.6h0M1412.3,1129.9h0M1604,1028.2h0M1661.7,987.9h0M1459.1,1052.3h0M1574.9,1036.2h0M1412.6,1283.6h0M1435.7,1143.7h0M1641.7,1019h0M1513.3,1199.8h0
M1378.8,1264.6h0M1324.1,1333.1h0M1673.7,1001h0M1477.8,1220.7h0M1477,1231.9h0M1606.1,1055.9h0M1485,1100h0M1640.9,941.2h0M1143.9,1523.9h0M1143.9,1537.7h0M1122.2,1441.5h0M1113.4,1470h0"/>
<g stroke="#000080" fill="#000080">
<line x1="1194.55" y1="1448.63" x2="1194.55" y2="1374.6" stroke-width="5"/>
<line x1="1181.05" y1="1448.63" x2="1208.05" y2="1448.63" stroke-width="2.6"/>
<line x1="1181.05" y1="1374.6" x2="1208.05" y2="1374.6" stroke-width="2.6"/>
<circle cx="1194.55" cy="1410.61" r="8.6" stroke="none"/>
</g>
</g>
<rect x="1018.7" y="897.8" width="694.3" height="690.1" fill="none" stroke="#2b2b2b" stroke-width="2"/>
<g stroke="#2b2b2b" stroke-width="2">
<line x1="1018.7" y1="1587.9" x2="1018.7" y2="1597.4"/>
<line x1="1018.7" y1="1587.9" x2="1009.2" y2="1587.9"/>
<line x1="1144.94" y1="1587.9" x2="1144.94" y2="1597.4"/>
<line x1="1018.7" y1="1462.43" x2="1009.2" y2="1462.43"/>
<line x1="1271.17" y1="1587.9" x2="1271.17" y2="1597.4"/>
<line x1="1018.7" y1="1336.95" x2="1009.2" y2="1336.95"/>
<line x1="1397.41" y1="1587.9" x2="1397.41" y2="1597.4"/>
<line x1="1018.7" y1="1211.48" x2="1009.2" y2="1211.48"/>
<line x1="1523.65" y1="1587.9" x2="1523.65" y2="1597.4"/>
<line x1="1018.7" y1="1086.01" x2="1009.2" y2="1086.01"/>
<line x1="1649.88" y1="1587.9" x2="1649.88" y2="1597.4"/>
<line x1="1018.7" y1="960.54" x2="1009.2" y2="960.54"/>
</g>
<g font-family="'DejaVu Sans','Liberation Sans',sans-serif" font-size="25.0" fill="#1c1c1c">
<text x="1018.2" y="1624.4" text-anchor="middle" font-size="24.7">0</text>
<text x="999.2" y="1596.1" text-anchor="end" font-size="24.7">0</text>
<text x="1144.44" y="1624.4" text-anchor="middle" font-size="24.7">10</text>
<text x="999.2" y="1470.63" text-anchor="end" font-size="24.7">10</text>
<text x="1270.67" y="1624.4" text-anchor="middle" font-size="24.7">20</text>
<text x="999.2" y="1345.15" text-anchor="end" font-size="24.7">20</text>
<text x="1396.91" y="1624.4" text-anchor="middle" font-size="24.7">30</text>
<text x="999.2" y="1219.68" text-anchor="end" font-size="24.7">30</text>
<text x="1523.15" y="1624.4" text-anchor="middle" font-size="24.7">40</text>
<text x="999.2" y="1094.21" text-anchor="end" font-size="24.7">40</text>
<text x="1649.38" y="1624.4" text-anchor="middle" font-size="24.7">50</text>
<text x="999.2" y="968.74" text-anchor="end" font-size="24.7">50</text>
<text x="1365" y="1662.9" text-anchor="middle">MAP estimate of <tspan font-style="oblique">n</tspan><tspan font-style="normal" font-size="18.4" dy="-8.2">(eff)</tspan></text>
<text transform="translate(950,1242.85) rotate(-90)" text-anchor="middle"><tspan font-style="oblique">n</tspan><tspan font-style="normal" font-size="18.4" dy="-8.2">(eff)</tspan></text>
<rect x="1286.0" y="1392.2" width="414.5" height="184" rx="5" ry="5" fill="#ffffff" fill-opacity="0.8" stroke="#d4d4d4" stroke-width="2"/>
<rect x="1296" y="1404.9" width="49.6" height="18.3" fill="#0000ff" fill-opacity="0.1" stroke="#0000ff" stroke-opacity="0.1" stroke-width="1.6"/>
<line x1="1295" y1="1450.2" x2="1345.6" y2="1450.2" stroke="#0000ff" stroke-opacity="0.5" stroke-width="3.0"/>
<circle cx="1319.6" cy="1496.6" r="2.5" fill="#ff0000"/>
<g stroke="#000080" fill="#000080"><line x1="1319.6" y1="1534.7" x2="1319.6" y2="1559.7" stroke-width="5"/><line x1="1305.5" y1="1534.7" x2="1334" y2="1534.7" stroke-width="2.6"/><line x1="1305.5" y1="1559.7" x2="1334" y2="1559.7" stroke-width="2.6"/><circle cx="1319.6" cy="1547.2" r="8.6" stroke="none"/></g>
<text x="1363.3" y="1421.9">95% confidence region</text>
<text x="1363.3" y="1458.8">ideal estimation</text>
<text x="1363.3" y="1504.6"><tspan font-style="oblique">n</tspan><tspan font-style="normal" font-size="18.4" dy="-8.2">(eff)</tspan><tspan dy="8.2"> samples</tspan></text>
<text x="1363.3" y="1553.5"><tspan font-style="oblique">n</tspan><tspan font-style="normal" font-size="18.4" dy="-8.2">(eff)</tspan><tspan dy="8.2"> experiment estimate</tspan></text>
</g>
</g>
<g font-family="'Liberation Serif','DejaVu Serif',serif" font-size="46.4" fill="#111">
<text x="394.9" y="858.5" text-anchor="middle">(a)</text>
<text x="1318.8" y="858.5" text-anchor="middle">(b)</text>
<text x="394.9" y="1753.3" text-anchor="middle">(c)</text>
<text x="1318.8" y="1753.3" text-anchor="middle">(d)</text>
</g>
</svg>
</body></html>
